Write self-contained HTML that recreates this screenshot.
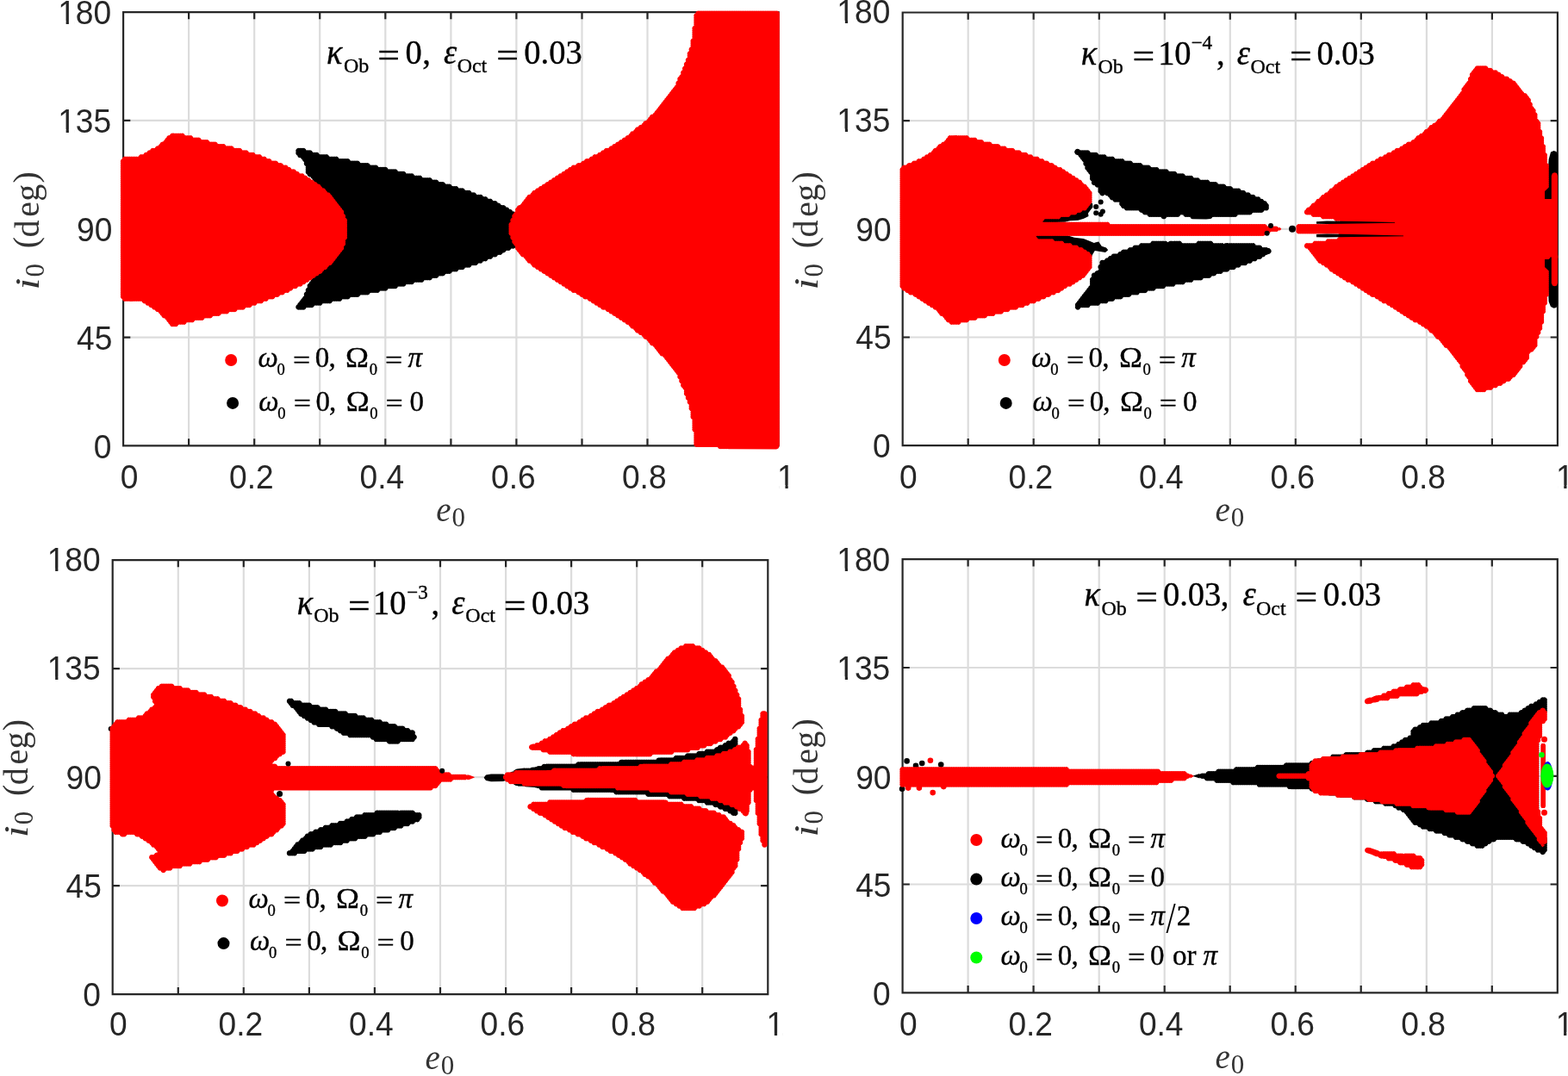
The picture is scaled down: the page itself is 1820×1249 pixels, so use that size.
<!DOCTYPE html>
<html lang="en"><head><meta charset="utf-8"><title>Figure</title>
<style>html,body{margin:0;padding:0;background:#fff}body{width:1820px;height:1249px;overflow:hidden}svg{display:block}.s{font-family:"Liberation Sans",sans-serif;fill:#262626}.r{font-family:"Liberation Serif",serif;fill:#000;stroke:#000;stroke-width:.35px}.l{font-family:"Liberation Serif",serif;fill:#333}.i{font-style:italic}</style></head><body>
<svg width="1820" height="1249" viewBox="0 0 1820 1249">
<rect width="1820" height="1249" fill="#fff"/>
<path d="M219.1 14.1V517.4M295.2 14.1V517.4M371.2 14.1V517.4M447.3 14.1V517.4M523.4 14.1V517.4M599.4 14.1V517.4M675.5 14.1V517.4M751.5 14.1V517.4M827.6 14.1V517.4M143.1 139.9H903.6M143.1 265.8H903.6M143.1 391.6H903.6" stroke="#dcdcdc" stroke-width="2.2" fill="none"/>
<path d="M143.1 14.1H903.6V517.4H143.1ZM219.1 14.1v8.2M219.1 517.4v-8.2M295.2 14.1v8.2M295.2 517.4v-8.2M371.2 14.1v8.2M371.2 517.4v-8.2M447.3 14.1v8.2M447.3 517.4v-8.2M523.4 14.1v8.2M523.4 517.4v-8.2M599.4 14.1v8.2M599.4 517.4v-8.2M675.5 14.1v8.2M675.5 517.4v-8.2M751.5 14.1v8.2M751.5 517.4v-8.2M827.6 14.1v8.2M827.6 517.4v-8.2M143.1 139.9h8.2M903.6 139.9h-8.2M143.1 265.8h8.2M903.6 265.8h-8.2M143.1 391.6h8.2M903.6 391.6h-8.2" stroke="#262626" stroke-width="2.2" fill="none"/>
<path d="M345.3 180.5l0.3 1.2l1.2 1.2l1.6 0.4l0.7-0.2l0.3 1l1.2 1.2l0.4 0.1l0.3 1.1l1.2 1.3l0.4 0.1l0.2 0.7l-0.4 1.2l0.5 1.7l1.2 1.2l0.4 0.1l0.2 0.7l-0.4 1.2l0.4 1.2l-0.4 1.2l0.4 1.3l-0.4 1.2l0.5 1.6l1.2 1.3l0.4 0.1l0.3 1.1l1.2 1.2l1.6 0.5l0.7-0.2l0.3 1l1.2 1.2l0.4 0.1l0.3 1.1l1.2 1.2l0.4 0.1l0.3 1.2l1.2 1.2l0.4 0.1l0.3 1.1l1.2 1.2l0.4 0.1l0.3 1.2l1.2 1.2l0.4 0.1l0.3 1.1l1.2 1.2l0.4 0.1l0.3 1.1l1.2 1.3l0.4 0.1l0.3 1.1l1.2 1.2l0.4 0.1l0.3 1.2l1.2 1.2l0.4 0.1l0.3 1.1l1.2 1.2l0.4 0.1l0.3 1.2l1.2 1.2l0.4 0.1l0.2 0.7l-0.3 1.2l0.3 1.2l-0.3 1.2l0.3 1.3l-0.3 1.2l0.3 1.2l-0.3 1.2l0.3 1.3l-0.3 1.2l0.3 1.2l-0.3 1.3l0.3 1.2l-0.3 1.2l0.3 1.2l-0.3 1.3l0.3 1.2l-0.3 1.2l0.3 1.2l-0.3 1.2l0.3 1.3l-0.3 1.2l0.3 1.2l-0.3 1.3l0.3 1.2l-0.3 1.2l0.3 1.2l-0.3 1.3l0.3 1.2l-0.3 1.2l0.3 1.2l-0.3 1.2l0.3 1.3l-0.3 1.2l0.3 1.2l-0.3 1.3l0.3 1.2l-0.3 1.2l0.3 1.2l-0.3 1.2l0.3 1.3l-0.3 1.2l0.3 1.2l-0.3 1.3l0.3 1.2l-0.3 1.2l0.3 1.2l-0.3 1.2l0.3 1.3l-0.3 1.2l0.3 1.2l-0.3 1.2l0.3 1.3l-0.3 1.2l0.3 1.2l-0.2 0.7l-0.4 0.1l-1.2 1.3l-0.3 1.1l-0.4 0.1l-1.2 1.2l-0.3 1.1l-0.4 0.1l-1.2 1.3l-0.3 1.1l-0.4 0.1l-1.2 1.2l-0.3 1.1l-0.4 0.1l-1.2 1.3l-0.3 1.1l-0.4 0.1l-1.2 1.2l-0.3 1.1l-0.4 0.1l-1.2 1.3l-0.3 1.1l-0.4 0.1l-1.2 1.2l-0.3 1.1l-0.4 0.1l-1.2 1.3l-0.3 1.1l-0.4 0.1l-1.2 1.2l-0.3 1.1l-0.4 0.1l-1.2 1.3l-0.3 1.1l-0.4 0.1l-1.2 1.2l-0.3 1.1l-0.4 0.1l-1.2 1.2l-0.5 1.7l0.4 1.2l-0.2 0.7l-0.4 0.1l-1.2 1.3l-0.5 1.6l0.4 1.2l-0.2 0.7l-0.4 0.1l-1.2 1.3l-0.5 1.6l0.4 1.2l-0.2 0.7l-0.4 0.1l-1.2 1.3l-0.3 1.1l-0.4 0.1l-1.2 1.2l-0.3 1.1l-0.4 0.1l-1.2 1.3l-0.3 1.1l-0.4 0.1l-1.2 1.2l-0.3 1.1l-0.4 0.1l-1.2 1.3l-0.5 1.6l0.3 1.2l0.2 0.4l1.2 1.3l1.6 0.4l1-0.3l0.9 0.3l1-0.3l0.9 0.3l1-0.3l0.9 0.3l1.7-0.4l1.2-1.3l0.3-0.9l0.6 0.1l1-0.2l0.9 0.2l1-0.2l0.9 0.2l1-0.2l0.9 0.2l1.7-0.4l1.2-1.2l0.3-1l0.6 0.2l1-0.3l0.9 0.3l1-0.3l0.9 0.3l1-0.3l0.9 0.3l1.7-0.4l1.2-1.3l0.3-0.9l0.7 0.2l0.9-0.3l1 0.3l0.9-0.3l1 0.3l0.9-0.3l1 0.3l0.9-0.3l1 0.3l1.6-0.5l1.2-1.2l0.3-1l0.7 0.2l0.9-0.3l1 0.3l0.9-0.3l1 0.3l0.9-0.3l1 0.3l0.9-0.3l1 0.3l1.6-0.4l1.2-1.3l0.3-0.9l0.7 0.1l0.9-0.2l1 0.2l0.9-0.2l1 0.2l0.9-0.2l1 0.2l1.6-0.4l1.2-1.2l0.3-0.9l0.7 0.1l0.9-0.3l1 0.3l0.9-0.3l1 0.3l0.9-0.3l1 0.3l0.9-0.3l1 0.3l1.6-0.4l1.2-1.3l0.3-0.9l0.7 0.2l0.9-0.3l1 0.3l0.9-0.3l1 0.3l0.9-0.3l1 0.3l0.9-0.3l1 0.3l1.6-0.5l1.2-1.2l0.3-1l0.7 0.2l0.9-0.3l1 0.3l0.9-0.3l1 0.3l0.9-0.3l1 0.3l0.9-0.3l1 0.3l1.6-0.4l1.3-1.3l0.2-0.9l0.7 0.2l0.9-0.3l1 0.3l0.9-0.3l1 0.3l0.9-0.3l1 0.3l1.7-0.5l1.2-1.2l0.2-0.9l0.7 0.1l1-0.3l0.9 0.3l1-0.3l0.9 0.3l1-0.3l0.9 0.3l1-0.3l0.9 0.3l1.7-0.4l1.2-1.3l0.2-0.9l0.7 0.2l1-0.3l0.9 0.3l1-0.3l0.9 0.3l1-0.3l0.9 0.3l1.7-0.5l1.2-1.2l0.2-1l0.7 0.2l1-0.3l0.9 0.3l1-0.3l0.9 0.3l1-0.3l0.9 0.3l1.7-0.4l1.2-1.3l0.3-0.9l0.6 0.2l1-0.3l0.9 0.3l1-0.3l0.9 0.3l1-0.3l0.9 0.3l1-0.3l0.9 0.3l1.7-0.5l1.2-1.2l0.2-1l0.7 0.2l1-0.3l0.9 0.3l1-0.3l0.9 0.3l1-0.3l0.9 0.3l1.7-0.4l1.2-1.2l0.3-1l0.6 0.1l1-0.2l0.9 0.2l1-0.2l0.9 0.2l1.7-0.4l1.2-1.2l0.3-1l0.6 0.2l1-0.3l0.9 0.3l1-0.3l0.9 0.3l1.7-0.4l1.2-1.3l0.3-0.9l0.6 0.2l1-0.3l0.9 0.3l1-0.3l0.9 0.3l1.7-0.5l1.2-1.2l0.3-1l0.7 0.2l0.9-0.3l1 0.3l0.9-0.3l1 0.3l1.6-0.4l1.2-1.3l0.3-0.9l0.7 0.2l0.9-0.3l1 0.3l0.9-0.3l1 0.3l1.6-0.5l1.2-1.2l0.3-1l0.7 0.2l0.9-0.3l1 0.3l0.9-0.3l1 0.3l1.6-0.4l1.2-1.3l0.3-0.9l0.7 0.1l0.9-0.2l1 0.2l0.9-0.2l1 0.2l1.6-0.4l1.2-1.2l0.3-1l0.7 0.2l0.9-0.3l1 0.3l1.6-0.4l1.2-1.3l0.3-0.9l0.7 0.2l0.9-0.3l1 0.3l1.6-0.5l1.2-1.2l0.3-1l0.7 0.2l0.9-0.3l1 0.3l1.6-0.4l1.2-1.3l0.3-0.9l0.7 0.1l0.9-0.2l1 0.2l1.6-0.4l1.2-1.2l0.3-1l0.7 0.2l0.9-0.3l1 0.3l1.6-0.4l1.2-1.3l0.3-0.9l0.7 0.2l1.6-0.5l1.2-1.2l0.3-1l0.7 0.2l0.9-0.3l1 0.3l1.6-0.4l1.3-1.3l0.2-0.9l0.7 0.2l0.9-0.3l1 0.3l1.6-0.5l1.3-1.2l0.4-1.6l-0.3-1.3l0.3-1.2l-0.3-1.2l0.2-0.7l0.3-0.1l1.3-1.3l0.4-1.6l-0.3-1.2l0.3-1.2l-0.3-1.3l0.2-0.7l0.3-0.1l1.3-1.2l0.4-1.7l-0.3-1.2l0.3-1.2l-0.3-1.2l0.3-1.2l-0.3-1.3l0.3-1.2l-0.3-1.2l0.3-1.2l-0.4-1.7l-1.3-1.2l-0.3-0.1l-0.2-0.7l0.3-1.3l-0.3-1.2l0.3-1.2l-0.4-1.7l-1.3-1.2l-0.3-0.1l-0.2-0.7l0.3-1.2l-0.4-1.7l-1.3-1.2l-1.6-0.4l-0.7 0.2l-0.2-1l-1.3-1.2l-1.6-0.5l-0.7 0.2l-0.2-1l-1.3-1.2l-1.6-0.4l-0.7 0.2l-0.3-1l-1.2-1.2l-1.6-0.5l-1 0.3l-0.9-0.3l-0.7 0.2l-0.3-0.9l-1.2-1.3l-1.6-0.4l-0.7 0.2l-0.3-1l-1.2-1.2l-1.6-0.5l-1 0.3l-0.9-0.3l-0.7 0.2l-0.3-1l-1.2-1.2l-1.6-0.4l-1 0.3l-0.9-0.3l-0.7 0.2l-0.3-1l-1.2-1.2l-1.6-0.5l-1 0.3l-0.9-0.3l-0.7 0.2l-0.3-1l-1.2-1.2l-1.6-0.4l-1 0.3l-0.9-0.3l-1 0.3l-0.9-0.3l-0.7 0.2l-0.3-1l-1.2-1.2l-1.6-0.5l-1 0.3l-0.9-0.3l-0.7 0.2l-0.3-1l-1.2-1.2l-1.6-0.4l-1 0.3l-0.9-0.3l-1 0.3l-0.9-0.3l-0.7 0.2l-0.3-1l-1.2-1.2l-1.6-0.5l-1 0.3l-0.9-0.3l-1 0.3l-0.9-0.3l-0.7 0.2l-0.3-1l-1.2-1.2l-1.6-0.4l-1 0.3l-0.9-0.3l-1 0.3l-0.9-0.3l-0.7 0.2l-0.3-1l-1.2-1.2l-1.7-0.5l-0.9 0.3l-1-0.3l-0.9 0.3l-1-0.3l-0.6 0.2l-0.3-0.9l-1.2-1.3l-1.7-0.4l-0.9 0.3l-1-0.3l-0.9 0.3l-1-0.3l-0.6 0.2l-0.3-1l-1.2-1.2l-1.7-0.5l-0.9 0.3l-1-0.3l-0.9 0.3l-1-0.3l-0.6 0.2l-0.3-0.9l-1.2-1.3l-1.7-0.4l-0.9 0.3l-1-0.3l-0.9 0.3l-1-0.3l-0.9 0.3l-1-0.3l-0.9 0.3l-1-0.3l-0.7 0.2l-0.2-1l-1.2-1.2l-1.7-0.5l-0.9 0.3l-1-0.3l-0.9 0.3l-1-0.3l-0.9 0.3l-1-0.3l-0.7 0.2l-0.2-1l-1.2-1.2l-1.7-0.4l-0.9 0.3l-1-0.3l-0.9 0.3l-1-0.3l-0.9 0.3l-1-0.3l-0.7 0.2l-0.2-1l-1.2-1.2l-1.7-0.4l-0.9 0.2l-1-0.2l-0.9 0.2l-1-0.2l-0.9 0.2l-1-0.2l-0.7 0.1l-0.2-1l-1.2-1.2l-1.7-0.4l-0.9 0.3l-1-0.3l-0.9 0.3l-1-0.3l-0.9 0.3l-1-0.3l-0.9 0.3l-1-0.3l-0.7 0.2l-0.2-1l-1.2-1.2l-1.7-0.5l-1 0.3l-0.9-0.3l-1 0.3l-0.9-0.3l-1 0.3l-0.9-0.3l-1 0.3l-0.9-0.3l-0.6 0.2l-0.3-1l-1.3-1.2l-1.6-0.4l-1 0.3l-0.9-0.3l-1 0.3l-0.9-0.3l-1 0.3l-0.9-0.3l-0.7 0.2l-0.3-1l-1.2-1.2l-1.6-0.5l-1 0.3l-0.9-0.3l-1 0.3l-0.9-0.3l-1 0.3l-0.9-0.3l-1 0.3l-0.9-0.3l-0.7 0.2l-0.3-0.9l-1.2-1.3l-1.6-0.4l-1 0.3l-0.9-0.3l-1 0.3l-0.9-0.3l-1 0.3l-0.9-0.3l-1 0.3l-0.9-0.3l-0.7 0.2l-0.3-1l-1.2-1.2l-1.6-0.5l-1 0.3l-0.9-0.3l-1 0.3l-0.9-0.3l-1 0.3l-0.9-0.3l-1 0.3l-0.9-0.3l-1 0.3l-0.9-0.3l-0.7 0.2l-0.3-1l-1.2-1.2l-1.6-0.4l-1 0.3l-0.9-0.3l-1 0.3l-0.9-0.3l-1 0.3l-0.9-0.3l-1 0.3l-0.9-0.3l-0.7 0.2l-0.3-1l-1.2-1.2l-1.6-0.5l-1 0.3l-0.9-0.3l-1 0.3l-0.9-0.3l-1 0.3l-0.9-0.3l-1 0.3l-1-0.3l-0.6 0.2l-0.3-1l-1.2-1.2l-1.7-0.4l-0.9 0.3l-1-0.3l-0.9 0.3l-1-0.3l-0.6 0.2l-0.3-1l-1.2-1.2l-1.7-0.5l-0.9 0.3l-1-0.3l-0.9 0.3l-1-0.3l-0.6 0.2l-0.3-1l-1.2-1.2l-1.7-0.4l-0.9 0.3l-1-0.3l-0.9 0.3l-1-0.3l-0.9 0.3l-1-0.3l-1.6 0.4l-1.2 1.2l-0.5 1.7l0.4 1.2l-0.4 1.3l0.5 1.6l1.2 1.2z" fill="#000000"/>
<path d="M151.9 349.9l1.9-0.2l0.7 0.2l1-0.3l0.9 0.3l1-0.3l0.9 0.3l1-0.3l0.9 0.3l1-0.3l0.9 0.3l1-0.3l0.9 0.3l0.7-0.2l0.3 1l1.2 1.2l1.6 0.5l0.7-0.2l0.3 0.9l1.2 1.3l1.6 0.4l0.7-0.2l0.3 1l1.2 1.2l1.6 0.4l0.7-0.1l0.3 0.9l1.2 1.3l1.6 0.4l0.7-0.2l0.3 1l1.2 1.2l1.6 0.5l0.7-0.2l0.3 0.9l1.2 1.3l0.4 0.1l0.3 1.1l1.2 1.2l0.4 0.1l0.3 1.1l1.2 1.3l1.6 0.4l0.7-0.2l0.3 1l1.2 1.2l0.4 0.1l0.3 1.2l1.2 1.2l0.4 0.1l0.3 1.1l1.2 1.2l0.4 0.1l0.3 1.1l1.2 1.3l1.6 0.4l1-0.3l0.9 0.3l1-0.3l0.9 0.3l1.7-0.4l1.2-1.3l0.3-0.9l0.6 0.2l1-0.3l0.9 0.3l1-0.3l0.9 0.3l1-0.3l0.9 0.3l1.7-0.5l1.2-1.2l0.3-1l0.6 0.2l1-0.3l1 0.3l0.9-0.3l1 0.3l0.9-0.3l1 0.3l1.6-0.4l1.2-1.2l0.3-1l0.7 0.1l0.9-0.2l1 0.2l0.9-0.2l1 0.2l0.9-0.2l1 0.2l0.9-0.2l1 0.2l1.6-0.4l1.2-1.2l0.3-1l0.7 0.2l0.9-0.3l1 0.3l0.9-0.3l1 0.3l0.9-0.3l1 0.3l1.6-0.4l1.2-1.3l0.3-0.9l0.7 0.2l0.9-0.3l1 0.3l0.9-0.3l1 0.3l0.9-0.3l1 0.3l1.6-0.5l1.2-1.2l0.3-1l0.7 0.2l0.9-0.3l1 0.3l0.9-0.3l1 0.3l0.9-0.3l1 0.3l1.6-0.4l1.2-1.3l0.3-0.9l0.7 0.2l0.9-0.3l1 0.3l0.9-0.3l1 0.3l0.9-0.3l1 0.3l1.6-0.5l1.2-1.2l0.3-1l0.7 0.2l0.9-0.3l1 0.3l0.9-0.3l1 0.3l0.9-0.3l1 0.3l1.6-0.4l1.2-1.3l0.3-0.9l0.7 0.1l0.9-0.2l1 0.2l0.9-0.2l1 0.2l1.6-0.4l1.3-1.2l0.2-1l0.7 0.2l0.9-0.3l1 0.3l1.7-0.4l1.2-1.3l0.2-0.9l0.7 0.2l1-0.3l0.9 0.3l1-0.3l0.9 0.3l1.7-0.5l1.2-1.2l0.2-1l0.7 0.2l1-0.3l0.9 0.3l1.7-0.4l1.2-1.3l0.2-0.9l0.7 0.1l1-0.2l0.9 0.2l1-0.2l0.9 0.2l1.7-0.4l1.2-1.2l0.2-1l0.7 0.2l1-0.3l0.9 0.3l1.7-0.4l1.2-1.3l0.2-0.9l0.7 0.2l1-0.3l0.9 0.3l1.7-0.5l1.2-1.2l0.2-1l0.7 0.2l1-0.3l0.9 0.3l1.7-0.4l1.2-1.3l0.2-0.9l0.7 0.2l1.7-0.5l1.2-1.2l0.2-1l0.7 0.2l1-0.3l0.9 0.3l1.7-0.4l1.2-1.3l0.3-0.9l0.6 0.2l1-0.3l0.9 0.3l1.7-0.5l1.2-1.2l0.3-1l0.6 0.2l1.7-0.4l1.2-1.3l0.3-0.9l0.6 0.2l1.7-0.5l1.2-1.2l0.3-1l0.6 0.2l1.7-0.4l1.2-1.2l0.3-1l0.6 0.1l1.7-0.4l1.2-1.2l0.3-1l0.6 0.2l1.7-0.4l1.2-1.3l0.3-0.9l0.6 0.2l1.7-0.5l1.2-1.2l0.3-1.1l0.4-0.1l1.2-1.3l0.3-0.9l0.7 0.2l1.6-0.5l1.2-1.2l0.3-1.1l0.4-0.1l1.2-1.3l0.3-0.9l0.7 0.1l1.6-0.4l1.2-1.2l0.3-1.1l0.4-0.1l1.2-1.3l0.3-1.1l0.4-0.1l1.2-1.2l0.3-1.1l0.4-0.1l1.2-1.3l0.3-1.1l0.4-0.1l1.2-1.2l0.3-1.1l0.4-0.1l1.2-1.3l0.3-1.1l0.4-0.1l1.2-1.2l0.3-1.1l0.4-0.1l1.2-1.3l0.5-1.6l-0.4-1.2l0.2-0.7l0.4-0.1l1.2-1.3l0.5-1.6l-0.4-1.2l0.4-1.3l-0.4-1.2l0.2-0.7l0.4-0.1l1.2-1.2l0.5-1.6l-0.4-1.3l0.4-1.2l-0.4-1.2l0.4-1.3l-0.4-1.2l0.4-1.2l-0.4-1.2l0.4-1.2l-0.4-1.3l0.4-1.2l-0.4-1.2l0.4-1.2l-0.4-1.3l0.4-1.2l-0.4-1.2l0.4-1.3l-0.5-1.6l-1.2-1.2l-0.4-0.1l-0.2-0.7l0.4-1.2l-0.5-1.7l-1.2-1.2l-0.4-0.1l-0.2-0.7l0.4-1.2l-0.5-1.7l-1.2-1.2l-0.4-0.1l-0.3-1.2l-1.2-1.2l-0.4-0.1l-0.3-1.1l-1.2-1.2l-0.4-0.1l-0.3-1.1l-1.2-1.3l-0.4-0.1l-0.3-1.1l-1.2-1.2l-0.4-0.1l-0.3-1.2l-1.2-1.2l-0.4-0.1l-0.3-1.1l-1.2-1.2l-0.4-0.1l-0.3-1.2l-1.2-1.2l-0.4-0.1l-0.3-1.1l-1.2-1.2l-1.6-0.5l-0.7 0.2l-0.3-1l-1.2-1.2l-0.4-0.1l-0.3-1.1l-1.2-1.2l-1.6-0.5l-0.7 0.2l-0.3-1l-1.2-1.2l-0.4-0.1l-0.3-1.1l-1.2-1.2l-1.7-0.5l-0.6 0.2l-0.3-0.9l-1.2-1.3l-1.7-0.4l-0.6 0.2l-0.3-1l-1.2-1.2l-1.7-0.5l-0.6 0.2l-0.3-0.9l-1.2-1.3l-1.7-0.4l-0.6 0.2l-0.3-1l-1.2-1.2l-1.7-0.5l-0.6 0.2l-0.3-1l-1.2-1.2l-1.7-0.4l-0.9 0.3l-1-0.3l-0.6 0.2l-0.3-1l-1.2-1.2l-1.7-0.4l-0.6 0.1l-0.3-1l-1.2-1.2l-1.7-0.4l-0.9 0.3l-1-0.3l-0.7 0.2l-0.2-1l-1.2-1.2l-1.7-0.5l-0.7 0.2l-0.2-1l-1.2-1.2l-1.7-0.4l-0.9 0.3l-1-0.3l-0.7 0.2l-0.2-1l-1.2-1.2l-1.7-0.5l-0.9 0.3l-1-0.3l-0.7 0.2l-0.2-0.9l-1.2-1.3l-1.7-0.4l-0.9 0.3l-1-0.3l-0.9 0.3l-1-0.3l-0.7 0.2l-0.2-1l-1.2-1.2l-1.7-0.5l-0.9 0.3l-1-0.3l-0.7 0.2l-0.2-1l-1.2-1.2l-1.7-0.4l-0.9 0.3l-1-0.3l-0.7 0.2l-0.2-1l-1.2-1.2l-1.7-0.5l-0.9 0.3l-1-0.3l-0.9 0.3l-1-0.3l-0.7 0.2l-0.2-1l-1.3-1.2l-1.6-0.4l-1 0.3l-0.9-0.3l-1 0.3l-0.9-0.3l-0.7 0.2l-0.2-1l-1.3-1.2l-1.6-0.5l-1 0.3l-0.9-0.3l-1 0.3l-0.9-0.3l-0.7 0.2l-0.3-1l-1.2-1.2l-1.6-0.4l-1 0.3l-0.9-0.3l-1 0.3l-0.9-0.3l-1 0.3l-0.9-0.3l-0.7 0.2l-0.3-1l-1.2-1.2l-1.6-0.5l-1 0.3l-0.9-0.3l-1 0.3l-0.9-0.3l-1 0.3l-0.9-0.3l-0.7 0.2l-0.3-1l-1.2-1.2l-1.6-0.4l-1 0.3l-0.9-0.3l-1 0.3l-0.9-0.3l-1 0.3l-0.9-0.3l-0.7 0.2l-0.3-1l-1.2-1.2l-1.6-0.5l-1 0.3l-0.9-0.3l-1 0.3l-0.9-0.3l-1 0.3l-0.9-0.3l-0.7 0.2l-0.3-0.9l-1.2-1.3l-1.6-0.4l-1 0.3l-0.9-0.3l-1 0.3l-0.9-0.3l-1 0.3l-0.9-0.3l-0.7 0.2l-0.3-1l-1.2-1.2l-1.6-0.5l-1 0.3l-0.9-0.3l-1 0.3l-0.9-0.3l-1 0.3l-0.9-0.3l-0.7 0.2l-0.3-1l-1.2-1.2l-1.6-0.4l-1 0.3l-0.9-0.3l-1 0.3l-1-0.3l-0.9 0.3l-1-0.3l-0.6 0.2l-0.3-1l-1.2-1.2l-1.7-0.5l-0.9 0.3l-1-0.3l-0.9 0.3l-1-0.3l-0.9 0.3l-1-0.3l-0.9 0.3l-1-0.3l-0.9 0.3l-1.3-0.4l-0.9 0.3l-0.7-0.2l-1.6 0.5l-1.2 1.2l-0.3 1l-0.7-0.2l-1.6 0.4l-1.2 1.2l-0.3 1.2l-0.4 0.1l-1.2 1.2l-0.3 1.1l-0.4 0.1l-1.2 1.3l-0.3 0.9l-0.7-0.2l-1.6 0.5l-1.2 1.2l-0.3 1.1l-0.4 0.1l-1.2 1.2l-0.3 1l-0.7-0.2l-1.6 0.5l-1.2 1.2l-0.3 1l-0.7-0.2l-0.9 0.3l-1-0.3l-1.6 0.4l-1.2 1.2l-0.3 1l-0.7-0.2l-1.6 0.5l-1.2 1.2l-0.3 1l-0.7-0.2l-1.6 0.4l-1.2 1.2l-0.3 1l-0.7-0.2l-0.9 0.3l-1-0.3l-1.6 0.5l-1.2 1.2l-0.3 0.9l-0.7-0.1l-0.9 0.3l-1-0.3l-0.9 0.3l-1-0.3l-0.9 0.3l-1-0.3l-0.9 0.3l-1-0.3l-0.9 0.3l-1-0.3l-0.9 0.3l-1-0.3l-0.9 0.3l-1-0.3l-0.9 0.3l-1-0.3l-1.6 0.4l-1.3 1.2l-0.3 1.2l-0.4 0.1l-1.2 1.2l-0.4 1.6l0.3 1.3l-0.3 1.2l0.3 1.2l-0.3 1.2l0.3 1.3l-0.3 1.2l0.3 1.2l-0.3 1.2l0.3 1.3l-0.3 1.2l0.3 1.2l-0.3 1.3l0.3 1.2l-0.3 1.2l0.3 1.2l-0.3 1.2l0.3 1.3l-0.3 1.2l0.3 1.2l-0.3 1.2l0.3 1.3l-0.3 1.2l0.3 1.2l-0.3 1.3l0.3 1.2l-0.3 1.2l0.3 1.2l-0.3 1.3l0.3 1.2l-0.3 1.2l0.3 1.2l-0.3 1.3l0.3 1.2l-0.3 1.2l0.3 1.2l-0.3 1.2l0.3 1.3l-0.3 1.2l0.3 1.2l-0.3 1.2l0.3 1.3l-0.3 1.2l0.3 1.2l-0.3 1.2l0.3 1.3l-0.3 1.2l0.3 1.2l-0.3 1.3l0.3 1.2l-0.3 1.2l0.3 1.2l-0.3 1.3l0.3 1.2l-0.3 1.2l0.3 1.2l-0.3 1.2l0.3 1.3l-0.3 1.2l0.3 1.2l-0.3 1.3l0.3 1.2l-0.3 1.2l0.3 1.2l-0.3 1.3l0.3 1.2l-0.3 1.2l0.3 1.2l-0.3 1.2l0.3 1.3l-0.3 1.2l0.3 1.2l-0.3 1.3l0.3 1.2l-0.3 1.2l0.3 1.2l-0.3 1.2l0.3 1.3l-0.3 1.2l0.3 1.2l-0.3 1.3l0.3 1.2l-0.3 1.2l0.3 1.2l-0.3 1.2l0.3 1.3l-0.3 1.2l0.3 1.2l-0.3 1.2l0.3 1.3l-0.3 1.2l0.3 1.2l-0.3 1.3l0.3 1.2l-0.3 1.2l0.3 1.2l-0.3 1.2l0.3 1.3l-0.3 1.2l0.3 1.2l-0.3 1.3l0.3 1.2l-0.3 1.2l0.3 1.2l-0.3 1.3l0.3 1.2l-0.3 1.2l0.3 1.2l-0.3 1.2l0.3 1.3l-0.3 1.2l0.3 1.2l-0.3 1.3l0.3 1.2l-0.3 1.2l0.3 1.2l-0.3 1.2l0.3 1.3l-0.3 1.2l0.3 1.2l-0.3 1.3l0.3 1.2l-0.3 1.2l0.3 1.2l-0.3 1.2l0.3 1.3l-0.3 1.2l0.3 1.2l-0.3 1.2l0.4 1.7l1.2 1.2l0.4 0.1l0.3 1.1l1.3 1.3l1.6 0.4l1-0.3l0.9 0.3l1-0.3l0.9 0.3l1-0.3l0.9 0.3l0.6-0.2z" fill="#ff0000"/>
<path d="M626.3 216.3l-1.2 1.2l-0.3 1l-0.7-0.2l-1.6 0.5l-1.2 1.2l-0.3 1l-0.7-0.2l-1.6 0.4l-1.2 1.2l-0.3 1.2l-0.4 0.1l-1.2 1.2l-0.3 1l-0.7-0.2l-1.6 0.4l-1.2 1.2l-0.4 1.2l-0.3 0.1l-1.2 1.2l-0.4 1.1l-0.3 0.1l-1.3 1.2l-0.3 1.2l-0.3 0.1l-1.3 1.2l-0.3 1.1l-0.3 0.1l-1.3 1.3l-0.2 0.9l-0.7-0.2l-1.6 0.5l-1.3 1.2l-0.3 1.1l-0.3 0.1l-1.3 1.2l-0.4 1.7l0.3 1.2l-0.2 0.7l-0.3 0.1l-1.3 1.2l-0.3 1.2l-0.4 0.1l-1.2 1.2l-0.4 1.7l0.3 1.2l-0.2 0.7l-0.4 0.1l-1.2 1.2l-0.4 1.6l0.3 1.3l-0.2 0.7l-0.4 0.1l-1.2 1.2l-0.4 1.7l0.3 1.2l-0.3 1.2l0.3 1.2l-0.3 1.3l0.3 1.2l-0.3 1.2l0.3 1.2l-0.3 1.2l0.4 1.7l1.2 1.2l0.4 0.1l0.2 0.7l-0.3 1.3l0.4 1.6l1.2 1.2l0.4 0.1l0.2 0.7l-0.3 1.2l0.4 1.7l1.2 1.2l0.4 0.1l0.3 1.1l1.3 1.3l0.3 0.1l0.2 0.7l-0.3 1.2l0.4 1.6l1.3 1.3l0.3 0.1l0.3 1.1l1.3 1.2l0.3 0.1l0.3 1.1l1.3 1.3l0.3 0.1l0.3 1.1l1.3 1.2l1.6 0.4l0.7-0.1l0.2 0.9l1.3 1.3l0.3 0.1l0.4 1.1l1.2 1.2l0.3 0.1l0.4 1.1l1.2 1.3l1.6 0.4l0.7-0.2l0.3 1l1.2 1.2l0.4 0.1l0.3 1.1l1.2 1.3l1.6 0.4l0.7-0.2l0.3 1l1.2 1.2l1.6 0.5l0.7-0.2l0.3 0.9l1.2 1.3l1.6 0.4l0.7-0.2l0.3 1l1.2 1.2l1.6 0.5l0.7-0.2l0.3 0.9l1.2 1.3l1.6 0.4l0.7-0.2l0.3 1l1.2 1.2l1.6 0.4l0.7-0.1l0.3 1l1.2 1.2l1.6 0.4l0.7-0.2l0.3 1l1.2 1.2l1.6 0.5l0.7-0.2l0.3 0.9l1.2 1.3l1.6 0.4l0.7-0.2l0.3 1l1.2 1.2l1.6 0.5l0.7-0.2l0.3 0.9l1.2 1.3l1.6 0.4l0.7-0.2l0.3 1l1.2 1.2l1.6 0.5l0.7-0.2l0.3 0.9l1.2 1.3l1.6 0.4l1-0.3l0.9 0.3l0.7-0.2l0.3 1l1.2 1.2l1.6 0.5l0.7-0.2l0.3 0.9l1.2 1.3l1.7 0.4l0.6-0.2l0.3 1l1.2 1.2l1.7 0.4l0.9-0.2l1 0.2l0.6-0.1l0.3 0.9l1.2 1.3l1.7 0.4l0.6-0.2l0.3 1l1.2 1.2l1.7 0.5l0.6-0.2l0.3 0.9l1.2 1.3l1.7 0.4l0.6-0.2l0.3 1l1.2 1.2l1.7 0.4l0.6-0.1l0.3 0.9l1.2 1.3l1.7 0.4l0.9-0.3l1 0.3l0.6-0.2l0.3 1l1.2 1.2l1.7 0.5l0.7-0.2l0.2 0.9l1.2 1.3l1.7 0.4l0.7-0.2l0.2 1l1.2 1.2l1.7 0.5l0.7-0.2l0.2 0.9l1.2 1.3l1.7 0.4l0.7-0.2l0.2 1l1.2 1.2l1.7 0.4l0.7-0.1l0.2 1l1.2 1.2l1.7 0.4l0.7-0.2l0.2 1l1.2 1.2l1.7 0.5l0.7-0.2l0.2 0.9l1.2 1.3l0.4 0.1l0.3 1.1l1.2 1.2l1.7 0.5l0.7-0.2l0.2 0.9l1.2 1.3l0.4 0.1l0.3 1.1l1.2 1.2l1.7 0.5l0.7-0.2l0.2 0.9l1.2 1.3l1.7 0.4l0.7-0.2l0.2 1l1.2 1.2l0.4 0.1l0.3 1.1l1.2 1.3l1.7 0.4l0.7-0.2l0.2 1l1.3 1.2l0.3 0.1l0.3 1.1l1.3 1.3l0.3 0.1l0.3 1.1l1.3 1.2l1.6 0.5l0.7-0.2l0.2 0.9l1.3 1.3l0.3 0.1l0.3 1.1l1.3 1.2l0.3 0.1l0.4 1.1l1.2 1.3l0.3 0.1l0.4 1.1l1.2 1.2l0.3 0.1l0.4 1.1l1.2 1.3l1.6 0.4l0.7-0.2l0.3 1l1.2 1.2l0.4 0.1l0.3 1.2l1.2 1.2l0.4 0.1l0.3 1.1l1.2 1.2l0.4 0.1l0.3 1.2l1.2 1.2l0.4 0.1l0.3 1.1l1.2 1.2l0.4 0.1l0.3 1.1l1.2 1.3l0.4 0.1l0.3 1.1l1.2 1.2l0.4 0.1l0.3 1.1l1.2 1.3l0.4 0.1l0.3 1.1l1.2 1.2l0.4 0.1l0.2 0.7l-0.4 1.2l0.5 1.7l1.2 1.2l0.4 0.1l0.2 0.7l-0.4 1.2l0.5 1.7l1.2 1.2l0.4 0.1l0.2 0.7l-0.4 1.3l0.5 1.6l1.2 1.2l0.4 0.1l0.3 1.1l1.2 1.3l0.4 0.1l0.2 0.7l-0.4 1.2l0.4 1.2l-0.4 1.3l0.5 1.6l1.2 1.2l0.4 0.1l0.2 0.7l-0.4 1.3l0.5 1.6l1.2 1.2l0.4 0.1l0.2 0.7l-0.4 1.2l0.5 1.7l1.2 1.2l0.4 0.1l0.2 0.7l-0.4 1.3l0.4 1.2l-0.4 1.2l0.5 1.6l1.2 1.3l0.4 0.1l0.2 0.7l-0.4 1.2l0.4 1.2l-0.4 1.3l0.4 1.2l-0.4 1.2l0.5 1.6l1.2 1.3l0.4 0.1l0.2 0.7l-0.4 1.2l0.4 1.2l-0.4 1.2l0.4 1.3l-0.4 1.2l0.4 1.2l-0.4 1.3l0.4 1.2l-0.4 1.2l0.5 1.6l1.2 1.3l0.4 0.1l0.2 0.7l-0.4 1.2l0.4 1.2l-0.4 1.3l0.4 1.2l-0.4 1.2l0.4 1.2l-0.4 1.3l0.4 1.2l-0.4 1.2l0.4 1.2l-0.4 1.2l0.5 1.7l1.2 1.2l1.6 0.4l0.6-0.1l1.3 0.1l22.6 0.1l0.5 1l0.8 0.7l0.8 0.4l1 0.2l0.9-0.2l1 0.2l0.9-0.2l1 0.2l0.9-0.2l1 0.2l0.9-0.2l1 0.2l0.9-0.2l1 0.2l1-0.1l0.8 0.1l1.1-0.1l0.8 0.1l1.1-0.1l50.7 0.2l1.2-0.3l1.1-0.7l0.8-1.3l0.1-1.6l0.3-0.2l0.4-1.7l-0.3-1.2l0.3-1.2l-0.3-1.2l0.3-1.2l-0.3-1.3l0.3-1.2l-0.3-1.2l0.3-1.2l-0.3-1.3l0.3-1.2l-0.3-1.2l0.3-1.2l-0.3-1.3l0.3-1.2l-0.3-1.2l0.3-1.2l-0.3-1.3l0.3-1.2l-0.3-1.2l0.3-1.3l-0.3-1.2l0.3-1.2l-0.3-1.2l0.3-1.3l-0.3-1.2l0.3-1.2l-0.3-1.2l0.3-1.2l-0.3-1.3l0.3-1.2l-0.3-1.2l0.3-1.2l-0.3-1.3l0.3-1.2l-0.3-1.2l0.3-1.2l-0.3-1.3l0.3-1.2l-0.3-1.2l0.3-1.3l-0.3-1.2l0.3-1.2l-0.3-1.2l0.3-1.2l-0.3-1.3l0.3-1.2l-0.3-1.2l0.3-1.2l-0.3-1.3l0.3-1.2l-0.3-1.2l0.3-1.2l-0.3-1.3l0.3-1.2l-0.3-1.2l0.3-1.2l-0.3-1.3l0.3-1.2l-0.3-1.2l0.3-1.3l-0.3-1.2l0.3-1.2l-0.3-1.2l0.3-1.3l-0.3-1.2l0.3-1.2l-0.3-1.2l0.3-1.2l-0.3-1.3l0.3-1.2l-0.3-1.2l0.3-1.2l-0.3-1.3l0.3-1.2l-0.3-1.2l0.3-1.2l-0.3-1.3l0.3-1.2l-0.3-1.2l0.3-1.3l-0.3-1.2l0.3-1.2l-0.3-1.2l0.3-1.2l-0.3-1.3l0.3-1.2l-0.3-1.2l0.3-1.2l-0.3-1.3l0.3-1.2l-0.3-1.2l0.3-1.2l-0.3-1.3l0.3-1.2l-0.3-1.2l0.3-1.2l-0.3-1.3l0.3-1.2l-0.3-1.2l0.3-1.3l-0.3-1.2l0.3-1.2l-0.3-1.2l0.3-1.3l-0.3-1.2l0.3-1.2l-0.3-1.2l0.3-1.2l-0.3-1.3l0.3-1.2l-0.3-1.2l0.3-1.3l-0.3-1.2l0.3-1.2l-0.3-1.2l0.3-1.2l-0.3-1.3l0.3-1.2l-0.3-1.2l0.3-1.3l-0.3-1.2l0.3-1.2l-0.3-1.2l0.3-1.2l-0.3-1.3l0.3-1.2l-0.3-1.2l0.3-1.2l-0.3-1.3l0.3-1.2l-0.3-1.2l0.3-1.3l-0.3-1.2l0.3-1.2l-0.3-1.2l0.3-1.2l-0.3-1.3l0.3-1.2l-0.3-1.2l0.3-1.3l-0.3-1.2l0.3-1.2l-0.3-1.2l0.3-1.3l-0.3-1.2l0.3-1.2l-0.3-1.2l0.3-1.2l-0.3-1.3l0.3-1.2l-0.3-1.2l0.3-1.3l-0.3-1.2l0.3-1.2l-0.3-1.2l0.3-1.2l-0.3-1.3l0.3-1.2l-0.3-1.2l0.3-1.3l-0.3-1.2l0.3-1.2l-0.3-1.2l0.3-1.2l-0.3-1.3l0.3-1.2l-0.3-1.2l0.3-1.2l-0.3-1.3l0.3-1.2l-0.3-1.2l0.3-1.3l-0.3-1.2l0.3-1.2l-0.3-1.2l0.3-1.2l-0.3-1.3l0.3-1.2l-0.3-1.2l0.3-1.3l-0.3-1.2l0.3-1.2l-0.3-1.2l0.3-1.3l-0.3-1.2l0.3-1.2l-0.3-1.2l0.3-1.2l-0.3-1.3l0.3-1.2l-0.3-1.2l0.3-1.3l-0.3-1.2l0.3-1.2l-0.3-1.2l0.3-1.2l-0.3-1.3l0.3-1.2l-0.3-1.2l0.3-1.3l-0.3-1.2l0.3-1.2l-0.3-1.2l0.3-1.2l-0.3-1.3l0.3-1.2l-0.3-1.2l0.3-1.2l-0.3-1.3l0.3-1.2l-0.3-1.2l0.3-1.3l-0.3-1.2l0.3-1.2l-0.3-1.2l0.3-1.2l-0.3-1.3l0.3-1.2l-0.3-1.2l0.3-1.2l-0.3-1.3l0.3-1.2l-0.3-1.2l0.3-1.3l-0.3-1.2l0.3-1.2l-0.3-1.2l0.3-1.3l-0.3-1.2l0.3-1.2l-0.3-1.2l0.3-1.3l-0.3-1.2l0.3-1.2l-0.3-1.2l0.3-1.2l-0.3-1.3l0.3-1.2l-0.3-1.2l0.3-1.2l-0.3-1.3l0.3-1.2l-0.3-1.2l0.3-1.2l-0.3-1.3l0.3-1.2l-0.3-1.2l0.3-1.3l-0.3-1.2l0.3-1.2l-0.3-1.2l0.3-1.3l-0.3-1.2l0.3-1.2l-0.3-1.2l0.3-1.2l-0.3-1.3l0.3-1.2l-0.3-1.2l0.3-1.3l-0.3-1.2l0.3-1.2l-0.3-1.2l0.3-1.3l-0.3-1.2l0.3-1.2l-0.3-1.2l0.3-1.3l-0.3-1.2l0.3-1.2l-0.3-1.2l0.3-1.3l-0.3-1.2l0.3-1.2l-0.3-1.2l0.3-1.2l-0.3-1.3l0.3-1.2l-0.3-1.2l0.3-1.3l-0.3-1.2l0.3-1.2l-0.3-1.2l0.3-1.2l-0.3-1.3l0.3-1.2l-0.3-1.2l0.3-1.3l-0.3-1.2l0.3-1.2l-0.3-1.2l0.3-1.3l-0.3-1.2l0.3-1.2l-0.3-1.2l0.3-1.2l-0.3-1.3l0.3-1.2l-0.3-1.2l0.3-1.3l-0.3-1.2l0.3-1.2l-0.3-1.2l0.3-1.3l-0.3-1.2l0.3-1.2l-0.3-1.2l0.3-1.3l-0.3-1.2l0.3-1.2l-0.3-1.2l0.3-1.3l-0.3-1.2l0.3-1.2l-0.3-1.2l0.3-1.3l-0.3-1.2l0.3-1.2l-0.3-1.2l0.3-1.3l-0.3-1.2l0.3-1.2l-0.3-1.2l0.3-1.2l-0.3-1.3l0.3-1.2l-0.3-1.2l0.3-1.3l-0.3-1.2l0.3-1.2l-0.3-1.2l0.3-1.3l-0.3-1.2l0.3-1.2l-0.3-1.2l0.3-1.3l-0.3-1.2l0.3-1.2l-0.3-1.2l0.3-1.3l-0.3-1.2l0.3-1.2l-0.3-1.2l0.3-1.3l-0.3-1.2l0.3-1.2l-0.3-1.2l0.3-1.3l-0.3-1.2l0.3-1.2l-0.3-1.2l0.3-1.3l-0.3-1.2l0.3-1.2l-0.3-1.2l0.3-1.3l-0.3-1.2l0.3-1.2l-0.3-1.2l0.3-1.3l-0.3-1.2l0.3-1.2l-0.3-1.2l0.3-1.2l-0.3-1.3l0.3-1.2l-0.3-1.2l0.3-1.3l-0.3-1.2l0.3-1.2l-0.3-1.2l0.3-1.3l-0.3-1.2l0.3-1.2l-0.3-1.2l0.3-1.3l-0.3-1.2l0.3-1.2l-0.3-1.2l0.3-1.3l-0.3-1.2l0.3-1.2l-0.3-1.2l0.3-1.3l-0.3-1.2l0.3-1.2l-0.3-1.2l0.3-1.3l-0.3-1.2l0.3-1.2l-0.3-1.2l0.3-1.3l-0.3-1.2l0.3-1.2l-0.3-1.2l0.3-1.3l-0.3-1.2l0.3-1.2l-0.3-1.2l0.3-1.3l-0.3-1.2l0.3-1.2l-0.3-1.2l0.3-1.3l-0.3-1.2l0.3-1.2l-0.3-1.2l0.3-1.3l-0.4-1.6l-1.3-1.2l-1.6-0.5l-1 0.3l-0.9-0.3l-1 0.3l-0.9-0.3l-1 0.3l-0.9-0.3l-1 0.3l-0.9-0.3l-1 0.3l-0.9-0.3l-1 0.3l-0.9-0.3l-1 0.3l-0.9-0.3l-1 0.3l-0.9-0.3l-1 0.3l-0.9-0.3l-1 0.3l-0.9-0.3l-1 0.3l-0.9-0.3l-1 0.3l-0.9-0.3l-1 0.3l-0.9-0.3l-1 0.3l-0.9-0.3l-1 0.3l-0.9-0.3l-1 0.3l-0.9-0.3l-1 0.3l-0.9-0.3l-1 0.3l-0.9-0.3l-1 0.3l-0.9-0.3l-1 0.3l-0.9-0.3l-1 0.3l-0.9-0.3l-1 0.3l-0.9-0.3l-1 0.3l-0.9-0.3l-1 0.3l-0.9-0.3l-1 0.3l-0.9-0.3l-1 0.3l-0.9-0.3l-1 0.3l-0.9-0.3l-1 0.3l-0.9-0.3l-1 0.3l-0.9-0.3l-1 0.3l-0.9-0.3l-1 0.3l-0.9-0.3l-1 0.3l-0.9-0.3l-1 0.3l-0.9-0.3l-1 0.3l-0.9-0.3l-1 0.3l-0.9-0.3l-1 0.3l-0.9-0.3l-1 0.3l-0.9-0.3l-1 0.3l-0.9-0.3l-1 0.3l-0.9-0.3l-1 0.3l-1-0.3l-0.9 0.3l-1-0.3l-0.9 0.3l-1-0.3l-0.9 0.3l-1-0.3l-0.9 0.3l-1-0.3l-0.9 0.3l-1-0.3l-0.9 0.3l-1-0.3l-0.9 0.3l-1-0.3l-0.9 0.3l-1-0.3l-1.6 0.5l-1.2 1.2l-0.3 1.1l-0.4 0.1l-1.2 1.2l-0.5 1.7l0.4 1.2l-0.4 1.2l0.4 1.3l-0.4 1.2l0.4 1.2l-0.4 1.2l0.4 1.3l-0.4 1.2l0.4 1.2l-0.2 0.7l-0.4 0.1l-1.2 1.2l-0.5 1.7l0.4 1.2l-0.4 1.2l0.4 1.3l-0.4 1.2l0.4 1.2l-0.4 1.2l0.4 1.3l-0.4 1.2l0.4 1.2l-0.2 0.7l-0.4 0.1l-1.2 1.2l-0.5 1.7l0.4 1.2l-0.4 1.2l0.4 1.3l-0.4 1.2l0.4 1.2l-0.2 0.7l-0.4 0.1l-1.2 1.2l-0.5 1.7l0.4 1.2l-0.2 0.7l-0.4 0.1l-1.2 1.2l-0.5 1.7l0.4 1.2l-0.4 1.2l0.4 1.3l-0.2 0.7l-0.4 0.1l-1.2 1.2l-0.5 1.7l0.4 1.2l-0.2 0.7l-0.4 0.1l-1.2 1.2l-0.5 1.6l0.4 1.3l-0.2 0.7l-0.4 0.1l-1.2 1.2l-0.5 1.6l0.4 1.3l-0.2 0.7l-0.4 0.1l-1.2 1.2l-0.5 1.6l0.4 1.3l-0.2 0.7l-0.4 0.1l-1.2 1.2l-0.3 1.1l-0.4 0.1l-1.2 1.2l-0.5 1.7l0.4 1.2l-0.2 0.7l-0.4 0.1l-1.2 1.2l-0.5 1.7l0.4 1.2l-0.2 0.7l-0.4 0.1l-1.2 1.2l-0.3 1.2l-0.4 0.1l-1.2 1.2l-0.3 1.1l-0.4 0.1l-1.2 1.2l-0.3 1.2l-0.4 0.1l-1.2 1.2l-0.3 1.1l-0.4 0.1l-1.2 1.2l-0.3 1.2l-0.4 0.1l-1.2 1.2l-0.3 1.1l-0.4 0.1l-1.2 1.2l-0.3 1.2l-0.4 0.1l-1.2 1.2l-0.3 1.1l-0.4 0.1l-1.2 1.2l-0.4 1.2l-0.3 0.1l-1.2 1.2l-0.4 1.1l-0.3 0.1l-1.2 1.2l-0.4 1.2l-0.3 0.1l-1.2 1.2l-0.4 1.1l-0.3 0.1l-1.3 1.2l-0.3 1.2l-0.3 0.1l-1.3 1.2l-0.2 1l-0.7-0.2l-1.6 0.4l-1.3 1.2l-0.3 1.2l-0.3 0.1l-1.3 1.2l-0.3 1.1l-0.3 0.1l-1.3 1.3l-0.2 0.9l-0.7-0.2l-1.7 0.5l-1.2 1.2l-0.3 1.1l-0.4 0.1l-1.2 1.2l-0.2 1l-0.7-0.2l-1.7 0.5l-1.2 1.2l-0.2 1l-0.7-0.2l-1.7 0.4l-1.2 1.2l-0.3 1.2l-0.4 0.1l-1.2 1.2l-0.2 1l-0.7-0.2l-1.7 0.4l-1.2 1.2l-0.3 1.2l-0.4 0.1l-1.2 1.2l-0.2 1l-0.7-0.2l-1.7 0.4l-1.2 1.2l-0.2 1l-0.7-0.2l-1.7 0.5l-1.2 1.2l-0.2 1l-0.7-0.2l-1.7 0.4l-1.2 1.3l-0.2 0.9l-0.7-0.2l-1.7 0.5l-1.2 1.2l-0.2 1l-0.7-0.2l-1.7 0.4l-1.2 1.2l-0.2 1l-0.7-0.2l-1.7 0.5l-1.2 1.2l-0.2 1l-0.7-0.2l-1 0.3l-0.9-0.3l-1.7 0.4l-1.2 1.2l-0.3 1l-0.6-0.2l-1.7 0.5l-1.2 1.2l-0.3 1l-0.6-0.2l-1.7 0.4l-1.2 1.2l-0.3 1l-0.6-0.2l-1 0.3l-0.9-0.3l-1.7 0.5l-1.2 1.2l-0.3 1l-0.6-0.2l-1.7 0.4l-1.2 1.2l-0.3 1l-0.6-0.2l-1 0.3l-0.9-0.3l-1.7 0.5l-1.2 1.2l-0.3 1l-0.6-0.2l-1.7 0.4l-1.2 1.3l-0.3 0.9l-0.7-0.2l-0.9 0.3l-1-0.3l-1.6 0.5l-1.2 1.2l-0.3 1l-0.7-0.2l-0.9 0.3l-1-0.3l-1.6 0.4l-1.2 1.2l-0.3 1l-0.7-0.2l-1.6 0.5l-1.2 1.2l-0.3 1l-0.7-0.2l-1.6 0.4l-1.2 1.2l-0.3 1l-0.7-0.1l-1.6 0.4l-1.2 1.2l-0.3 1l-0.7-0.2l-1.6 0.4l-1.2 1.2l-0.3 1l-0.7-0.2l-1.6 0.5l-1.2 1.2l-0.3 1l-0.7-0.2l-1.6 0.4l-1.2 1.3l-0.3 0.9l-0.7-0.2l-1.6 0.5l-1.2 1.2l-0.3 1l-0.7-0.2l-1.6 0.4l-1.2 1.3l-0.3 0.9l-0.7-0.2l-1.6 0.5l-1.2 1.2l-0.3 1l-0.7-0.2z" fill="#ff0000"/>
<path d="M1123.7 14.5V517.1M1199.7 14.5V517.1M1275.8 14.5V517.1M1351.8 14.5V517.1M1427.8 14.5V517.1M1503.8 14.5V517.1M1579.8 14.5V517.1M1655.9 14.5V517.1M1731.9 14.5V517.1M1047.7 140.2H1807.9M1047.7 265.8H1807.9M1047.7 391.5H1807.9" stroke="#dcdcdc" stroke-width="2.2" fill="none"/>
<path d="M1047.7 14.5H1807.9V517.1H1047.7ZM1123.7 14.5v8.2M1123.7 517.1v-8.2M1199.7 14.5v8.2M1199.7 517.1v-8.2M1275.8 14.5v8.2M1275.8 517.1v-8.2M1351.8 14.5v8.2M1351.8 517.1v-8.2M1427.8 14.5v8.2M1427.8 517.1v-8.2M1503.8 14.5v8.2M1503.8 517.1v-8.2M1579.8 14.5v8.2M1579.8 517.1v-8.2M1655.9 14.5v8.2M1655.9 517.1v-8.2M1731.9 14.5v8.2M1731.9 517.1v-8.2M1047.7 140.2h8.2M1807.9 140.2h-8.2M1047.7 265.8h8.2M1807.9 265.8h-8.2M1047.7 391.5h8.2M1807.9 391.5h-8.2" stroke="#262626" stroke-width="2.2" fill="none"/>
<path d="M1248.5 179.2l1.2 0.6l1.1 0.1l0.5 0.6l0.4 0.1l0.3 1.1l1.2 1.2l0.4 0.1l0.3 1.2l1.2 1.2l0.4 0.1l0.3 1.1l1.2 1.2l0.4 0.1l0.2 0.7l-0.3 1.3l0.4 1.6l1.2 1.2l0.4 0.1l0.2 0.7l-0.3 1.3l0.4 1.6l1.2 1.2l0.4 0.1l0.3 1.1l1.2 1.3l0.4 0.1l0.3 1.1l1.2 1.2l0.4 0.1l0.2 0.7l-0.3 1.3l0.3 1.2l-0.3 1.2l0.4 1.7l1.2 1.2l0.4 0.1l0.2 0.7l-0.3 1.2l0.4 1.7l1.2 1.2l1.7 0.4l0.6-0.2l0.3 1l1.2 1.2l1.7 0.5l0.6-0.2l0.2 0.5l-0.3 1.2l0.3 1.3l-0.3 1.2l0.4 1.7l1.2 1.2l0.4 0.1l0.3 1.1l1.2 1.2l1.7 0.5l1.6-0.5l1.2-1.2l1.2 1.2l1.7 0.5l0.6-0.2l0.3 1l1.2 1.2l0.4 0.1l0.3 1.1l1.2 1.2l1.7 0.5l0.6-0.2l0.3 1l1.2 1.2l1.7 0.4l0.9-0.3l1 0.3l0.9-0.3l1 0.3l0.6-0.2l0.2 0.6l-0.3 1.2l0.4 1.7l1.2 1.2l0.4 0.1l0.3 1.1l1.2 1.2l1.7 0.5l0.6-0.2l0.3 1l1.2 1.2l1.7 0.4l0.9-0.3l1 0.3l0.9-0.3l1 0.3l0.9-0.3l1 0.3l0.9-0.3l1 0.3l0.9-0.3l1 0.3l0.9-0.3l1 0.3l0.9-0.3l1 0.3l0.7-0.2l0.2 1l1.2 1.2l1.7 0.5l0.7-0.2l0.2 1l1.2 1.2l1.7 0.4l0.9-0.3l1 0.3l0.7-0.2l0.2 1l1.2 1.2l1.7 0.5l0.9-0.3l1 0.3l0.9-0.3l1 0.3l0.9-0.3l1 0.3l0.9-0.3l1 0.3l0.9-0.3l1 0.3l0.9-0.3l1 0.3l1.2-0.2l0.2 0l0.5 1.1l0.6 0.7l0.9 0.5l0.9 0.2l1.4 0l1.1-0.5l0.9-1l0.5-1l1.3 0.2l0.9-0.3l1 0.3l0.9-0.3l1 0.3l0.9-0.3l1 0.3l0.9-0.3l1 0.3l0.9-0.3l1 0.3l0.9-0.3l1 0.3l1.6-0.5l1.2-1.2l0.3-1l0.7 0.2l0.9-0.3l1 0.3l0.7-0.2l0.2 1l1.2 1.2l1.7 0.5l0.9-0.3l1 0.3l0.9-0.3l1 0.3l1.2-0.2l0.3 0.9l0.6 0.7l0.7 0.6l0.9 0.3l16 0.1l5.1-0.3l1.4-0.8l0.8-1.4l2.8-0.1l0.6 0.2l1.1-0.3l0.8 0.3l0.9-0.3l1 0.3l0.9-0.3l1 0.3l0.9-0.3l1 0.3l0.9-0.3l1 0.3l0.9-0.3l1 0.3l0.9-0.3l1 0.3l0.9-0.3l1 0.3l0.9-0.3l1 0.3l1-0.3l0.9 0.3l1-0.3l0.9 0.3l1-0.3l0.9 0.3l1.7-0.5l1.2-1.2l0.2-1l0.7 0.2l1-0.3l0.9 0.3l1-0.3l0.9 0.3l1-0.3l0.9 0.3l1-0.3l0.9 0.3l1-0.3l0.9 0.3l1-0.3l0.9 0.3l1-0.3l0.9 0.3l1.7-0.4l1.2-1.2l0.2-1l0.7 0.2l1-0.3l0.9 0.3l1-0.3l0.9 0.3l1-0.3l0.9 0.3l1-0.3l0.9 0.3l1-0.3l0.9 0.3l1.7-0.5l1.2-1.2l0.2-1l0.7 0.2l1-0.3l0.9 0.3l1.7-0.4l1.2-1.2l0.4-1.7l-0.3-1.2l0.3-1.2l-0.4-1.7l-1.2-1.2l-0.4-0.1l-0.3-1.1l-1.2-1.3l-1.7-0.4l-0.7 0.2l-0.2-1l-1.2-1.2l-1.7-0.4l-0.7 0.1l-0.2-1l-1.2-1.2l-1.7-0.4l-0.9 0.3l-1-0.3l-0.7 0.2l-0.2-1l-1.2-1.2l-1.7-0.4l-0.9 0.2l-1-0.2l-0.7 0.1l-0.2-0.9l-1.2-1.3l-1.7-0.4l-0.9 0.3l-1-0.3l-0.7 0.2l-0.2-1l-1.2-1.2l-1.7-0.5l-0.9 0.3l-1-0.3l-0.7 0.2l-0.2-0.9l-1.2-1.3l-1.7-0.4l-0.9 0.3l-1-0.3l-0.9 0.3l-1-0.3l-0.9 0.3l-1-0.3l-0.7 0.2l-0.2-1l-1.2-1.2l-1.7-0.5l-1 0.3l-0.9-0.3l-1 0.3l-0.9-0.3l-0.7 0.2l-0.2-0.9l-1.3-1.3l-1.6-0.4l-1 0.3l-0.9-0.3l-1 0.3l-0.9-0.3l-1 0.3l-0.9-0.3l-0.7 0.2l-0.2-1l-1.3-1.2l-1.6-0.4l-1 0.2l-0.9-0.2l-1 0.2l-0.9-0.2l-1 0.2l-0.9-0.2l-0.7 0.1l-0.2-1l-1.3-1.2l-1.6-0.4l-1 0.3l-0.9-0.3l-1 0.3l-0.9-0.3l-1 0.3l-0.9-0.3l-1 0.3l-0.9-0.3l-0.7 0.2l-0.3-1l-1.2-1.2l-1.6-0.4l-1 0.2l-0.9-0.2l-1 0.2l-0.9-0.2l-0.7 0.1l-0.3-1l-1.2-1.2l-1.6-0.4l-1 0.3l-0.9-0.3l-1 0.3l-0.9-0.3l-1 0.3l-0.9-0.3l-0.7 0.2l-0.3-1l-1.2-1.2l-1.6-0.5l-1 0.3l-0.9-0.3l-1 0.3l-0.9-0.3l-1 0.3l-0.9-0.3l-0.7 0.2l-0.3-0.9l-1.2-1.3l-1.6-0.4l-1 0.3l-0.9-0.3l-1 0.3l-0.9-0.3l-1 0.3l-0.9-0.3l-0.7 0.2l-0.3-1l-1.2-1.2l-1.6-0.5l-1 0.3l-0.9-0.3l-1 0.3l-0.9-0.3l-1 0.3l-0.9-0.3l-1 0.3l-0.9-0.3l-0.7 0.1l-0.3-0.9l-1.2-1.2l-1.6-0.4l-1 0.3l-0.9-0.3l-1 0.3l-0.9-0.3l-1 0.3l-0.9-0.3l-0.7 0.2l-0.3-1l-1.2-1.2l-1.6-0.5l-1 0.3l-0.9-0.3l-1 0.3l-0.9-0.3l-1 0.3l-0.9-0.3l-0.7 0.2l-0.3-0.9l-1.2-1.3l-1.6-0.4l-1 0.3l-0.9-0.3l-1 0.3l-0.9-0.3l-1 0.3l-0.9-0.3l-1 0.3l-0.9-0.3l-0.7 0.2l-0.3-1l-1.2-1.2l-1.6-0.4l-1 0.2l-0.9-0.2l-1 0.2l-0.9-0.2l-1 0.2l-0.9-0.2l-0.7 0.1l-0.3-0.9l-1.2-1.3l-1.6-0.4l-1 0.3l-0.9-0.3l-1 0.3l-0.9-0.3l-1 0.3l-0.9-0.3l-1 0.3l-0.9-0.3l-0.7 0.1l-0.3-0.9l-1.2-1.2l-1.6-0.5l-1 0.3l-0.9-0.3l-1 0.3l-0.9-0.3l-1 0.3l-0.9-0.3l-0.7 0.2l-0.3-1l-1.2-1.2l-1.6-0.4l-1 0.3l-0.9-0.3l-1 0.3l-0.9-0.3l-1 0.3l-0.9-0.3l-0.7 0.2l-0.3-1l-1.2-1.2l-1.6-0.4l-1 0.2l-0.9-0.2l-1 0.2l-0.9-0.2l-1 0.2l-0.9-0.2l-0.7 0.1l-0.3-0.9l-1.2-1.3l-1.6-0.4l-1 0.3l-0.9-0.3l-1 0.3l-0.9-0.3l-1 0.3l-0.9-0.3l-1 0.3l-0.9-0.3l-1 0.3l-0.9-1l-1.1-0.7l-1.3-0.1l-1.2 0.3l-0.8 0.4l-0.6 0.7l-0.5 0.7l-0.3 0.9l-0.1 0.9l0.3 0.9z" fill="#000000"/>
<path d="M1352.3 279.8l-1 0.2l-1.4-0.4l-1 0.3l-0.9-0.3l-1 0.3l-0.9-0.3l-1 0.3l-0.9-0.3l-1 0.3l-0.9-0.3l-1 0.3l-0.9-0.3l-1 0.3l-0.9-0.3l-1.7 0.5l-1.2 1.2l-0.2 0.9l-0.7-0.1l-1 0.3l-0.9-0.3l-1 0.3l-0.9-0.3l-1 0.3l-0.9-0.3l-1 0.3l-0.9-0.3l-1 0.3l-0.9-0.3l-1.7 0.4l-1.2 1.3l-0.2 0.9l-0.7-0.1l-1 0.2l-0.9-0.2l-1 0.2l-0.9-0.2l-1.7 0.4l-1.2 1.2l-0.3 1l-0.6-0.2l-1 0.3l-0.9-0.3l-1.7 0.4l-1.2 1.3l-0.3 0.9l-0.6-0.2l-1 0.3l-0.9-0.3l-1 0.3l-0.9-0.3l-1.7 0.5l-1.2 1.2l-0.3 1l-0.6-0.2l-1.7 0.4l-1.2 1.3l-0.3 0.9l-0.6-0.1l-1 0.2l-0.9-0.2l-1 0.2l-0.9-0.2l-1.7 0.4l-1.2 1.2l-0.3 1l-0.6-0.2l-1.7 0.4l-1.2 1.3l-0.3 0.9l-0.6-0.2l-1.7 0.5l-1.2 1.2l-0.3 1l-0.6-0.2l-1 0.3l-0.9-0.3l-1.7 0.4l-1.2 1.3l-0.4 1.6l0.3 1.2l-0.2 0.7l-0.4 0.1l-1.2 1.3l-0.4 1.6l0.4 1.7l0.8 0.8l-0.8 0.8l-0.3 0.9l-0.6-0.2l-1.7 0.5l-1.2 1.2l-0.3 1l-0.6-0.2l-1.7 0.4l-1.2 1.3l-0.4 1.6l0.3 1.2l-0.2 0.7l-0.4 0.1l-1.2 1.3l-0.4 1.6l0.3 1.2l-0.3 1.3l0.3 1.2l-0.3 1.2l0.3 1.2l-0.2 0.7l-0.4 0.1l-1.2 1.3l-0.3 1.1l-0.4 0.1l-1.2 1.2l-0.3 1.1l-0.4 0.1l-1.2 1.3l-0.3 1.1l-0.4 0.1l-1.2 1.2l-0.3 1.1l-0.4 0.1l-1.2 1.3l-0.3 1.1l-0.4 0.1l-1.2 1.2l-0.3 1.1l-0.4 0.1l-1.2 1.3l-0.3 1.1l-0.4 0.1l-1.2 1.2l-0.3 1.1l-0.4 0.1l-1.2 1.3l-0.4 1.6l0.3 1.2l-0.3 1.3l0.4 1.6l1.2 1.2l1.7 0.5l1.6-0.5l1.2-1.2l0.3-1l0.7 0.2l0.9-0.3l1 0.3l0.9-0.3l1 0.3l0.9-0.3l1 0.3l0.9-0.3l1 0.3l1.6-0.4l1.2-1.3l0.3-0.9l0.7 0.2l0.9-0.3l1 0.3l0.9-0.3l1 0.3l0.9-0.3l1 0.3l0.9-0.3l1 0.3l1.6-0.5l1.2-1.2l0.3-1l0.7 0.2l0.9-0.3l1 0.3l0.9-0.3l1 0.3l0.9-0.3l1 0.3l1.6-0.4l1.2-1.2l0.3-1l0.7 0.2l0.9-0.3l1 0.3l0.9-0.3l1 0.3l1.6-0.5l1.2-1.2l0.3-1l0.7 0.2l0.9-0.3l1 0.3l0.9-0.3l1 0.3l0.9-0.3l1 0.3l1.6-0.4l1.2-1.2l0.3-1l0.7 0.2l0.9-0.3l1 0.3l0.9-0.3l1 0.3l0.9-0.3l1 0.3l1.6-0.5l1.2-1.2l0.3-1l0.7 0.2l0.9-0.3l1 0.3l0.9-0.3l1 0.3l0.9-0.3l1 0.3l1.6-0.4l1.2-1.3l0.3-0.9l0.7 0.2l0.9-0.3l1 0.3l0.9-0.3l1 0.3l0.9-0.3l1 0.3l1.6-0.5l1.2-1.2l0.3-1l0.7 0.2l0.9-0.3l1 0.3l0.9-0.3l1 0.3l0.9-0.3l1 0.3l1.6-0.4l1.2-1.2l0.4-1l0.6 0.2l0.9-0.3l1 0.3l0.9-0.3l1 0.3l0.9-0.3l1 0.3l0.9-0.3l1 0.3l1.6-0.5l1.2-1.2l0.3-1l0.7 0.2l0.9-0.3l1 0.3l0.9-0.3l1 0.3l0.9-0.3l1 0.3l0.9-0.3l1 0.3l1.6-0.4l1.2-1.3l0.3-0.9l0.7 0.2l0.9-0.3l1 0.3l0.9-0.3l1 0.3l0.9-0.3l1 0.3l0.9-0.3l1 0.3l1.6-0.5l1.2-1.2l0.3-1l0.7 0.2l0.9-0.3l1 0.3l0.9-0.3l1 0.3l0.9-0.3l1 0.3l1.6-0.4l1.2-1.3l0.3-0.9l0.7 0.2l0.9-0.3l1 0.3l0.9-0.3l1 0.3l0.9-0.3l1 0.3l0.9-0.3l1 0.3l1.6-0.5l1.2-1.2l0.3-1l0.7 0.2l0.9-0.3l1 0.3l0.9-0.3l1 0.3l0.9-0.3l1 0.3l1.6-0.4l1.3-1.2l0.2-1l0.7 0.2l0.9-0.3l1 0.3l1.6-0.5l1.3-1.2l0.2-1l0.7 0.2l0.9-0.3l1 0.3l0.9-0.3l1 0.3l1.6-0.4l1.3-1.3l0.2-0.9l0.7 0.2l0.9-0.3l1 0.3l0.9-0.3l1 0.3l1.6-0.5l1.3-1.2l0.2-1l0.7 0.2l1-0.3l0.9 0.3l1-0.3l0.9 0.3l1.7-0.4l1.2-1.2l0.2-1l0.7 0.2l1-0.3l0.9 0.3l1.7-0.5l1.2-1.2l0.2-1l0.7 0.2l1-0.3l0.9 0.3l1-0.3l0.9 0.3l1.7-0.4l1.2-1.3l0.2-0.9l0.7 0.2l1-0.3l0.9 0.3l1.7-0.5l1.2-1.2l0.2-1l0.7 0.2l1-0.3l0.9 0.3l1.7-0.4l1.2-1.2l0.2-1l0.7 0.2l1-0.3l0.9 0.3l1.7-0.5l1.2-1.2l0.2-1l0.7 0.2l1.7-0.4l1.2-1.3l0.2-0.9l0.7 0.2l1.7-0.5l0.5-0.5l1.1-0.1l1.3-0.7l1.1-1.2l0.4-1.3l-0.1-0.9l-0.5-1.2l-0.7-0.7l-1.2-0.9l-1.5-0.2l-0.4-0.5l-1.7-0.4l-0.9 0.3l-1-0.3l-0.9 0.3l-1-0.3l-0.7 0.2l-0.2-1l-1.2-1.2l-1.7-0.4l-0.9 0.2l-1-0.2l-0.9 0.2l-1-0.2l-0.7 0.1l-0.2-0.9l-1.2-1.3l-1.7-0.4l-0.9 0.3l-1-0.3l-0.9 0.3l-1-0.3l-0.9 0.3l-1-0.3l-0.9 0.3l-1-0.3l-0.9 0.3l-1-0.3l-0.9 0.3l-1-0.3l-0.9 0.3l-1-0.3l-0.9 0.3l-1-0.3l-0.9 0.3l-1-0.3l-0.9 0.3l-1-0.3l-0.9 0.3l-1-0.3l-0.9 0.3l-1-0.3l-0.9 0.3l-1-0.3l-0.9 0.3l-1-0.3l-1.3 0.3l-1.5-0.3l-2.8 0.2l-0.9 0.3l-0.7 0.6l-0.7-0.7l-1.6-0.4l-1 0.3l-0.9-0.3l-1 0.3l-0.9-0.3l-1 0.3l-0.9-0.3l-1 0.3l-0.9-0.3l-1 0.3l-0.9-0.3l-0.7 0.1l-0.2-0.9l-1.3-1.2l-1.6-0.5l-1 0.3l-0.9-0.3l-1 0.3l-0.9-0.3l-1 0.3l-0.9-0.3l-1 0.3l-0.9-0.3l-1 0.3l-0.9-0.3l-1 0.3l-0.9-0.3l-1 0.3l-0.9-0.3l-1.7 0.5l-1.2 1.2l-0.2 1l-0.7-0.2l-1 0.3l-0.9-0.3l-1 0.3l-0.9-0.3l-1 0.3l-0.9-0.3l-1 0.3l-0.9-0.3l-1 0.3l-0.9-0.3l-1 0.3l-0.9-0.3l-1 0.3l-0.9-0.3l-1 0.3l-0.9-0.3l-0.7 0.2l-0.3-1l-1.2-1.2l-1.6-0.5l-1 0.3l-0.9-0.3l-1 0.3l-0.9-0.3l-1 0.3l-0.9-0.3l-1.3 0.4l-1.2-0.3l-2.7 0.1l-1.5 0.6l-0.9 0.9l-1.3-1.1l-0.9-0.4z" fill="#000000"/>
<path d="M1193 253l0 5.8l43-1l5.7-1.6l9.6-0.4l6.7-2l5.5-2.7l-0.5-3.6l3-4l2.5-3l-0.5-4.5l-6-4l-22 11z" fill="#000000"/>
<path d="M1193 272.5l0 6.5l42 5l20 8l12 6l1.1-2.5l2.7-4.4l6.2 0.9l6 1l3.2-2.8l-2.2-2.6l-5.3-1.8l-3.5-5.3l-5.3 1.4l-5.3-2.2l-7-2.7l-10.6-1.3l-8-2.5z" fill="#000000"/>
<path d="M1800 176.5l-2.4 8.5l-0.8 15l0 130l0.8 20l2.4 6l3.5 1.8l3-0.8l1.8-4l0-173l-1.8-4l-3-1z" fill="#000000"/>
<path d="M1484.2 266.2l0.2 1l0.5 0.8l2.3-2l0.1-0.2l-2.4-2.2l-0.6 1l-0.1 0.9l-0.3-1.3l-1.2-1.3l-1.7-0.4l-0.9 0.3l-1-0.3l-0.9 0.3l-1-0.3l-0.9 0.3l-1-0.3l-0.9 0.3l-1-0.3l-0.9 0.3l-1-0.3l-0.7 0.2l-0.2-1l-1.2-1.2l-1.7-0.4l-0.9 0.2l-1-0.2l-0.9 0.2l-1-0.2l-0.9 0.2l-1-0.2l-0.9 0.2l-1-0.2l-0.9 0.2l-1-0.2l-0.9 0.2l-1-0.2l-0.9 0.2l-1-0.2l-0.9 0.2l-1-0.2l-0.9 0.2l-1-0.2l-0.9 0.2l-1-0.2l-0.9 0.2l-1-0.2l-0.9 0.2l-1-0.2l-0.9 0.2l-1-0.2l-0.9 0.2l-1-0.2l-0.9 0.2l-1-0.2l-0.9 0.2l-1-0.2l-0.9 0.2l-1-0.2l-0.9 0.2l-1-0.2l-0.9 0.2l-1-0.2l-0.9 0.2l-1-0.2l-0.9 0.2l-1-0.2l-1 0.2l-0.9-0.2l-1 0.2l-0.9-0.2l-1 0.2l-0.9-0.2l-1 0.2l-0.9-0.2l-1 0.2l-0.9-0.2l-1 0.2l-0.9-0.2l-1 0.2l-0.9-0.2l-1 0.2l-0.9-0.2l-1 0.2l-0.9-0.2l-1 0.2l-0.9-0.2l-1 0.2l-0.9-0.2l-1 0.2l-0.9-0.2l-1 0.2l-0.9-0.2l-1 0.2l-0.9-0.2l-1 0.2l-0.9-0.2l-1 0.2l-0.9-0.2l-1 0.2l-0.9-0.2l-1 0.2l-0.9-0.2l-1 0.2l-0.9-0.2l-1 0.2l-0.9-0.2l-1 0.2l-0.9-0.2l-1 0.2l-0.9-0.2l-1 0.2l-0.9-0.2l-1 0.2l-0.9-0.2l-1 0.2l-0.9-0.2l-1 0.2l-0.9-0.2l-1 0.2l-0.9-0.2l-1 0.2l-0.9-0.2l-1 0.2l-0.9-0.2l-1 0.2l-0.9-0.2l-1 0.2l-0.9-0.2l-1 0.2l-0.9-0.2l-1 0.2l-0.9-0.2l-1 0.2l-0.9-0.2l-1 0.2l-0.9-0.2l-1 0.2l-0.9-0.2l-1 0.2l-0.9-0.2l-1 0.2l-0.9-0.2l-1 0.2l-0.9-0.2l-1 0.2l-0.9-0.2l-1 0.2l-0.9-0.2l-1 0.2l-0.9-0.2l-1 0.2l-0.9-0.2l-1 0.2l-0.9-0.2l-1 0.2l-0.9-0.2l-1 0.2l-0.9-0.2l-1 0.2l-0.9-0.2l-1 0.2l-0.9-0.2l-1 0.2l-0.9-0.2l-1 0.2l-0.9-0.2l-1 0.2l-0.9-0.2l-1 0.2l-0.9-0.2l-1 0.2l-0.9-0.2l-1 0.2l-0.9-0.2l-1 0.2l-0.9-0.2l-1 0.2l-0.9-0.2l-1 0.2l-0.9-0.2l-1 0.2l-0.9-0.2l-1 0.2l-0.9-0.2l-1 0.2l-0.9-0.2l-1 0.2l-0.9-0.2l-1 0.2l-0.9-0.2l-1 0.2l-0.9-0.2l-1 0.2l-0.9-0.2l-1 0.2l-0.9-0.2l-1 0.2l-0.9-0.2l-1 0.2l-0.9-0.2l-1 0.2l-0.9-0.2l-1 0.2l-0.9-0.2l-1 0.2l-0.9-0.2l-1 0.2l-0.9-0.2l-1 0.2l-0.9-0.2l-1 0.2l-0.9-0.2l-0.7 0.1l-0.3-0.9l-1.2-1.3l-1.6-0.4l-1 0.3l-0.9-0.3l-1 0.3l-0.9-0.3l-1 0.3l-0.9-0.3l-1 0.3l-0.9-0.3l-1 0.3l-0.9-0.3l-1 0.3l-0.9-0.3l-1 0.3l-0.9-0.3l-1 0.3l-0.9-0.3l-1 0.3l-0.9-0.3l-1 0.3l-0.9-0.3l-1 0.3l-0.9-0.3l-1 0.3l-0.9-0.3l-1 0.3l-0.9-0.3l-1 0.3l-0.9-0.3l-1 0.3l-0.9-0.3l-1 0.3l-0.9-0.3l-1 0.3l-0.9-0.3l-1 0.3l-0.9-0.3l-1 0.3l-0.9-0.3l-1 0.3l-0.9-0.3l-1 0.3l-0.9-0.3l-1 0.3l-0.9-0.3l-1 0.3l-0.9-0.3l-1 0.3l-0.9-0.3l-1 0.3l-0.9-0.3l-1 0.3l-1-0.3l-0.9 0.3l-1-0.3l-0.9 0.3l-1-0.3l-0.9 0.3l-1-0.3l-0.9 0.3l-1-0.3l-0.9 0.3l-1-0.3l-0.9 0.3l-1-0.3l-0.9 0.3l-1-0.3l-0.9 0.3l-1-0.3l-0.9 0.3l-1-0.3l-0.9 0.3l-1-0.3l-0.9 0.3l-1-0.3l-0.9 0.3l-1-0.3l-0.9 0.3l-1-0.3l-0.6 0.2l-0.2-0.6l0.2-0.7l0.4-0.1l1.2-1.2l0.2-0.9l0.7 0.1l1-0.3l0.9 0.3l1-0.3l0.9 0.3l1-0.3l0.9 0.3l1-0.3l0.9 0.3l1-0.3l0.9 0.3l1-0.3l0.9 0.3l1-0.3l0.9 0.3l1-0.3l0.9 0.3l1.7-0.4l1.2-1.2l0.3-1l0.6 0.2l1-0.3l0.9 0.3l1-0.3l0.9 0.3l1-0.3l1 0.3l0.9-0.3l1 0.3l1.6-0.5l1.2-1.2l0.3-1l0.7 0.2l0.9-0.3l1 0.3l0.9-0.3l1 0.3l1.6-0.4l1.2-1.2l0.3-1l0.7 0.2l0.9-0.3l1 0.3l1.6-0.5l1.2-1.2l0.3-1l0.7 0.2l0.9-0.3l1 0.3l1.6-0.4l1.2-1.2l0.3-1.2l0.4-0.1l1.2-1.2l0.3-1.1l0.4-0.1l1.2-1.2l0.3-1.2l0.4-0.1l1.2-1.2l0.5-1.6l-0.4-1.3l0.4-1.2l-0.4-1.2l0.4-1.2l-0.4-1.3l0.4-1.2l-0.4-1.2l0.4-1.2l-0.5-1.7l-1.2-1.2l-0.4-0.1l-0.3-1.1l-1.2-1.3l-0.4-0.1l-0.3-1.1l-1.2-1.2l-0.4-0.1l-0.3-1.1l-1.2-1.3l-1.6-0.4l-0.7 0.2l-0.3-1l-1.2-1.2l-0.4-0.1l-0.3-1.2l-1.2-1.2l-1.6-0.4l-0.7 0.2l-0.3-1l-1.2-1.2l-1.6-0.4l-0.7 0.1l-0.3-1l-1.2-1.2l-1.6-0.4l-0.7 0.2l-0.3-1l-1.2-1.2l-1.6-0.5l-0.7 0.2l-0.3-0.9l-1.2-1.3l-1.6-0.4l-0.7 0.2l-0.3-1l-1.2-1.2l-1.7-0.5l-0.6 0.2l-0.3-1l-1.2-1.2l-1.7-0.4l-0.9 0.3l-1-0.3l-0.6 0.2l-0.3-1l-1.2-1.2l-1.7-0.5l-0.6 0.2l-0.3-0.9l-1.2-1.3l-1.7-0.4l-0.9 0.3l-1-0.3l-0.6 0.2l-0.3-1l-1.2-1.2l-1.7-0.4l-0.9 0.2l-1-0.2l-0.6 0.1l-0.3-0.9l-1.2-1.3l-1.7-0.4l-0.9 0.3l-1-0.3l-0.6 0.2l-0.3-1l-1.2-1.2l-1.7-0.5l-0.9 0.3l-1-0.3l-0.9 0.3l-1-0.3l-0.6 0.2l-0.3-1l-1.2-1.2l-1.7-0.4l-0.9 0.3l-1-0.3l-0.6 0.2l-0.3-1l-1.2-1.2l-1.7-0.4l-0.9 0.2l-1-0.2l-0.9 0.2l-1-0.2l-0.6 0.1l-0.3-0.9l-1.2-1.3l-1.7-0.4l-0.9 0.3l-1-0.3l-0.9 0.3l-1-0.3l-0.6 0.2l-0.3-1l-1.2-1.2l-1.7-0.5l-0.9 0.3l-1-0.3l-0.9 0.3l-1-0.3l-0.9 0.3l-1-0.3l-0.6 0.2l-0.3-1l-1.2-1.2l-1.7-0.4l-0.9 0.3l-1-0.3l-0.9 0.3l-1-0.3l-0.6 0.2l-0.3-1l-1.2-1.2l-1.7-0.5l-0.9 0.3l-1-0.3l-0.9 0.3l-1-0.3l-0.9 0.3l-1-0.3l-0.7 0.2l-0.2-0.9l-1.2-1.3l-1.7-0.4l-0.9 0.3l-1-0.3l-0.9 0.3l-1-0.3l-0.9 0.3l-1-0.3l-0.7 0.2l-0.2-1l-1.2-1.2l-1.7-0.4l-0.9 0.2l-1-0.2l-0.9 0.2l-1-0.2l-0.7 0.1l-0.2-1l-1.2-1.2l-1.7-0.4l-0.9 0.3l-1-0.3l-0.9 0.3l-1-0.3l-0.9 0.3l-1-0.3l-0.7 0.2l-0.2-1l-1.2-1.2l-1.7-0.5l-0.9 0.3l-1-0.3l-0.9 0.3l-1-0.3l-0.9 0.3l-1-0.3l-0.9 0.3l-1-0.3l-0.9 0.3l-1-0.3l-0.8 0.3l-1.1-0.3l-5.2 0.2l-0.5-0.2l-0.9 0.3l-1-0.3l-1.6 0.5l-1.2 1.2l-0.3 1.1l-0.4 0.1l-1.2 1.2l-0.3 1.2l-0.4 0.1l-1.2 1.2l-0.3 1l-0.7-0.2l-1.6 0.4l-1.2 1.3l-0.3 0.9l-0.7-0.2l-1.6 0.5l-1.2 1.2l-0.4 1.1l-0.3 0.1l-1.2 1.2l-0.3 1l-0.7-0.2l-1.6 0.5l-1.2 1.2l-0.4 1.1l-0.3 0.1l-1.2 1.3l-0.3 0.9l-0.7-0.1l-1.6 0.4l-1.2 1.2l-0.3 1l-0.7-0.2l-1.6 0.4l-1.3 1.2l-0.2 1l-0.7-0.2l-1.6 0.5l-1.3 1.2l-0.2 1l-0.7-0.2l-0.9 0.3l-1-0.3l-1.6 0.4l-1.3 1.3l-0.2 0.9l-0.7-0.1l-0.9 0.2l-1-0.2l-1.6 0.4l-1.3 1.2l-0.2 1l-0.7-0.2l-0.9 0.3l-1-0.3l-1.6 0.4l-1.3 1.3l-0.2 0.9l-0.7-0.2l-0.9 0.3l-1-0.3l-1.6 0.5l-1.3 1.2l-0.3 1.1l-0.4 0.1l-1.2 1.2l-0.4 1.7l0.3 1.2l-0.3 1.3l0.3 1.2l-0.3 1.2l0.3 1.2l-0.3 1.3l0.3 1.2l-0.3 1.2l0.3 1.2l-0.3 1.3l0.3 1.2l-0.3 1.2l0.3 1.2l-0.3 1.3l0.3 1.2l-0.3 1.2l0.3 1.2l-0.3 1.2l0.3 1.3l-0.3 1.2l0.3 1.2l-0.3 1.3l0.3 1.2l-0.3 1.2l0.3 1.2l-0.3 1.3l0.3 1.2l-0.3 1.2l0.3 1.2l-0.3 1.3l0.3 1.2l-0.3 1.2l0.3 1.2l-0.3 1.3l0.3 1.2l-0.3 1.2l0.3 1.2l-0.3 1.3l0.3 1.2l-0.3 1.2l0.3 1.2l-0.3 1.3l0.3 1.2l-0.3 1.2l0.3 1.2l-0.3 1.3l0.3 1.2l-0.3 1.2l0.3 1.2l-0.3 1.2l0.3 1.3l-0.3 1.2l0.3 1.2l-0.3 1.3l0.3 1.2l-0.3 1.2l0.3 1.2l-0.3 1.2l0.3 1.3l-0.3 1.2l0.3 1.2l-0.3 1.3l0.3 1.2l-0.3 1.2l0.3 1.2l-0.3 1.3l0.3 1.2l-0.3 1.2l0.3 1.2l-0.3 1.2l0.3 1.3l-0.3 1.2l0.3 1.2l-0.3 1.3l0.3 1.2l-0.3 1.2l0.3 1.2l-0.3 1.3l0.3 1.2l-0.3 1.2l0.3 1.2l-0.3 1.3l0.3 1.2l-0.3 1.2l0.3 1.2l-0.3 1.3l0.3 1.2l-0.3 1.2l0.3 1.2l-0.3 1.3l0.3 1.2l-0.3 1.2l0.3 1.2l-0.3 1.3l0.3 1.2l-0.3 1.2l0.3 1.2l-0.3 1.2l0.3 1.3l-0.3 1.2l0.3 1.2l-0.3 1.3l0.3 1.2l-0.3 1.2l0.3 1.2l-0.3 1.3l0.3 1.2l-0.3 1.2l0.3 1.2l-0.3 1.3l0.4 1.6l1.2 1.2l0.4 0.1l0.3 1.2l1.3 1.2l1.6 0.4l0.7-0.2l0.2 1l1.3 1.2l1.6 0.5l0.7-0.2l0.2 0.9l1.3 1.3l1.6 0.4l1-0.3l0.9 0.3l0.7-0.2l0.2 1l1.3 1.2l1.6 0.5l0.7-0.2l0.2 1l1.3 1.2l1.6 0.4l0.7-0.2l0.2 1l1.3 1.2l1.6 0.5l0.7-0.2l0.2 1l1.3 1.2l1.6 0.4l0.7-0.2l0.3 1l1.2 1.2l1.6 0.5l0.7-0.2l0.3 0.9l1.2 1.3l1.6 0.4l0.7-0.2l0.3 1l1.2 1.2l1.6 0.5l0.7-0.2l0.3 1l1.2 1.2l0.3 0.1l0.4 1.1l1.2 1.2l0.3 0.1l0.4 1.1l1.2 1.3l1.6 0.4l0.7-0.2l0.3 1l1.2 1.2l0.4 0.1l0.3 1.2l1.2 1.2l0.4 0.1l0.3 1.1l1.2 1.2l1.6 0.5l0.7-0.2l0.3 0.9l1.2 1.3l1.6 0.4l1-0.3l0.9 0.3l1-0.3l0.9 0.3l1-0.3l0.9 0.3l1-0.3l0.9 0.3l1.7-0.4l1.2-1.3l0.2-0.9l0.7 0.2l1-0.3l0.9 0.3l1-0.3l0.9 0.3l1-0.3l0.9 0.3l1.7-0.5l1.2-1.2l0.2-1l0.7 0.2l1-0.3l0.9 0.3l1-0.3l0.9 0.3l1-0.3l0.9 0.3l1.7-0.4l1.2-1.2l0.2-1l0.7 0.2l1-0.3l0.9 0.3l1-0.3l0.9 0.3l1-0.3l0.9 0.3l1-0.3l0.9 0.3l1.7-0.5l1.2-1.2l0.2-1l0.7 0.2l1-0.3l0.9 0.3l1-0.3l0.9 0.3l1-0.3l0.9 0.3l1.7-0.4l1.2-1.3l0.2-0.9l0.7 0.2l1-0.3l0.9 0.3l1-0.3l0.9 0.3l1-0.3l0.9 0.3l1.7-0.5l1.2-1.2l0.3-1l0.6 0.2l1-0.3l0.9 0.3l1-0.3l0.9 0.3l1.7-0.4l1.2-1.2l0.3-1l0.6 0.2l1-0.3l0.9 0.3l1-0.3l0.9 0.3l1-0.3l0.9 0.3l1.7-0.5l1.2-1.2l0.3-1l0.6 0.2l1-0.3l0.9 0.3l1-0.3l0.9 0.3l1.7-0.4l1.2-1.3l0.3-0.9l0.6 0.2l1-0.3l0.9 0.3l1.7-0.5l1.2-1.2l0.3-1l0.6 0.2l1-0.3l0.9 0.3l1-0.3l0.9 0.3l1.7-0.4l1.2-1.2l0.3-1l0.6 0.2l1-0.3l0.9 0.3l1.7-0.5l1.2-1.2l0.3-1l0.6 0.2l1-0.3l0.9 0.3l1.7-0.4l1.2-1.2l0.3-1l0.6 0.2l1-0.3l0.9 0.3l1.7-0.5l1.2-1.2l0.3-1l0.6 0.2l1-0.3l0.9 0.3l1.7-0.4l1.2-1.3l0.3-0.9l0.6 0.2l1-0.3l0.9 0.3l1.7-0.5l1.2-1.2l0.3-1l0.6 0.2l1.7-0.4l1.2-1.2l0.3-1l0.6 0.2l1.7-0.5l1.2-1.2l0.3-1l0.7 0.2l0.9-0.3l1 0.3l1.6-0.4l1.2-1.3l0.3-0.9l0.7 0.2l1.6-0.5l1.2-1.2l0.3-1l0.7 0.2l1.6-0.4l1.2-1.3l0.3-0.9l0.7 0.2l1.6-0.5l1.2-1.2l0.3-1l0.7 0.2l1.6-0.4l1.2-1.2l0.3-1.2l0.4-0.1l1.2-1.2l0.3-1.1l0.4-0.1l1.2-1.3l0.3-1.1l0.4-0.1l1.2-1.2l0.3-1.1l0.4-0.1l1.2-1.2l0.5-1.7l-0.4-1.2l0.4-1.2l-0.4-1.3l0.4-1.2l-0.4-1.2l0.4-1.2l-0.4-1.3l0.4-1.2l-0.4-1.2l0.4-1.2l-0.5-1.7l-1.2-1.2l-0.4-0.1l-0.3-1.1l-1.2-1.3l-1.6-0.4l-0.7 0.2l-0.3-1l-1.2-1.2l-1.6-0.5l-0.7 0.2l-0.3-0.9l-1.2-1.3l-1.6-0.4l-1 0.3l-0.9-0.3l-0.7 0.2l-0.3-1l-1.2-1.2l-1.6-0.4l-1 0.2l-0.9-0.2l-1 0.2l-0.9-0.2l-0.7 0.1l-0.3-0.9l-1.2-1.3l-1.6-0.4l-1 0.3l-0.9-0.3l-1 0.3l-0.9-0.3l-1 0.3l-1-0.3l-0.6 0.2l-0.3-1l-1.2-1.2l-1.7-0.5l-0.9 0.3l-1-0.3l-0.9 0.3l-1-0.3l-0.9 0.3l-1-0.3l-0.9 0.3l-1-0.3l-0.6 0.2l-0.3-0.9l-1.2-1.3l-1.7-0.4l-0.9 0.3l-1-0.3l-0.9 0.3l-1-0.3l-0.9 0.3l-1-0.3l-0.9 0.3l-1-0.3l-0.9 0.3l-1-0.3l-0.9 0.3l-1-0.3l-0.9 0.3l-1-0.3l-0.9 0.3l-1-0.3l-0.6 0.2l-0.3-1l-1.2-1.2l-0.4-0.1l-0.2-0.7l0.2-0.6l0.6 0.2l1-0.3l0.9 0.3l1-0.3l0.9 0.3l1-0.3l0.9 0.3l1-0.3l0.9 0.3l1-0.3l0.9 0.3l1-0.3l0.9 0.3l1-0.3l0.9 0.3l1-0.3l0.9 0.3l1-0.3l0.9 0.3l1-0.3l0.9 0.3l1-0.3l0.9 0.3l1-0.3l0.9 0.3l1-0.3l0.9 0.3l1-0.3l0.9 0.3l1-0.3l0.9 0.3l1-0.3l0.9 0.3l1-0.3l0.9 0.3l1-0.3l1 0.3l0.9-0.3l1 0.3l0.9-0.3l1 0.3l0.9-0.3l1 0.3l0.9-0.3l1 0.3l0.9-0.3l1 0.3l0.9-0.3l1 0.3l0.9-0.3l1 0.3l0.9-0.3l1 0.3l0.9-0.3l1 0.3l0.9-0.3l1 0.3l0.9-0.3l1 0.3l0.9-0.3l1 0.3l0.9-0.3l1 0.3l0.9-0.3l1 0.3l0.9-0.3l1 0.3l0.9-0.3l1 0.3l0.9-0.3l1 0.3l0.9-0.3l1 0.3l0.9-0.3l1 0.3l0.9-0.3l1 0.3l0.9-0.3l1 0.3l0.9-0.3l1 0.3l0.9-0.3l1 0.3l0.9-0.3l1 0.3l0.9-0.3l1 0.3l0.9-0.3l1 0.3l0.9-0.3l1 0.3l0.9-0.3l1 0.3l0.9-0.3l1 0.3l0.9-0.3l1 0.3l0.9-0.3l1 0.3l0.9-0.3l1 0.3l0.9-0.3l1 0.3l0.9-0.3l1 0.3l0.9-0.3l1 0.3l0.9-0.3l1 0.3l0.9-0.3l1 0.3l0.9-0.3l1 0.3l0.9-0.3l1 0.3l0.9-0.3l1 0.3l0.9-0.3l1 0.3l0.9-0.3l1 0.3l0.9-0.3l1 0.3l0.9-0.3l1 0.3l0.9-0.3l1 0.3l0.9-0.3l1 0.3l0.9-0.3l1 0.3l0.9-0.3l1 0.3l0.9-0.3l1 0.3l0.9-0.3l1 0.3l0.9-0.3l1 0.3l0.9-0.3l1 0.3l0.9-0.3l1 0.3l0.9-0.3l1 0.3l0.9-0.3l1 0.3l0.9-0.3l1 0.3l0.9-0.3l1 0.3l0.9-0.3l1 0.3l0.9-0.3l1 0.3l0.9-0.3l1 0.3l0.9-0.3l1 0.3l0.9-0.3l1 0.3l0.9-0.3l1 0.3l0.9-0.3l1 0.3l0.9-0.3l1 0.3l0.9-0.3l1 0.3l0.9-0.3l1 0.3l0.9-0.3l1 0.3l0.9-0.3l1 0.3l0.9-0.3l1 0.3l0.9-0.3l1 0.3l0.9-0.3l1 0.3l0.9-0.3l1 0.3l0.9-0.3l1 0.3l0.9-0.3l1 0.3l0.9-0.3l1 0.3l0.9-0.3l1 0.3l0.9-0.3l1 0.3l0.9-0.3l1 0.3l0.9-0.3l1 0.3l0.9-0.3l1 0.3l0.9-0.3l1 0.3l0.9-0.3l1 0.3l0.9-0.3l1 0.3l0.9-0.3l1 0.3l0.9-0.3l1 0.3l0.9-0.3l1 0.3l0.9-0.3l1 0.3l0.9-0.3l1 0.3l0.9-0.3l1 0.3l0.9-0.3l1 0.3l0.9-0.3l1 0.3l0.9-0.3l1 0.3l0.9-0.3l1 0.3l0.9-0.3l1 0.3l0.9-0.3l1 0.3l0.9-0.3l1 0.3l0.9-0.3l1 0.3l0.9-0.3l1 0.3l0.9-0.3l1 0.3l1-0.3l0.9 0.3l1-0.3l0.9 0.3l1-0.3l0.9 0.3l1-0.3l0.9 0.3l1-0.3l0.9 0.3l1-0.3l0.9 0.3l1-0.3l0.9 0.3l1-0.3l0.9 0.3l1-0.3l0.9 0.3l1-0.3l0.9 0.3l1-0.3l0.9 0.3l1-0.3l0.9 0.3l1-0.3l0.9 0.3l1-0.3l0.9 0.3l1-0.3l0.9 0.3l1-0.3l0.9 0.3l1-0.3l0.9 0.3l1-0.3l0.9 0.3l1-0.3l0.9 0.3l1-0.3l0.9 0.3l1.7-0.4l1.2-1.3l0.2-0.9l0.7 0.2l1-0.3l0.9 0.3l1.7-0.5l1.2-1.2l0.2-1l0.7 0.2l1-0.3l0.9 0.3l1-0.3l0.9 0.3l1-0.3l0.9 0.3l1.7-0.4l1.2-1.3z" fill="#ff0000"/>
<path d="M1543.9 257.8l-1.4 0.8l-1.2 1.6l-1.4-0.1l-1 0.2l-0.9-0.2l-0.9 0.2l-1-0.2l-0.9 0.2l-1-0.2l-0.9 0.2l-1-0.2l-0.9 0.2l-1-0.2l-0.9 0.2l-1-0.2l-0.9 0.2l-1-0.2l-0.9 0.2l-1-0.2l-0.9 0.2l-1-0.2l-0.9 0.2l-1-0.2l-0.9 0.2l-1-0.2l-0.9 0.2l-1-0.2l-0.9 0.2l-1-0.2l-0.9 0.2l-1-0.2l-0.9 0.2l-1-0.2l-0.9 0.2l-1-0.2l-0.9 0.2l-1-0.2l-1.6 0.4l-1.2 1.2l-0.5 1.7l0.3 1.2l-0.3 1.2l0.3 1.2l-0.3 1.2l0.5 1.7l1.2 1.2l1.6 0.5l1-0.3l0.9 0.3l1-0.3l0.9 0.3l1-0.3l0.9 0.3l1-0.3l0.9 0.3l1-0.3l0.9 0.3l1-0.3l0.9 0.3l1-0.3l0.9 0.3l1-0.3l0.9 0.3l1-0.3l0.9 0.3l1-0.3l0.9 0.3l1-0.3l0.9 0.3l1-0.3l0.9 0.3l1-0.3l0.9 0.3l1-0.3l0.9 0.3l1-0.3l0.9 0.3l1-0.3l0.9 0.3l1-0.3l0.9 0.3l1-0.3l0.9 0.3l1-0.3l0.9 0.3l1-0.3l0.9 0.3l1-0.3l0.9 0.3l1-0.3l0.9 0.3l1-0.3l0.9 0.3l0.9-0.3l1 0.3l0.7-0.1l0.3 0.8l1.2 1.3l1.6 0.4l1-0.3l0.9 0.3l1-0.3l0.9 0.3l0.7-0.2l0.2 0.6l-0.2 0.5l-0.7-0.1l-0.9 0.2l-1-0.2l-0.9 0.2l-1-0.2l-0.9 0.2l-1-0.2l-1.6 0.4l-1.2 1.2l-0.2 0.8l-0.8 0l-0.9 0.3l-1-0.3l-0.9 0.3l-1-0.3l-0.9 0.3l-1-0.3l-0.9 0.3l-1-0.3l-0.9 0.3l-1-0.3l-1.6 0.4l-1.2 1.3l-0.3 0.8l-0.7-0.1l-0.9 0.3l-1-0.3l-0.9 0.3l-1-0.3l-0.9 0.3l-1-0.3l-0.9 0.3l-1-0.3l-0.9 0.3l-1-0.3l-0.9 0.3l-1-0.3l-1.6 0.5l-1.2 1.2l-0.3 0.9l-0.7-0.1l-0.9 0.3l-1-0.3l-0.9 0.3l-1-0.3l-0.9 0.3l-1-0.3l-1.6 0.4l-1.2 1.3l-0.5 1.6l0.5 1.7l1.2 1.2l1.6 0.4l0.7-0.2l0.3 1l1.2 1.2l0.4 0.1l0.3 1.1l1.2 1.3l0.4 0.1l0.3 1.1l1.2 1.2l0.4 0.1l0.3 1.1l1.2 1.3l0.4 0.1l0.3 1.1l1.2 1.2l0.4 0.1l0.3 1.2l1.2 1.2l0.4 0.1l0.3 1.1l1.2 1.2l1.6 0.5l0.7-0.2l0.3 0.9l1.2 1.3l1.6 0.4l0.7-0.2l0.3 1l1.2 1.2l1.6 0.5l0.7-0.2l0.3 1l1.2 1.2l0.4 0.1l0.3 1.1l1.2 1.2l1.6 0.5l0.7-0.2l0.3 0.9l1.2 1.3l1.6 0.4l0.7-0.2l0.3 1l1.2 1.2l1.6 0.5l0.7-0.2l0.3 1l1.2 1.2l1.6 0.4l0.7-0.2l0.3 1l1.2 1.2l1.6 0.5l0.7-0.2l0.3 0.9l1.2 1.3l1.6 0.4l1-0.3l0.9 0.3l0.7-0.2l0.3 1l1.2 1.2l1.6 0.5l0.7-0.2l0.3 0.9l1.2 1.3l1.6 0.4l0.7-0.2l0.3 1l1.2 1.2l1.6 0.5l0.7-0.2l0.3 1l1.2 1.2l1.6 0.4l0.7-0.2l0.3 1l1.2 1.2l1.6 0.5l0.7-0.2l0.3 0.9l1.2 1.3l1.6 0.4l0.7-0.2l0.3 1l1.2 1.2l1.6 0.5l1-0.3l0.9 0.3l0.7-0.2l0.3 1l1.2 1.2l1.6 0.4l0.7-0.2l0.3 1l1.2 1.2l1.6 0.5l0.7-0.2l0.3 1l1.2 1.2l1.6 0.4l1-0.3l0.9 0.3l0.7-0.2l0.3 1l1.2 1.2l1.6 0.5l0.7-0.2l0.3 0.9l1.2 1.3l1.6 0.4l0.7-0.2l0.3 1l1.2 1.2l1.7 0.5l0.6-0.2l0.3 1l1.2 1.2l1.7 0.4l0.6-0.2l0.3 1l1.2 1.2l1.7 0.5l0.6-0.2l0.3 0.9l1.2 1.3l1.7 0.4l0.6-0.2l0.3 1l1.2 1.2l1.7 0.5l0.6-0.2l0.3 1l1.2 1.2l1.7 0.4l0.6-0.2l0.3 1l1.2 1.2l1.7 0.5l0.9-0.3l1 0.3l0.6-0.2l0.3 0.9l1.2 1.3l1.7 0.4l0.6-0.2l0.3 1l1.2 1.2l1.7 0.5l0.6-0.2l0.3 0.9l1.2 1.3l1.7 0.4l0.6-0.2l0.3 1l1.2 1.2l0.4 0.1l0.3 1.2l1.2 1.2l1.7 0.4l0.6-0.2l0.3 1l1.2 1.2l0.4 0.1l0.3 1.1l1.2 1.3l0.4 0.1l0.3 1.1l1.2 1.2l1.7 0.5l0.6-0.2l0.3 1l1.2 1.2l0.4 0.1l0.3 1.1l1.2 1.2l0.4 0.1l0.3 1.2l1.2 1.2l0.4 0.1l0.3 1.1l1.2 1.2l1.7 0.5l0.6-0.2l0.3 0.9l1.2 1.3l0.4 0.1l0.3 1.1l1.2 1.2l0.4 0.1l0.3 1.2l1.2 1.2l0.4 0.1l0.3 1.1l1.2 1.2l0.4 0.1l0.3 1.1l1.2 1.3l0.4 0.1l0.3 1.1l1.2 1.2l0.4 0.1l0.3 1.2l1.2 1.2l0.4 0.1l0.3 1.1l1.2 1.2l0.4 0.1l0.2 0.7l-0.3 1.3l0.4 1.6l1.2 1.2l0.4 0.1l0.3 1.1l1.2 1.3l0.4 0.1l0.3 1.1l1.2 1.2l0.4 0.1l0.2 0.7l-0.3 1.3l0.4 1.6l1.2 1.2l0.4 0.1l0.3 1.1l1.2 1.3l0.4 0.1l0.2 0.7l-0.3 1.2l0.4 1.7l1.2 1.2l0.4 0.1l0.3 1.1l1.2 1.2l0.4 0.1l0.3 1.2l1.2 1.2l0.4 0.1l0.3 1.1l1.2 1.2l0.4 0.1l0.3 1.1l1.2 1.3l1.7 0.4l0.9-0.3l1 0.3l0.9-0.3l1 0.3l0.9-0.3l1 0.3l0.9-0.3l1 0.3l1.6-0.4l1.2-1.3l0.3-0.9l0.7 0.2l0.9-0.3l1 0.3l0.9-0.3l1 0.3l1.6-0.5l1.2-1.2l0.3-1l0.7 0.2l0.9-0.3l1 0.3l1.6-0.4l1.2-1.2l0.3-1l0.7 0.2l0.9-0.3l1 0.3l1.6-0.5l1.2-1.2l0.3-1l0.7 0.2l1.6-0.4l1.2-1.2l0.3-1l0.7 0.2l0.9-0.3l1 0.3l1.6-0.5l1.2-1.2l0.3-1.1l0.4-0.1l1.2-1.3l0.3-0.9l0.7 0.2l1.6-0.5l1.2-1.2l0.3-1.1l0.4-0.1l1.2-1.2l0.3-1.2l0.4-0.1l1.2-1.2l0.4-1.1l0.3-0.1l1.2-1.3l0.4-1.1l0.3-0.1l1.2-1.2l0.5-1.6l-0.3-1.3l0.1-0.5l0.7 0.2l1.6-0.5l1.2-1.2l0.4-1.1l0.3-0.1l1.2-1.2l0.4-1.2l0.3-0.1l1.2-1.2l0.5-1.7l-0.3-1.2l0.3-1.2l-0.3-1.2l0.2-0.7l0.3-0.1l1.2-1.2l0.3-1l0.7 0.2l1.6-0.5l1.2-1.2l0.4-1.1l0.3-0.1l1.3-1.3l0.3-1.1l0.3-0.1l1.3-1.2l0.4-1.6l-0.3-1.3l0.3-1.2l-0.3-1.2l0.3-1.2l-0.3-1.3l0.2-0.7l0.3-0.1l1.3-1.2l0.4-1.6l-0.3-1.3l0.2-0.7l0.3-0.1l1.3-1.2l0.4-1.6l-0.3-1.3l0.2-0.7l0.3-0.1l1.3-1.2l0.4-1.6l-0.3-1.3l0.3-1.2l-0.3-1.2l0.2-0.7l0.3-0.1l1.3-1.3l0.4-1.6l-0.3-1.2l0.3-1.2l-0.3-1.3l0.3-1.2l-0.3-1.2l0.3-1.3l-0.3-1.2l0.2-0.7l0.3-0.1l1.3-1.2l0.4-1.6l-0.3-1.3l0.3-1.2l-0.3-1.2l0.3-1.2l-0.3-1.3l0.2-0.7l0.3-0.1l1.3-1.2l0.4-1.6l-0.3-1.3l0.3-1.2l-0.3-1.2l0.3-1.2l-0.3-1.3l0.2-0.7l0.3-0.1l1.3-1.2l0.4-1.6l-0.3-1.3l0.3-1.2l-0.3-1.2l0.3-1.2l-0.3-1.3l0.3-1.2l-0.3-1.2l0.3-1.2l-0.3-1.3l0.3-1.2l-0.3-1.2l0.3-1.2l-0.3-1.3l0.3-1.2l-0.3-1.2l0.3-1.2l-0.3-1.3l0.3-1.2l-0.3-1.2l0.3-1.3l-0.3-1.2l0.3-1.2l-0.3-1.2l0.3-1.2l-0.3-1.3l0.3-1.2l-0.3-1.2l0.3-1.2l-0.3-1.3l0.3-1.2l-0.3-1.2l0.3-1.2l-0.3-1.3l0.2-0.7l0.3-0.1l1.3-1.2l0.2-1l0.7 0.2l0.9-0.3l1 0.3l0.9-0.3l1 0.3l1.6-0.4l-0.5 0.9l-0.1 0.8l2.9 0l0.3-0.3l0-2.9l-0.8 0.1l-0.7 0.4l0.2-0.3l0.4-1.6l-0.3-1.2l0.3-1.2l-0.3-1.3l0.3-1.2l-0.3-1.2l0.3-1.2l-0.3-1.3l0.3-1.2l-0.3-1.2l0.3-1.3l-0.3-1.2l0.3-1.2l-0.3-1.2l0.3-1.2l-0.3-1.3l0.3-1.2l-0.3-1.2l0.3-1.2l-0.3-1.3l0.3-1.2l-0.3-1.2l0.3-1.3l-0.3-1.2l0.3-1.2l-0.3-1.2l0.3-1.2l-0.3-1.3l0.3-1.2l-0.3-1.2l0.3-1.3l-0.3-1.2l0.3-1.2l-0.3-1.2l0.3-1.2l-0.3-1.3l0.3-1.2l-0.3-1.2l0.3-1.2l-0.3-1.3l0.3-1.2l-0.3-1.2l0.3-1.2l-0.3-1.3l0.3-1.2l-0.3-1.2l0.3-1.2l-0.3-1.3l0.3-1.2l-0.3-1.2l0.3-1.2l-0.4-1.7l-1.3-1.2l-1.6-0.4l-1 0.2l-0.9-0.2l-1 0.2l-0.9-0.2l-1 0.2l-0.9-0.2l-0.7 0.1l-0.1-0.5l0.3-1.2l-0.3-1.3l0.3-1.2l-0.3-1.2l0.3-1.2l-0.3-1.3l0.3-1.2l-0.3-1.2l0.3-1.3l-0.3-1.2l0.3-1.2l-0.3-1.2l0.3-1.2l-0.3-1.3l0.3-1.2l-0.3-1.2l0.3-1.2l-0.3-1.3l0.3-1.2l-0.3-1.2l0.3-1.2l-0.3-1.3l0.3-1.2l-0.3-1.2l0.3-1.2l-0.3-1.3l0.3-1.2l-0.3-1.2l0.3-1.2l-0.3-1.3l0.3-1.2l-0.4-1.6l-1.3-1.3l-0.3-0.1l-0.2-0.7l0.3-1.2l-0.3-1.2l0.3-1.3l-0.3-1.2l0.3-1.2l-0.3-1.2l0.3-1.2l-0.4-1.7l-1.3-1.2l-0.3-0.1l-0.2-0.7l0.3-1.2l-0.3-1.3l0.3-1.2l-0.3-1.2l0.3-1.3l-0.4-1.6l-1.3-1.2l-0.3-0.1l-0.2-0.7l0.3-1.2l-0.3-1.3l0.3-1.2l-0.3-1.2l0.3-1.3l-0.4-1.6l-1.3-1.2l-0.3-0.1l-0.2-0.7l0.3-1.2l-0.3-1.3l0.3-1.2l-0.4-1.6l-1.3-1.3l-0.3-0.1l-0.2-0.7l0.3-1.2l-0.3-1.2l0.3-1.2l-0.3-1.3l0.3-1.2l-0.4-1.6l-1.3-1.3l-0.3-0.1l-0.3-1.1l-1.3-1.2l-0.3-0.1l-0.2-0.7l0.3-1.3l-0.3-1.2l0.3-1.2l-0.4-1.7l-1.3-1.2l-0.3-0.1l-0.2-0.7l0.3-1.2l-0.4-1.7l-1.3-1.2l-0.3-0.1l-0.4-1.1l-1.2-1.2l-0.3-0.1l-0.2-0.7l0.3-1.3l-0.5-1.6l-1.2-1.2l-0.3-0.1l-0.2-0.7l0.3-1.3l-0.5-1.6l-1.2-1.2l-0.3-0.1l-0.4-1.2l-1.2-1.2l-0.3-0.1l-0.4-1.1l-1.2-1.2l-1.6-0.5l-0.7 0.2l-0.3-1l-1.2-1.2l-0.3-0.1l-0.4-1.1l-1.2-1.2l-0.3-0.1l-0.4-1.2l-1.2-1.2l-0.3-0.1l-0.4-1.1l-1.2-1.2l-0.4-0.1l-0.3-1.2l-1.2-1.2l-0.4-0.1l-0.3-1.1l-1.2-1.2l-1.6-0.4l-0.7 0.1l-0.3-0.9l-1.2-1.3l-1.6-0.4l-0.7 0.2l-0.3-1l-1.2-1.2l-1.6-0.5l-1 0.3l-0.9-0.3l-0.7 0.2l-0.3-0.9l-1.2-1.3l-1.6-0.4l-0.7 0.2l-0.3-1l-1.2-1.2l-1.6-0.5l-0.7 0.2l-0.3-1l-1.2-1.2l-1.6-0.4l-1 0.3l-0.9-0.3l-0.7 0.2l-0.3-1l-1.2-1.2l-1.6-0.4l-1 0.2l-0.9-0.2l-0.7 0.1l-0.3-1l-1.2-1.2l-1.6-0.4l-1 0.3l-0.9-0.3l-1 0.3l-0.9-0.3l-1 0.3l-0.9-0.3l-1 0.3l-0.9-0.3l-1 0.3l-0.9-0.3l-1.7 0.4l-1.2 1.2l-0.3 1.2l-0.4 0.1l-1.2 1.2l-0.3 1.1l-0.4 0.1l-1.2 1.2l-0.3 1.2l-0.4 0.1l-1.2 1.2l-0.4 1.6l0.3 1.3l-0.2 0.7l-0.4 0.1l-1.2 1.2l-0.4 1.6l0.3 1.3l-0.2 0.7l-0.4 0.1l-1.2 1.2l-0.3 1.1l-0.4 0.1l-1.2 1.2l-0.3 1.2l-0.4 0.1l-1.2 1.2l-0.3 1.1l-0.4 0.1l-1.2 1.2l-0.4 1.7l0.3 1.2l-0.2 0.7l-0.4 0.1l-1.2 1.2l-0.3 1.2l-0.4 0.1l-1.2 1.2l-0.3 1.1l-0.4 0.1l-1.2 1.2l-0.3 1.2l-0.4 0.1l-1.2 1.2l-0.3 1.1l-0.4 0.1l-1.2 1.3l-0.3 1.1l-0.4 0.1l-1.2 1.2l-0.3 1.1l-0.4 0.1l-1.2 1.2l-0.3 1.2l-0.4 0.1l-1.2 1.2l-0.3 1.1l-0.4 0.1l-1.2 1.2l-0.3 1.2l-0.4 0.1l-1.2 1.2l-0.3 1.1l-0.4 0.1l-1.2 1.2l-0.3 1.2l-0.4 0.1l-1.2 1.2l-0.3 1.1l-0.4 0.1l-1.2 1.3l-0.3 0.9l-0.6-0.1l-1.7 0.4l-1.2 1.2l-0.3 1.1l-0.4 0.1l-1.2 1.3l-0.3 0.9l-0.6-0.2l-1.7 0.5l-1.2 1.2l-0.3 1l-0.6-0.2l-1.7 0.4l-1.2 1.2l-0.3 1.2l-0.4 0.1l-1.2 1.2l-0.3 1l-0.6-0.2l-1.7 0.4l-1.2 1.3l-0.3 1.1l-0.4 0.1l-1.2 1.2l-0.3 1l-0.6-0.2l-1.7 0.4l-1.2 1.2l-0.3 1l-0.6-0.2l-1.7 0.5l-1.2 1.2l-0.3 1.1l-0.4 0.1l-1.2 1.2l-0.3 1l-0.6-0.1l-1.7 0.4l-1.2 1.2l-0.3 1l-0.6-0.2l-1 0.3l-0.9-0.3l-1.7 0.4l-1.2 1.3l-0.3 0.9l-0.6-0.2l-1.7 0.5l-1.2 1.2l-0.3 1l-0.6-0.2l-1.7 0.4l-1.2 1.2l-0.3 1l-0.6-0.2l-1 0.3l-0.9-0.3l-1.7 0.5l-1.2 1.2l-0.3 1l-0.7-0.2l-1.6 0.4l-1.2 1.3l-0.3 0.9l-0.7-0.1l-0.9 0.2l-1-0.2l-1.6 0.4l-1.2 1.2l-0.3 1l-0.7-0.2l-1.6 0.4l-1.2 1.2l-0.3 1l-0.7-0.2l-0.9 0.3l-1-0.3l-1.6 0.5l-1.2 1.2l-0.3 1l-0.7-0.2l-1.6 0.4l-1.2 1.3l-0.3 0.9l-0.7-0.1l-0.9 0.2l-1-0.2l-1.6 0.4l-1.2 1.2l-0.3 1l-0.7-0.2l-1.6 0.4l-1.2 1.3l-0.3 0.9l-0.7-0.2l-1.6 0.5l-1.2 1.2l-0.3 1l-0.7-0.2l-1.6 0.4l-1.2 1.2l-0.3 1l-0.7-0.2l-1.6 0.5l-1.2 1.2l-0.3 1l-0.7-0.2l-1.6 0.4l-1.2 1.3l-0.3 0.9l-0.7-0.2l-1.6 0.5l-1.2 1.2l-0.3 1l-0.7-0.2l-1.6 0.4l-1.2 1.2l-0.3 1l-0.7-0.1l-1.6 0.4l-1.2 1.2l-0.3 1l-0.7-0.2l-1.6 0.4l-1.2 1.2l-0.3 1l-0.7-0.1l-1.6 0.4l-1.2 1.2l-0.3 1l-0.7-0.2l-1.6 0.4l-1.2 1.3l-0.3 1.1l-0.4 0.1l-1.2 1.2l-0.3 1l-0.7-0.2l-1.6 0.4l-1.2 1.3l-0.3 1.1l-0.4 0.1l-1.2 1.2l-0.3 1l-0.7-0.2l-1.6 0.4l-1.2 1.3l-0.3 0.9l-0.7-0.1l-1.6 0.4l-1.2 1.2l-0.3 1.1l-0.4 0.1l-1.2 1.2l-0.3 1l-0.7-0.1l-1.6 0.4l-1.2 1.2l-0.3 1.1l-0.4 0.1l-1.2 1.3l-0.3 0.9l-0.7-0.1l-1.6 0.4l-1.2 1.2l-0.3 1.1l-0.4 0.1l-1.2 1.3l-0.3 0.9l-0.7-0.2l-1.6 0.5l-1.2 1.2l-0.3 1.1l-0.4 0.1l-1.2 1.3l-0.5 1.6l0.5 1.7l1.2 1.2l1.6 0.4l1-0.3l0.9 0.3l1-0.3l0.9 0.3l0.7-0.2l0.3 1l1.2 1.2l1.6 0.5l1-0.3l0.9 0.3l1-0.3l0.9 0.3l1-0.3l0.9 0.3l1-0.3l0.9 0.3l0.7-0.1l0.3 0.9l1.2 1.2l1.6 0.4l1-0.3l0.9 0.3l1-0.3l0.9 0.3l1-0.3l0.9 0.3l1-0.3l0.9 0.3l1-0.3l0.9 0.3l1-0.3l0.9 0.3l0.7-0.2l0.3 1l1.2 1.2l1.6 0.5l1-0.3l0.9 0.3l1-0.3l0.9 0.3l0.7-0.2l0.2 0.5l-0.2 0.6l-0.7-0.2l-0.9 0.3l-1-0.3l-0.9 0.3l-1-0.3l-0.9 0.3l-1-0.3l-1.3 0.3l-1.2-0.3z" fill="#ff0000"/>
<path d="M1793 222l0 9l7.5 0l0-16z" fill="#000000"/>
<path d="M1793 301l0 9l7.5 7l0-16z" fill="#000000"/>
<path d="M1800.8 204l0 124.5l1.2 3l2.5 0.8l2.5-0.8l1-3l0-124.5l-1-3l-2.5-0.7l-2.5 0.7z" fill="#ff0000"/>
<path d="M1528 257.2l0 2.6l12 0.2l35-0.5l44-0.7l0-0.8l-44-1l-35-0.4z" fill="#000000"/>
<path d="M1528 272l0 3.2l12 0.4l30-0.6l59-0.7l0-0.7l-59-1.6l-30-0.4z" fill="#000000"/>
<circle cx="1272.2" cy="240" r="3" fill="#000000"/>
<circle cx="1277.7" cy="234.5" r="3" fill="#000000"/>
<circle cx="1272.2" cy="247.2" r="3" fill="#000000"/>
<circle cx="1279.9" cy="245.5" r="3" fill="#000000"/>
<circle cx="1277.7" cy="248.8" r="3" fill="#000000"/>
<circle cx="1500" cy="265.8" r="4" fill="#000000"/>
<circle cx="1475" cy="262" r="3" fill="#000000"/>
<circle cx="1470.6" cy="270.8" r="3" fill="#000000"/>
<path d="M206.8 650.1V1154.1M282.8 650.1V1154.1M358.9 650.1V1154.1M434.9 650.1V1154.1M511 650.1V1154.1M587.1 650.1V1154.1M663.1 650.1V1154.1M739.2 650.1V1154.1M815.2 650.1V1154.1M130.7 776.1H891.3M130.7 902.1H891.3M130.7 1028.1H891.3" stroke="#dcdcdc" stroke-width="2.2" fill="none"/>
<path d="M130.7 650.1H891.3V1154.1H130.7ZM206.8 650.1v8.2M206.8 1154.1v-8.2M282.8 650.1v8.2M282.8 1154.1v-8.2M358.9 650.1v8.2M358.9 1154.1v-8.2M434.9 650.1v8.2M434.9 1154.1v-8.2M511 650.1v8.2M511 1154.1v-8.2M587.1 650.1v8.2M587.1 1154.1v-8.2M663.1 650.1v8.2M663.1 1154.1v-8.2M739.2 650.1v8.2M739.2 1154.1v-8.2M815.2 650.1v8.2M815.2 1154.1v-8.2M130.7 776.1h8.2M891.3 776.1h-8.2M130.7 902.1h8.2M891.3 902.1h-8.2M130.7 1028.1h8.2M891.3 1028.1h-8.2" stroke="#262626" stroke-width="2.2" fill="none"/>
<circle cx="128.7" cy="845.9" r="3" fill="#000000"/>
<path d="M449 861.2l0.2 0.9l1.2 1.2l1.7 0.4l0.9-0.2l1 0.2l0.9-0.2l1 0.2l0.9-0.2l1 0.2l0.9-0.2l1 0.2l0.9-0.2l1 0.2l1.6-0.4l1.2-1.2l0.2-0.9l1.8-0.1l0.9 0.2l0.9-0.3l1 0.3l0.9-0.3l1 0.3l0.9-0.3l1 0.3l0.9-0.3l1 0.3l0.9-0.3l1 0.3l0.9-0.3l1 0.3l1.6-0.4l1.2-1.3l0.3-1.1l0.4-0.1l1.2-1.2l0.5-1.7l-0.5-1.6l-1.2-1.2l-0.4-0.1l-0.2-0.7l0.4-1.3l-0.5-1.6l-1.2-1.2l-1.6-0.5l-1 0.3l-0.9-0.3l-0.7 0.2l-0.3-1l-1.2-1.2l-1.6-0.4l-1 0.3l-0.9-0.3l-0.7 0.2l-0.3-1l-1.2-1.2l-1.6-0.5l-1 0.3l-0.9-0.3l-1 0.3l-0.9-0.3l-1 0.3l-0.9-0.3l-0.7 0.2l-0.3-1l-1.2-1.2l-1.6-0.4l-1 0.3l-0.9-0.3l-1 0.3l-0.9-0.3l-1 0.3l-0.9-0.3l-0.7 0.2l-0.3-1l-1.2-1.2l-1.6-0.5l-1 0.3l-1-0.3l-0.9 0.3l-1-0.3l-0.6 0.2l-0.3-1l-1.2-1.2l-1.7-0.4l-0.9 0.3l-1-0.3l-0.9 0.3l-1-0.3l-0.9 0.3l-1-0.3l-0.6 0.2l-0.3-1l-1.2-1.2l-1.7-0.5l-0.9 0.3l-1-0.3l-0.9 0.3l-1-0.3l-0.9 0.3l-1-0.3l-0.6 0.2l-0.3-1l-1.2-1.2l-1.7-0.4l-0.9 0.3l-1-0.3l-0.9 0.3l-1-0.3l-0.9 0.3l-1-0.3l-0.7 0.2l-0.2-1l-1.2-1.2l-1.7-0.4l-0.9 0.2l-1-0.2l-0.9 0.2l-1-0.2l-0.9 0.2l-1-0.2l-0.9 0.2l-1-0.2l-0.6 0.1l-0.3-1l-1.2-1.2l-1.7-0.4l-0.9 0.3l-1-0.3l-0.9 0.3l-1-0.3l-0.9 0.3l-1-0.3l-0.9 0.3l-1-0.3l-0.7 0.2l-0.2-1l-1.2-1.2l-1.7-0.5l-0.9 0.3l-1-0.3l-0.9 0.3l-1-0.3l-0.9 0.3l-1-0.3l-1 0.3l-0.9-0.3l-0.7 0.2l-0.2-1l-1.3-1.2l-1.6-0.4l-1 0.3l-0.9-0.3l-1 0.3l-0.9-0.3l-1 0.3l-0.9-0.3l-0.7 0.2l-0.3-1l-1.2-1.2l-1.6-0.5l-1 0.3l-0.9-0.3l-1 0.3l-0.9-0.3l-1 0.3l-0.9-0.3l-0.7 0.2l-0.3-1l-1.2-1.2l-1.6-0.4l-1 0.3l-0.9-0.3l-1 0.3l-0.9-0.3l-1 0.3l-0.9-0.3l-1 0.3l-0.9-0.3l-0.7 0.2l-0.3-1l-1.2-1.2l-1.6-0.5l-1 0.3l-0.9-0.3l-1 0.3l-0.9-0.3l-1 0.3l-0.9-0.3l-0.7 0.2l-0.3-1l-1.2-1.2l-1.6-0.4l-1 0.3l-0.9-0.3l-1.7 0.4l-1.2 1.2l-0.4 1.7l0.4 1.6l1.2 1.3l0.4 0.1l0.3 1.1l1.2 1.2l0.4 0.1l0.3 1.1l1.2 1.3l1.7 0.4l0.6-0.2l0.3 1l1.2 1.2l0.4 0.1l0.3 1.1l1.2 1.3l0.4 0.1l0.3 1.1l1.2 1.2l0.4 0.1l0.3 1.1l1.2 1.3l1.7 0.4l0.7-0.2l0.2 1l1.2 1.2l1.7 0.4l0.7-0.1l0.2 0.9l1.2 1.3l1.7 0.4l0.7-0.2l0.2 1l1.2 1.2l1.7 0.4l0.7-0.1l0.2 0.9l1.2 1.3l1.7 0.4l0.9-0.3l1 0.3l0.7-0.2l0.2 1l1.2 1.2l1.7 0.4l0.9-0.2l1 0.2l0.9-0.2l1 0.2l0.9-0.2l1 0.2l0.9-0.2l1 0.2l0.9-0.2l1 0.2l0.9-0.2l1 0.2l0.7-0.1l0.2 0.9l1.3 1.3l1.6 0.4l1-0.3l0.9 0.3l0.7-0.2l0.2 1l1.3 1.2l1.6 0.4l0.7-0.1l0.3 0.9l1.2 1.3l1.6 0.4l0.7-0.2l0.3 1l1.2 1.2l1.6 0.4l1-0.2l0.9 0.2l1-0.2l0.9 0.2l0.7-0.1l0.3 0.9l1.2 1.3l1.6 0.4l1-0.3l0.9 0.3l1-0.3l0.9 0.3l1-0.3l0.9 0.3l1-0.3l0.9 0.3l1-0.3l0.9 0.3l1-0.3l0.9 0.3l1-0.3l0.9 0.3l1-0.3l0.9 0.3l1-0.3l0.9 0.3l1-0.3l0.9 0.3l1-0.3l0.9 0.3l1-0.3l0.9 0.3l0.7-0.2l0.3 1l1.2 1.2l1.6 0.4l0.7-0.1l0.3 0.9l1.2 1.3l1.6 0.4l1-0.3l0.9 0.3l1-0.3l0.9 0.3l1-0.3l0.9 0.3l1-0.3l0.9 0.3l1-0.3l0.9 0.3l1-0.3l1 0.3z" fill="#000000"/>
<path d="M437.1 940.6l-1.5 0.7l-0.6 0.7l-0.5 1l-0.5 0.2l-1-0.3l-0.9 0.3l-1-0.3l-0.9 0.3l-1-0.3l-0.9 0.3l-1-0.3l-0.9 0.3l-1-0.3l-0.9 0.3l-1-0.3l-1.6 0.4l-1.2 1.2l-0.3 1l-0.7-0.2l-0.9 0.3l-1-0.3l-0.9 0.3l-1-0.3l-0.9 0.3l-1-0.3l-1.6 0.5l-1.2 1.2l-0.3 1l-0.7-0.2l-0.9 0.3l-1-0.3l-1.6 0.4l-1.2 1.2l-0.3 1l-0.7-0.2l-0.9 0.3l-1-0.3l-1.6 0.5l-1.2 1.2l-0.3 1l-0.7-0.2l-0.9 0.3l-1-0.3l-0.9 0.3l-1-0.3l-1.6 0.4l-1.2 1.2l-0.3 1l-0.7-0.2l-0.9 0.3l-1-0.3l-0.9 0.3l-1-0.3l-0.9 0.3l-1-0.3l-1.6 0.5l-1.3 1.2l-0.2 0.9l-0.7-0.1l-1 0.3l-0.9-0.3l-1 0.3l-0.9-0.3l-1.7 0.4l-1.2 1.2l-0.2 1l-0.7-0.2l-1 0.3l-0.9-0.3l-1.7 0.5l-1.2 1.2l-0.2 1l-0.7-0.2l-1 0.3l-0.9-0.3l-1.7 0.4l-1.2 1.2l-0.2 1l-0.7-0.2l-1 0.3l-0.9-0.3l-1.7 0.5l-1.2 1.2l-0.2 1l-0.7-0.2l-1.7 0.4l-1.2 1.2l-0.3 1.2l-0.4 0.1l-1.2 1.2l-0.2 1l-0.7-0.2l-1.7 0.4l-1.2 1.2l-0.3 1.2l-0.4 0.1l-1.2 1.2l-0.2 1l-0.7-0.2l-1.7 0.4l-1.2 1.2l-0.3 1.2l-0.4 0.1l-1.2 1.2l-0.3 1.1l-0.4 0.1l-1.2 1.2l-0.3 1.2l-0.4 0.1l-1.2 1.2l-0.3 1l-0.6-0.2l-1.7 0.4l-1.2 1.2l-0.4 1.7l0.3 1.8l1.3 1.1l1.7 0.4l0.9-0.3l1 0.3l0.9-0.3l1 0.3l0.9-0.3l1 0.3l1.6-0.4l1.2-1.3l0.3-0.9l0.7 0.1l0.9-0.2l1 0.2l0.9-0.2l1 0.2l0.9-0.2l1 0.2l0.9-0.2l1 0.2l1.6-0.4l1.2-1.2l0.3-1l0.7 0.2l0.9-0.3l1 0.3l0.9-0.3l1 0.3l0.9-0.3l1 0.3l1.6-0.4l1.2-1.3l0.3-0.9l0.7 0.1l0.9-0.2l1 0.2l0.9-0.2l1 0.2l0.9-0.2l1 0.2l1.6-0.4l1.2-1.2l0.3-1l0.7 0.2l0.9-0.3l1 0.3l0.9-0.3l1 0.3l0.9-0.3l1 0.3l0.9-0.3l1 0.3l1.6-0.4l1.3-1.3l0.2-0.9l0.7 0.1l1-0.2l0.9 0.2l1-0.2l0.9 0.2l1-0.2l0.9 0.2l1-0.2l0.9 0.2l1.7-0.4l1.2-1.2l0.2-1l0.7 0.2l1-0.3l0.9 0.3l1-0.3l0.9 0.3l1.7-0.4l1.2-1.3l0.2-0.9l0.7 0.1l1-0.2l0.9 0.2l1-0.2l0.9 0.2l1-0.2l0.9 0.2l1.7-0.4l1.2-1.2l0.2-1l0.7 0.2l1-0.3l0.9 0.3l1-0.3l0.9 0.3l1-0.3l0.9 0.3l1-0.3l0.9 0.3l1.7-0.4l1.2-1.3l0.2-0.9l0.7 0.1l1-0.2l0.9 0.2l1-0.2l0.9 0.2l1-0.2l0.9 0.2l1.7-0.4l1.2-1.2l0.3-1l0.6 0.2l1-0.3l0.9 0.3l1-0.3l0.9 0.3l1.7-0.4l1.2-1.3l0.3-0.9l0.6 0.1l1-0.2l0.9 0.2l1-0.2l1 0.2l0.9-0.2l1 0.2l1.6-0.4l1.2-1.2l0.3-1l0.7 0.2l0.9-0.3l1 0.3l0.9-0.3l1 0.3l1.6-0.4l1.2-1.3l0.3-0.9l0.7 0.1l0.9-0.2l1 0.2l0.9-0.2l1 0.2l1.6-0.4l1.2-1.2l0.3-1l0.7 0.2l0.9-0.3l1 0.3l0.9-0.3l1 0.3l1.6-0.4l1.2-1.3l0.3-0.9l0.7 0.1l0.9-0.2l1 0.2l1.6-0.4l1.2-1.2l0.3-1l0.7 0.2l0.9-0.3l1 0.3l1.6-0.4l1.2-1.3l0.3-1.1l0.4-0.1l1.2-1.2l0.5-1.7l-0.3-1.1l0.3-1.3l-0.5-1.7l-1.2-1.2l-1.6-0.4l-1 0.3l-0.9-0.3l-1 0.3l-0.9-0.3l-0.7 0.2l-0.3-1l-1.2-1.2l-1.6-0.5l-1 0.3l-0.9-0.3l-1 0.3l-0.9-0.3l-1 0.3l-0.9-0.3l-1 0.3l-0.9-0.3l-1 0.3l-0.9-0.3l-1 0.3l-0.9-0.3l-1 0.3l-0.9-0.3l-1.7 0.5l-0.2 0.2l-0.3-0.2l-1.6-0.5l-1 0.3l-0.9-0.3l-1 0.3l-0.9-0.3l-1 0.3l-0.9-0.3l-1 0.3l-0.9-0.3l-1 0.3l-0.9-0.3l-1 0.3l-0.9-0.3l-1 0.3l-0.9-0.3l-1 0.3l-1-0.3l-0.9 0.3l-1-0.3l-0.9 0.3l-1-0.3l-0.9 0.3l-1-0.3l-1.4 0.4l-1-0.2z" fill="#000000"/>
<path d="M670.1 884.5l-1.2 1l-0.6 1.1l-1.4-0.1l-1.1 0.3l-0.8-0.3l-0.9 0.3l-1-0.3l-0.9 0.3l-1-0.3l-0.9 0.3l-1-0.3l-0.9 0.3l-1-0.3l-0.9 0.3l-1-0.3l-0.9 0.3l-1-0.3l-0.9 0.3l-1-0.3l-0.9 0.3l-1-0.3l-0.9 0.3l-1-0.3l-0.9 0.3l-1-0.3l-0.9 0.3l-1-0.3l-0.9 0.3l-1-0.3l-0.9 0.3l-1-0.3l-0.9 0.3l-1-0.3l-1 0.3l-0.9-0.3l-1 0.3l-0.9-0.3l-1.5 0.5l-1.6-0.3l-1 0.2l-0.8 0.5l-0.7 0.7l-0.5 1l-0.6 0.2l-0.9-0.3l-1 0.3l-0.9-0.3l-1.7 0.4l-0.4 0.5l-0.9 0.1l-1.2 0.4l-3.9 0.4l-1.2 0.7l-1.2 0.2l-0.9-0.3l-1 0.3l-0.9-0.3l-1.4 0.4l-1.6-0.2l-8.6 0.8l-1 0.3l-2.6 1.5l-0.8 1l-0.4 1.1l-0.3-1l-10.2 5.4l-0.2 0.4l0.3 0.2l11.6-1.3l-0.3-1l1.1 0.8l1.3 0.3l11.4-1.3l1.5-0.8l1.1-0.2l1 0.2l0.9-0.2l1 0.2l1.4-0.3l1.3 0.2l5.4-0.5l1.5-0.6l1-1.4l0.8 0.2l0.9-0.3l1 0.3l0.9-0.3l1 0.3l0.9-0.3l1 0.3l0.9-0.3l1 0.3l0.9-0.3l1 0.3l0.9-0.3l1 0.3l1-0.3l0.9 0.3l1-0.3l0.9 0.3l1-0.3l0.9 0.3l1-0.3l0.9 0.3l1-0.3l0.9 0.3l1-0.3l0.9 0.3l1-0.3l0.9 0.3l1-0.3l0.9 0.3l1-0.3l0.9 0.3l1-0.3l0.9 0.3l1.3-0.4l0.9 0.3l1 0l1-0.2l0.8-0.4l0.7-0.8l0.5-1l1.4 0l1.1-0.2l0.8 0.2l1-0.2l0.9 0.2l1-0.2l0.9 0.2l1-0.2l0.9 0.2l1-0.2l0.9 0.2l1-0.2l0.9 0.2l1-0.2l0.9 0.2l1-0.2l0.9 0.2l1-0.2l0.9 0.2l1-0.2l0.9 0.2l1-0.2l0.9 0.2l1-0.2l0.9 0.2l1-0.2l0.9 0.2l1-0.2l0.9 0.2l1-0.2l0.9 0.2l1-0.2l0.9 0.2l1-0.2l0.9 0.2l1-0.2l0.9 0.2l1-0.2l0.9 0.2l1-0.2l1 0.2l0.9-0.2l1 0.2l1.4-0.3l1.5 0.2l1.1-0.2l0.9-0.4l0.7-0.7l0.5-1.1l1.5 0.1l0.9-0.3l1 0.3l0.9-0.3l1 0.3l0.9-0.3l1 0.3l0.9-0.3l1 0.3l0.9-0.3l1 0.3l0.9-0.3l1 0.3l0.9-0.3l1 0.3l0.9-0.3l1 0.3l0.9-0.3l1 0.3l0.9-0.3l1 0.3l0.9-0.3l1 0.3l0.9-0.3l1 0.3l0.9-0.3l1 0.3l0.9-0.3l1 0.3l0.9-0.3l1 0.3l0.9-0.3l1 0.3l0.9-0.3l1 0.3l0.9-0.3l1 0.3l0.9-0.3l1 0.3l0.9-0.3l1 0.3l0.9-0.3l1 0.3l1.5-0.4l1.5 0.3l1-0.2l0.8-0.5l0.7-0.7l0.5-1l0.8-0.2l0.8 0.2l0.9-0.2l1 0.2l0.9-0.2l1 0.2l1-0.2l0.9 0.2l1-0.2l0.9 0.2l1-0.2l0.9 0.2l1-0.2l0.9 0.2l1-0.2l0.9 0.2l1-0.2l0.9 0.2l1-0.2l0.9 0.2l1-0.2l0.9 0.2l1-0.2l0.9 0.2l1-0.2l0.9 0.2l1-0.2l0.9 0.2l1-0.2l0.9 0.2l1-0.2l0.9 0.2l1-0.2l0.9 0.2l1-0.2l0.9 0.2l1-0.2l0.9 0.2l1-0.2l0.9 0.2l1-0.2l0.9 0.2l1.4-0.3l1.5 0.3l1.2-0.2l0.9-0.5l0.7-0.7l0.5-1.1l1.4 0.1l1.1-0.2l0.8 0.2l1-0.3l0.9 0.3l1-0.3l0.9 0.3l1-0.3l0.9 0.3l1-0.3l0.9 0.3l1-0.3l0.9 0.3l1-0.3l0.9 0.3l1-0.3l0.9 0.3l1-0.3l0.9 0.3l1-0.3l0.9 0.3l1-0.3l0.9 0.3l1-0.3l1 0.3l0.9-0.3l1 0.3l0.9-0.3l1 0.3l0.9-0.3l1 0.3l0.9-0.3l1 0.3l0.9-0.3l1 0.3l0.9-0.3l1 0.3l0.9-0.3l1 0.3l0.9-0.3l1 0.3l0.9-0.3l1 0.3l1.6-0.4l1.2-1.3l0.3-1l1.6-1.4l0.3-1.1l0.4-0.1l1.2-1.3l0.5-1.6l-0.4-1.2l0.2-0.7l0.4-0.1l1.2-1.3l0.5-1.6l-0.4-1.2l0.2-0.7l0.4-0.1l1.2-1.3l0.5-1.6l-0.4-1.2l0.4-1.3l-0.4-1.2l0.4-1.2l-0.4-1.2l0.4-1.3l-0.4-1.2l0.4-1.2l-0.5-1.7l-1.2-1.2l-1.6-0.4l-1.7 0.4l-1.2 1.2l-0.3 1.2l-0.4 0.1l-1.2 1.2l-0.3 1l-0.6-0.2l-1 0.3l-0.9-0.3l-1.7 0.4l-1.2 1.2l-0.3 1l-0.6-0.2l-1.7 0.5l-1.2 1.2l-0.3 1l-0.6-0.2l-1 0.3l-0.9-0.3l-1.7 0.4l-1.2 1.2l-0.3 1l-0.6-0.2l-1.7 0.5l-1.2 1.2l-0.3 1l-0.6-0.2l-1 0.3l-1-0.3l-0.9 0.3l-1-0.3l-0.9 0.3l-1-0.3l-0.9 0.3l-1-0.3l-1.6 0.4l-1.2 1.2l-0.3 1l-0.7-0.2l-0.9 0.3l-1-0.3l-0.9 0.3l-1-0.3l-0.9 0.3l-1-0.3l-1.6 0.5l-1.2 1.2l-0.3 1l-0.7-0.2l-0.9 0.3l-1-0.3l-0.9 0.3l-1-0.3l-0.9 0.3l-1-0.3l-0.9 0.3l-1-0.3l-0.9 0.3l-1-0.3l-1.6 0.4l-1.2 1.2l-0.3 1l-0.7-0.1l-0.9 0.2l-1-0.2l-0.9 0.2l-1-0.2l-0.9 0.2l-1-0.2l-0.9 0.2l-1-0.2l-0.9 0.2l-1-0.2l-1.6 0.4l-1.2 1.2l-0.3 0.8l-0.3 0.1l-0.4-0.1l-0.9 0.3l-1-0.3l-0.9 0.3l-1-0.3l-0.9 0.3l-1-0.3l-0.9 0.3l-1-0.3l-0.9 0.3l-1-0.3l-0.9 0.3l-1-0.3l-0.9 0.3l-1-0.3l-1.5 0.4l-0.9-0.2l-1 0l-0.9 0.3l-0.9 0.5l-0.6 0.8l-0.3 0.7l-0.7 0.2l-0.8-0.3l-1 0.3l-0.9-0.3l-1 0.3l-0.9-0.3l-1 0.3l-0.9-0.3l-1 0.3l-0.9-0.3l-1 0.3l-0.9-0.3l-1 0.3l-0.9-0.3l-1 0.3l-0.9-0.3l-1 0.3l-0.9-0.3l-1 0.3l-0.9-0.3l-1 0.3l-0.9-0.3l-1 0.3l-0.9-0.3l-1 0.3l-0.9-0.3l-1 0.3l-0.9-0.3l-1 0.3l-0.9-0.3l-1 0.3l-0.9-0.3l-1 0.3l-0.9-0.3l-1 0.3l-0.9-0.3l-1 0.3l-0.9-0.3l-1.3 0.4l-1.2-0.3l-2.5 0.1l-1.5 0.4l-0.9 0.9l-0.6 1.1l-0.8 0.1l-0.7-0.2l-1 0.3l-0.9-0.3l-1 0.3l-0.9-0.3l-1 0.3l-0.9-0.3l-1 0.3l-0.9-0.3l-1 0.3l-0.9-0.3l-1 0.3l-0.9-0.3l-1 0.3l-0.9-0.3l-1 0.3l-1-0.3l-0.9 0.3l-1-0.3l-0.9 0.3l-1-0.3l-0.9 0.3l-1-0.3l-0.9 0.3l-1-0.3l-0.9 0.3l-1-0.3l-0.9 0.3l-1-0.3l-0.9 0.3l-1-0.3l-0.9 0.3l-1-0.3l-0.9 0.3l-1-0.3l-0.9 0.3l-1-0.3l-0.9 0.3l-1-0.3l-0.9 0.3l-1-0.3l-0.9 0.3l-1-0.3l-0.9 0.3l-1-0.3l-1.3 0.4l-1.5-0.3z" fill="#000000"/>
<path d="M595.1 909.7l0.3-1l0.4 1.1l0.5 0.8l2 1.2l0.9 0.3l1.2 0l0.2 0.2l1.7 0.4l0.9-0.2l1 0.2l0.9-0.2l1 0.2l0.9-0.2l1 0.2l0.4-0.1l1.5 0.7l10.8 0.8l1.3 0.4l1.2 0.1l0.2 0.2l1.7 0.4l0.7-0.2l0.2 1l1.2 1.2l1.7 0.4l0.9-0.2l1 0.2l0.9-0.2l1 0.2l0.9-0.2l1 0.2l0.9-0.2l1 0.2l0.9-0.2l1 0.2l1-0.2l0.9 0.2l1-0.2l0.9 0.2l1-0.2l0.9 0.2l1-0.2l0.9 0.2l1-0.2l0.9 0.2l1-0.2l0.9 0.2l1-0.2l0.9 0.2l1-0.2l0.9 0.2l1-0.2l0.9 0.2l1-0.2l0.9 0.2l0.8-0.2l1.1 0.2l0.6-0.1l2.7 0.1l0.4 0.9l0.8 0.9l0.9 0.4l1.3 0.2l1.5-0.3l1.3 0.4l1-0.3l0.9 0.3l1-0.3l0.9 0.3l1-0.3l0.9 0.3l1-0.3l0.9 0.3l1-0.3l0.9 0.3l1-0.3l0.9 0.3l1-0.3l0.9 0.3l1-0.3l0.9 0.3l1-0.3l0.9 0.3l1-0.3l0.9 0.3l1-0.3l0.9 0.3l1-0.3l0.9 0.3l1-0.3l0.9 0.3l1-0.3l0.9 0.3l1-0.3l0.9 0.3l1-0.3l0.9 0.3l1-0.3l0.9 0.3l1-0.3l1 0.3l0.9-0.3l1 0.3l0.9-0.3l1 0.3l0.9-0.3l1 0.3l0.9-0.2l1 0.2l1.4-0.1l0.6 1.1l0.7 0.7l0.9 0.4l0.9 0.2l1.6-0.2l1.5 0.3l0.9-0.2l1 0.2l0.9-0.2l1 0.2l0.9-0.2l1 0.2l0.9-0.2l1 0.2l0.9-0.2l1 0.2l0.9-0.2l1 0.2l0.9-0.2l1 0.2l0.9-0.2l1 0.2l0.9-0.2l1 0.2l0.9-0.2l1 0.2l0.9-0.2l1 0.2l0.9-0.2l1 0.2l0.9-0.2l1 0.2l0.9-0.2l1 0.2l0.9-0.2l1 0.2l0.8-0.2l1.8 0.2l0.2 0.8l1.2 1.3l1.7 0.4l0.9-0.3l1 0.3l0.9-0.3l1 0.3l0.9-0.3l1 0.3l0.9-0.3l1 0.3l0.9-0.3l1 0.3l0.9-0.3l1 0.3l1-0.3l0.9 0.3l1-0.3l0.9 0.3l1-0.3l0.9 0.3l1-0.3l0.9 0.3l1-0.3l0.9 0.3l0.4-0.1l0.3 0.1l0.3 0.8l1.2 1.2l1.6 0.4l1-0.2l0.9 0.2l1-0.2l0.9 0.2l1-0.2l0.9 0.2l1-0.2l0.9 0.2l1-0.2l0.9 0.2l1-0.2l0.9 0.2l1-0.2l0.9 0.2l0.7-0.1l0.3 0.9l1.2 1.3l1.6 0.4l1-0.3l0.9 0.3l1-0.3l0.9 0.3l1-0.3l0.9 0.3l1-0.3l0.9 0.3l1-0.3l0.9 0.3l1-0.3l0.9 0.3l1-0.3l0.9 0.3l0.7-0.2l0.3 1l1.2 1.2l1.6 0.4l1-0.2l0.9 0.2l1-0.2l0.9 0.2l1-0.2l0.9 0.2l0.7-0.1l0.3 0.9l1.2 1.3l1.6 0.4l1-0.3l0.9 0.3l1-0.3l0.9 0.3l1-0.3l0.9 0.3l0.7-0.2l0.3 1l1.2 1.2l1.7 0.4l0.9-0.2l1 0.2l0.6-0.1l0.3 0.9l1.2 1.3l1.7 0.4l0.9-0.3l1 0.3l0.6-0.2l0.3 1l1.2 1.2l1.7 0.4l0.9-0.2l1 0.2l0.6-0.1l0.3 0.9l1.2 1.3l1.7 0.4l0.6-0.2l0.3 1l1.2 1.2l1.7 0.4l0.9-0.2l1.4 0.4l1.2-0.6l1.2-1.2l0.5-1.7l-0.4-1.2l0.4-1.2l-0.4-1.2l0.4-1.3l-0.4-1.2l0.4-1.2l-0.5-1.7l-1.2-1.2l-0.4-0.1l-0.2-0.7l0.4-1.2l-0.5-1.7l-1.2-1.2l-0.4-0.1l-0.2-0.7l0.4-1.2l-0.5-1.7l-1.2-1.2l-0.4-0.1l-0.3-1.1l-1.2-1.2l-1.6-0.5l-1 0.3l-0.9-0.3l-1 0.3l-0.9-0.3l-1 0.3l-0.9-0.3l-1 0.3l-0.9-0.3l-1 0.3l-0.9-0.3l-1.4 0.2l-0.2-0.1l-0.5-1l-0.7-0.7l-1.5-0.6l-1 0l-0.8 0.2l-1.5-0.4l-1 0.3l-0.9-0.3l-1 0.3l-1-0.3l-0.9 0.3l-1-0.3l-0.9 0.3l-1-0.3l-0.9 0.3l-1-0.3l-0.9 0.3l-1-0.3l-0.9 0.3l-1-0.3l-0.9 0.3l-1-0.3l-0.9 0.3l-1-0.3l-0.9 0.3l-1-0.3l-0.9 0.3l-1-0.3l-0.9 0.3l-1-0.3l-0.9 0.3l-1-0.3l-0.9 0.3l-1-0.3l-0.9 0.3l-1-0.3l-0.9 0.3l-1-0.3l-0.9 0.3l-1-0.3l-0.9 0.3l-1-0.3l-0.9 0.3l-1-0.3l-0.9 0.3l-1-0.3l-0.9 0.2l-1-0.2l-1.4 0.1l-0.5-1.1l-0.7-0.7l-0.9-0.5l-0.9-0.2l-1 0.1l-0.8 0.2l-1.4-0.4l-0.9 0.3l-1-0.3l-0.9 0.3l-1-0.3l-0.9 0.3l-1-0.3l-0.9 0.3l-1-0.3l-0.9 0.3l-1-0.3l-0.9 0.3l-1-0.3l-0.9 0.3l-1-0.3l-0.9 0.3l-1-0.3l-0.9 0.3l-1-0.3l-0.9 0.3l-1-0.3l-1 0.3l-0.9-0.3l-1 0.3l-0.9-0.3l-1 0.3l-0.9-0.3l-1 0.3l-0.9-0.3l-1 0.3l-0.9-0.3l-1 0.3l-0.9-0.3l-1 0.3l-0.9-0.3l-1 0.3l-0.9-0.3l-1 0.3l-0.9-0.3l-1 0.3l-0.9-0.3l-0.8 0.3l-1.1-0.3l-2.6 0.1l-0.3-0.9l-1.2-1.2l-1.6-0.4l-1 0.3l-0.9-0.3l-1 0.3l-0.9-0.3l-1 0.3l-0.9-0.3l-1 0.3l-0.9-0.3l-1 0.3l-0.9-0.3l-1 0.3l-0.9-0.3l-1 0.3l-0.9-0.3l-1 0.3l-0.9-0.3l-1 0.3l-0.9-0.3l-1 0.3l-0.9-0.3l-1 0.3l-0.9-0.3l-1 0.3l-0.9-0.3l-1 0.3l-0.9-0.3l-1 0.3l-0.9-0.3l-1 0.3l-0.9-0.3l-1 0.3l-0.9-0.3l-1 0.3l-0.9-0.3l-1 0.3l-0.9-0.3l-1 0.3l-1-0.3l-0.9 0.3l-1-0.3l-0.9 0.3l-1-0.3l-1.4 0.1l-0.5-1.1l-0.7-0.7l-0.9-0.4l-1-0.2l-1.6 0.2l-1.5-0.4l-0.9 0.3l-1-0.3l-0.9 0.3l-1-0.3l-0.9 0.3l-1-0.3l-0.9 0.3l-1-0.3l-0.9 0.3l-1-0.3l-0.9 0.3l-1-0.3l-0.9 0.3l-1-0.3l-0.9 0.3l-1-0.3l-0.9 0.3l-1-0.3l-0.9 0.3l-1-0.3l-0.9 0.3l-1-0.3l-0.9 0.3l-1-0.3l-0.9 0.3l-1-0.3l-0.9 0.3l-1-0.3l-0.9 0.3l-1-0.3l-0.9 0.3l-1-0.3l-0.9 0.3l-1-0.3l-0.9 0.3l-1-0.3l-0.9 0.3l-1-0.3l-0.9 0.3l-1-0.3l-0.8 0.3l-1.1-0.3l-1.4 0.1l-0.3-0.8l-0.6-0.7l-0.8-0.6l-1-0.3l-1.3 0l-0.9 0.3l-1.3-0.4l-0.9 0.3l-1-0.3l-0.9 0.3l-1-0.3l-1 0.3l-0.9-0.3l-1 0.3l-0.9-0.3l-1 0.3l-0.9-0.3l-1 0.3l-0.9-0.3l-1 0.3l-0.9-0.3l-1 0.3l-0.9-0.3l-1 0.3l-0.6-0.2l-1.1-0.9l-1-0.3l-12.6-1.2l-1.3 0.2l-1.4-0.4l-1 0.3l-0.9-0.3l-1 0.3l-0.9-0.3l-1 0.3l-0.7-0.2l-0.6-0.5l-0.9-0.5l-2.3-0.3l-1.3 0.3l-1.1 0.8l0.3-1l-11.6-1.3l-0.3 0.2l0.2 0.4z" fill="#000000"/>
<path d="M561.6 902.8l2.4 3.2l6 1.2l14-0.2l4-1.5l1-2.7l-1-2.8l-4-1.4l-14-0.2l-6 1.1z" fill="#000000"/>
<path d="M542.3 903.8l-0.2 1.4l3-0.4l5.6-2.3l0.2-0.4l-0.2-0.2l-5.6-2.2l-2.9-0.4l0.1 1.1l-1.1-1.2l-1.7-0.4l-0.9 0.3l-1-0.3l-0.9 0.3l-1-0.3l-0.9 0.3l-1-0.3l-0.9 0.3l-1-0.3l-0.9 0.3l-1-0.3l-0.9 0.3l-1-0.3l-0.9 0.3l-1-0.3l-0.9 0.3l-1-0.3l-0.6 0.2l-0.3-1l-1.2-1.2l-1.7-0.5l-0.9 0.3l-1-0.3l-0.9 0.3l-1-0.3l-0.9 0.3l-1-0.3l-0.9 0.3l-1-0.3l-0.7 0.2l-0.2-1l-1.3-1.2l-0.3-0.1l-0.3-1.1l-1.3-1.2l-0.3-0.1l-0.3-1.2l-1.3-1.2l-1.6-0.4l-1 0.3l-0.9-0.3l-1 0.3l-0.9-0.3l-1 0.3l-0.9-0.3l-0.8 0.2l-1.1-0.2l-0.8 0.2l-1.1-0.2l-0.8 0.2l-1.1-0.2l-0.8 0.2l-1.1-0.2l-0.8 0.2l-1.1-0.2l-0.8 0.2l-1.1-0.2l-0.8 0.2l-1.1-0.2l-0.8 0.2l-1.1-0.2l-0.8 0.2l-1.1-0.2l-0.8 0.2l-1.1-0.2l-0.8 0.2l-1.1-0.2l-0.8 0.2l-1.1-0.2l-0.8 0.2l-1.1-0.2l-0.8 0.2l-1.1-0.2l-0.8 0.2l-1.1-0.2l-0.8 0.2l-1.1-0.2l-0.8 0.2l-1.1-0.2l-0.8 0.2l-1.1-0.2l-0.8 0.2l-1.1-0.2l-0.8 0.2l-1.1-0.2l-0.8 0.2l-1.1-0.2l-0.8 0.2l-1.1-0.2l-0.8 0.2l-1.1-0.2l-0.8 0.2l-1.1-0.2l-0.8 0.2l-1.1-0.2l-0.8 0.2l-1.1-0.2l-0.8 0.2l-1.1-0.2l-0.8 0.2l-1.2-0.2l-0.7 0.2l-1.2-0.2l-0.7 0.2l-1.2-0.2l-0.7 0.2l-1.2-0.2l-0.7 0.2l-1.2-0.2l-0.7 0.2l-1.2-0.2l-0.7 0.2l-1.2-0.2l-0.7 0.2l-1.2-0.2l-0.7 0.2l-1.2-0.2l-0.7 0.2l-1.2-0.2l-0.7 0.2l-1.2-0.2l-0.7 0.2l-1.2-0.2l-0.7 0.2l-1.2-0.2l-0.7 0.2l-1.2-0.2l-0.7 0.2l-1.2-0.2l-0.7 0.2l-1.2-0.2l-0.7 0.2l-1.2-0.2l-0.7 0.2l-1.2-0.2l-0.7 0.2l-1.2-0.2l-0.7 0.2l-1.2-0.2l-0.7 0.2l-1.2-0.2l-0.7 0.2l-1.2-0.2l-0.7 0.2l-1.2-0.2l-0.7 0.2l-1.2-0.2l-0.7 0.2l-1.2-0.2l-0.7 0.2l-1.2-0.2l-0.7 0.2l-1.2-0.2l-0.7 0.2l-1.2-0.2l-0.7 0.2l-1.2-0.2l-0.7 0.2l-1.2-0.2l-0.7 0.2l-1.2-0.2l-0.7 0.2l-1.2-0.2l-0.7 0.2l-1.2-0.2l-0.7 0.2l-1.2-0.2l-0.7 0.2l-1.2-0.2l-0.7 0.2l-1.2-0.2l-0.7 0.2l-1.2-0.2l-0.8 0.2l-1.1-0.2l-0.8 0.2l-1.1-0.2l-0.8 0.2l-1.1-0.2l-0.8 0.2l-1.1-0.2l-0.8 0.2l-1.1-0.2l-0.8 0.2l-1.1-0.2l-0.8 0.2l-1.1-0.2l-0.8 0.2l-1.1-0.2l-0.8 0.2l-1.1-0.2l-0.8 0.2l-1.1-0.2l-0.8 0.2l-1.1-0.2l-0.8 0.2l-1.1-0.2l-0.8 0.2l-1.1-0.2l-0.8 0.2l-1.1-0.2l-0.8 0.2l-1.1-0.2l-0.8 0.2l-1.1-0.2l-0.8 0.2l-1.1-0.2l-0.8 0.2l-1.1-0.2l-0.8 0.2l-1.1-0.2l-0.8 0.2l-1.1-0.2l-0.8 0.2l-1.1-0.2l-0.8 0.2l-1.1-0.2l-0.8 0.2l-1.1-0.2l-0.8 0.2l-1.1-0.2l-0.8 0.2l-1.1-0.2l-0.8 0.2l-1.1-0.2l-0.8 0.2l-1.1-0.2l-0.8 0.2l-1.1-0.2l-0.8 0.2l-1.1-0.2l-0.7 0.2l-0.3-1l-1.2-1.2l-1.7-0.5l-0.9 0.3l-1-0.3l-0.6 0.2l-0.2-0.5l0.2-0.7l0.4-0.1l1.2-1.3l0.3-0.9l0.6 0.1l1.7-0.4l1.2-1.2l0.3-1.1l0.4-0.1l1.2-1.3l0.3-0.9l0.7 0.1l1.6-0.4l1.2-1.2l0.3-1l0.7 0.2l1.6-0.4l1.2-1.3l0.5-1.6l-0.4-1.2l0.4-1.3l-0.4-1.2l0.4-1.2l-0.4-1.2l0.4-1.3l-0.4-1.2l0.4-1.2l-0.4-1.2l0.4-1.3l-0.4-1.2l0.4-1.2l-0.4-1.2l0.4-1.3l-0.4-1.2l0.4-1.2l-0.5-1.7l-1.2-1.2l-0.4-0.1l-0.3-1.1l-1.2-1.2l-0.4-0.1l-0.3-1.2l-1.2-1.2l-0.4-0.1l-0.3-1.1l-1.2-1.2l-0.4-0.1l-0.3-1.2l-1.2-1.2l-0.4-0.1l-0.3-1.1l-1.2-1.2l-1.7-0.5l-0.6 0.2l-0.3-1l-1.2-1.2l-1.7-0.4l-0.9 0.3l-1-0.3l-0.6 0.2l-0.3-1l-1.2-1.2l-1.7-0.5l-0.6 0.2l-0.3-1l-1.2-1.2l-1.7-0.4l-0.9 0.3l-1-0.3l-0.6 0.2l-0.3-1l-1.2-1.2l-1.7-0.4l-0.6 0.1l-0.3-1l-1.2-1.2l-1.7-0.4l-0.9 0.3l-1-0.3l-0.7 0.2l-0.2-1l-1.2-1.2l-1.7-0.5l-0.9 0.3l-1-0.3l-0.7 0.2l-0.2-1l-1.2-1.2l-1.7-0.4l-0.9 0.3l-1-0.3l-0.7 0.2l-0.2-1l-1.2-1.2l-1.7-0.5l-0.9 0.3l-1-0.3l-0.7 0.2l-0.2-1l-1.2-1.2l-1.7-0.4l-0.9 0.3l-1-0.3l-0.7 0.2l-0.2-1l-1.2-1.2l-1.7-0.5l-0.9 0.3l-1-0.3l-0.9 0.3l-1-0.3l-0.7 0.2l-0.2-1l-1.2-1.2l-1.7-0.4l-0.9 0.3l-1-0.3l-1 0.3l-0.9-0.3l-0.7 0.2l-0.2-1l-1.3-1.2l-1.6-0.5l-1 0.3l-0.9-0.3l-1 0.3l-0.9-0.3l-0.7 0.2l-0.3-1l-1.2-1.2l-1.6-0.4l-1 0.3l-0.9-0.3l-1 0.3l-0.9-0.3l-0.7 0.2l-0.3-1l-1.2-1.2l-1.6-0.5l-1 0.3l-0.9-0.3l-1 0.3l-0.9-0.3l-1 0.3l-0.9-0.3l-0.7 0.2l-0.3-1l-1.2-1.2l-1.6-0.4l-1 0.3l-0.9-0.3l-1 0.3l-0.9-0.3l-1 0.3l-0.9-0.3l-0.7 0.2l-0.3-1l-1.2-1.2l-1.6-0.5l-1 0.3l-0.9-0.3l-1 0.3l-0.9-0.3l-1 0.3l-0.9-0.3l-0.7 0.2l-0.3-1l-1.2-1.2l-1.6-0.4l-1 0.3l-0.9-0.3l-1 0.3l-0.9-0.3l-1 0.3l-0.9-0.3l-0.7 0.2l-0.3-1l-1.2-1.2l-1.6-0.5l-1 0.3l-0.9-0.3l-1 0.3l-0.9-0.3l-1 0.3l-1-0.3l-0.9 0.3l-1-0.3l-0.9 0.3l-1-0.3l-0.9 0.3l-1-0.3l-1.6 0.5l-1.2 1.2l-0.3 1l-0.7-0.2l-1.6 0.4l-1.2 1.2l-0.3 1.2l-0.4 0.1l-1.2 1.2l-0.3 1.1l-0.4 0.1l-1.2 1.2l-0.3 1.2l-0.4 0.1l-1.2 1.2l-0.5 1.6l0.4 1.3l-0.4 1.2l0.5 1.6l1.2 1.3l0.4 0.1l0.2 0.7l-0.4 1.2l0.5 1.6l1.2 1.3l0.4 0.1l0.2 0.7l-0.2 0.7l-0.4 0.1l-1.2 1.2l-0.3 1l-0.7-0.2l-1.6 0.4l-1.2 1.2l-0.3 1.2l-0.4 0.1l-1.2 1.2l-0.3 1l-0.7-0.2l-1.6 0.4l-1.2 1.2l-0.3 1.2l-0.4 0.1l-1.2 1.2l-0.3 1l-0.7-0.2l-0.9 0.3l-1-0.3l-0.9 0.3l-1-0.3l-1.6 0.4l-1.2 1.2l-0.3 1l-0.7-0.2l-0.9 0.3l-1-0.3l-0.9 0.3l-1-0.3l-0.9 0.3l-1-0.3l-0.9 0.3l-1-0.3l-1.6 0.5l-1.2 1.2l-0.3 0.9l-0.7-0.1l-0.9 0.3l-1-0.3l-0.9 0.3l-1-0.3l-0.9 0.3l-1-0.3l-0.9 0.3l-1-0.3l-0.9 0.3l-1-0.3l-1.6 0.4l-1.3 1.2l-0.3 1.2l-0.3 0.1l-1.3 1.2l-0.3 1.1l-0.3 0.1l-1.3 1.2l-0.3 1.2l-0.4 0.1l-1.2 1.2l-0.4 1.6l0.3 1.3l-0.3 1.2l0.3 1.2l-0.3 1.2l0.3 1.3l-0.3 1.2l0.3 1.2l-0.3 1.2l0.3 1.3l-0.3 1.2l0.3 1.2l-0.3 1.2l0.3 1.3l-0.3 1.2l0.3 1.2l-0.3 1.2l0.3 1.3l-0.3 1.2l0.3 1.2l-0.3 1.2l0.3 1.3l-0.3 1.2l0.3 1.2l-0.3 1.2l0.3 1.3l-0.3 1.2l0.3 1.2l-0.3 1.2l0.3 1.3l-0.3 1.2l0.3 1.2l-0.3 1.2l0.3 1.3l-0.3 1.2l0.3 1.2l-0.3 1.2l0.3 1.3l-0.3 1.2l0.3 1.2l-0.3 1.2l0.3 1.3l-0.3 1.2l0.3 1.2l-0.3 1.2l0.3 1.3l-0.3 1.2l0.3 1.2l-0.3 1.2l0.3 1.3l-0.3 1.2l0.3 1.2l-0.3 1.2l0.3 1.3l-0.3 1.2l0.3 1.2l-0.3 1.2l0.3 1.3l-0.3 1.2l0.3 1.2l-0.3 1.2l0.3 1.3l-0.3 1.2l0.3 1.2l-0.3 1.2l0.3 1.3l-0.3 1.2l0.3 1.2l-0.3 1.2l0.3 1.3l-0.3 1.2l0.3 1.2l-0.3 1.2l0.3 1.3l-0.3 1.2l0.3 1.2l-0.3 1.2l0.3 1.3l-0.3 1.2l0.3 1.2l-0.3 1.2l0.3 1.3l-0.3 1.2l0.3 1.2l-0.3 1.2l0.3 1.3l-0.3 1.2l0.3 1.2l-0.3 1.2l0.3 1.3l-0.3 1.2l0.3 1.2l-0.3 1.2l0.4 1.7l1.2 1.2l0.4 0.1l0.2 0.7l-0.3 1.2l0.4 1.7l1.3 1.2l0.3 0.1l0.3 1.1l1.3 1.3l1.6 0.4l1-0.3l0.9 0.3l1-0.3l0.9 0.3l0.7-0.2l0.3 1l1.2 1.2l1.6 0.4l1-0.2l0.9 0.2l1.7-0.4l1.2-1.2l0.2-1l0.7 0.2l1-0.3l0.9 0.3l1-0.3l0.9 0.3l1-0.3l0.9 0.3l1-0.3l0.9 0.3l0.7-0.2l0.3 1l1.2 1.2l1.6 0.4l1-0.2l0.9 0.2l0.7-0.1l0.3 0.9l1.2 1.3l1.6 0.4l0.7-0.2l0.3 1l1.2 1.2l1.6 0.4l0.7-0.1l0.3 0.9l1.2 1.3l1.6 0.4l0.7-0.2l0.3 1l1.2 1.2l0.4 0.1l0.3 1.1l1.2 1.3l1.6 0.4l0.7-0.2l0.3 1l1.2 1.2l0.4 0.1l0.3 1.1l1.2 1.3l0.4 0.1l0.2 0.7l-0.2 0.5l-0.7-0.2l-1.6 0.5l-1.2 1.2l-0.3 1l-0.7-0.2l-0.9 0.3l-1-0.3l-1.6 0.4l-1.2 1.2l-0.5 1.7l0.5 1.6l1.2 1.3l0.4 0.1l0.3 1.1l1.2 1.2l0.4 0.1l0.3 1.1l1.2 1.3l0.4 0.1l0.3 1.1l1.2 1.2l0.4 0.1l0.3 1.1l1.2 1.3l0.4 0.1l0.3 1.1l1.2 1.2l1.6 0.4l0.7-0.1l0.3 0.9l1.2 1.3l1.6 0.4l1.7-0.4l1.2-1.3l0.3-0.9l0.6 0.1l1-0.2l1 0.2l0.9-0.2l1 0.2l1.6-0.4l1.2-1.2l0.3-1l0.7 0.2l0.9-0.3l1 0.3l0.9-0.3l1 0.3l0.9-0.3l1 0.3l0.9-0.3l1 0.3l1.6-0.4l1.2-1.3l0.3-0.9l0.7 0.1l0.9-0.2l1 0.2l0.9-0.2l1 0.2l0.9-0.2l1 0.2l0.9-0.2l1 0.2l1.6-0.4l1.2-1.2l0.3-1l0.7 0.2l0.9-0.3l1 0.3l0.9-0.3l1 0.3l0.9-0.3l1 0.3l0.9-0.3l1 0.3l1.6-0.4l1.2-1.3l0.3-0.9l0.7 0.1l0.9-0.2l1 0.2l0.9-0.2l1 0.2l0.9-0.2l1 0.2l1.6-0.4l1.2-1.2l0.3-1l0.7 0.2l0.9-0.3l1 0.3l0.9-0.3l1 0.3l0.9-0.3l1 0.3l1.6-0.4l1.3-1.3l0.2-0.9l0.7 0.1l0.9-0.2l1 0.2l0.9-0.2l1 0.2l1-0.2l0.9 0.2l1.7-0.4l1.2-1.2l0.2-1l0.7 0.2l1-0.3l0.9 0.3l1-0.3l0.9 0.3l1.7-0.4l1.2-1.3l0.2-0.9l0.7 0.1l1-0.2l0.9 0.2l1-0.2l0.9 0.2l1.7-0.4l1.2-1.2l0.2-1l0.7 0.2l1-0.3l0.9 0.3l1.7-0.4l1.2-1.3l0.2-0.9l0.7 0.1l1-0.2l0.9 0.2l1.7-0.4l1.2-1.2l0.2-1l0.7 0.2l1-0.3l0.9 0.3l1-0.3l0.9 0.3l1.7-0.4l1.2-1.3l0.3-0.9l0.6 0.1l1.7-0.4l1.2-1.2l0.3-1l0.6 0.2l1.7-0.4l1.2-1.3l0.3-0.9l0.6 0.1l1.7-0.4l1.2-1.2l0.3-1l0.6 0.2l1.7-0.4l1.2-1.3l0.3-0.9l0.6 0.1l1-0.2l0.9 0.2l1.7-0.4l1.2-1.2l0.3-1.1l0.4-0.1l1.2-1.3l0.3-0.9l0.6 0.1l1.7-0.4l1.2-1.2l0.3-1.1l0.4-0.1l1.2-1.3l0.3-0.9l0.7 0.1l1.6-0.4l1.2-1.2l0.3-1.1l0.4-0.1l1.2-1.3l0.5-1.6l-0.4-1.2l0.4-1.3l-0.4-1.2l0.4-1.2l-0.4-1.2l0.4-1.3l-0.4-1.2l0.4-1.2l-0.4-1.2l0.4-1.3l-0.4-1.2l0.4-1.2l-0.4-1.2l0.4-1.3l-0.4-1.2l0.4-1.2l-0.4-1.2l0.4-1.3l-0.5-1.6l-1.2-1.2l-0.4-0.1l-0.3-1.2l-1.2-1.2l-0.4-0.1l-0.3-1.1l-1.2-1.2l-1.6-0.4l-0.7 0.1l-0.3-1l-1.2-1.2l-1.7-0.4l-0.6 0.2l-0.3-1l-1.2-1.2l-0.4-0.1l-0.3-1.2l-0.8-0.8l0.8-0.8l0.3-0.9l0.6 0.1l1-0.2l0.9 0.2l1-0.2l1 0.2l0.9-0.2l1 0.2l0.9-0.2l1 0.2l0.9-0.2l1 0.2l0.9-0.2l1 0.2l0.9-0.2l1 0.2l0.9-0.2l1 0.2l0.9-0.2l1 0.2l0.9-0.2l1 0.2l0.9-0.2l1 0.2l0.9-0.2l1 0.2l0.9-0.2l1 0.2l0.9-0.2l1 0.2l0.9-0.2l1 0.2l0.9-0.2l1 0.2l0.9-0.2l1 0.2l0.9-0.2l1 0.2l0.9-0.2l1 0.2l0.9-0.2l1 0.2l0.9-0.2l1 0.2l0.9-0.2l1 0.2l0.9-0.2l1 0.2l0.9-0.2l1 0.2l0.9-0.2l1 0.2l0.9-0.2l1 0.2l0.9-0.2l1 0.2l0.9-0.2l1 0.2l0.9-0.2l1 0.2l0.9-0.2l1 0.2l0.9-0.2l1 0.2l0.9-0.2l1 0.2l0.9-0.2l1 0.2l0.9-0.2l1 0.2l1-0.2l0.9 0.2l1-0.2l0.9 0.2l1-0.2l0.9 0.2l1-0.2l0.9 0.2l1-0.2l0.9 0.2l1-0.2l0.9 0.2l1-0.2l0.9 0.2l1-0.2l0.9 0.2l1-0.2l0.9 0.2l1-0.2l0.9 0.2l1-0.2l0.9 0.2l1-0.2l0.9 0.2l1-0.2l0.9 0.2l1-0.2l0.9 0.2l1-0.2l0.9 0.2l1-0.2l0.9 0.2l1-0.2l0.9 0.2l1-0.2l0.9 0.2l1-0.2l0.9 0.2l1-0.2l0.9 0.2l1-0.2l0.9 0.2l1-0.2l0.9 0.2l1-0.2l0.9 0.2l1-0.2l0.9 0.2l1-0.2l0.9 0.2l1-0.2l0.9 0.2l1-0.2l0.9 0.2l1-0.2l0.9 0.2l1-0.2l0.9 0.2l1-0.2l0.9 0.2l1-0.2l0.9 0.2l1-0.2l0.9 0.2l1-0.2l0.9 0.2l1-0.2l1 0.2l0.9-0.2l1 0.2l0.9-0.2l1 0.2l0.9-0.2l1 0.2l0.9-0.2l1 0.2l0.9-0.2l1 0.2l0.9-0.2l1 0.2l0.9-0.2l1 0.2l0.9-0.2l1 0.2l0.9-0.2l1 0.2l0.9-0.2l1 0.2l0.9-0.2l1 0.2l0.9-0.2l1 0.2l0.9-0.2l1 0.2l0.9-0.2l1 0.2l0.9-0.2l1 0.2l0.9-0.2l1 0.2l0.9-0.2l1 0.2l0.9-0.2l1 0.2l0.9-0.2l1 0.2l0.9-0.2l1 0.2l0.9-0.2l1 0.2l0.9-0.2l1 0.2l0.9-0.2l1 0.2l0.9-0.2l1 0.2l0.9-0.2l1 0.2l0.9-0.2l1 0.2l0.9-0.2l1 0.2l1.6-0.4l1.2-1.2l0.3-1l0.7 0.2l0.9-0.3l1 0.3l1.6-0.4l1.3-1.3l0.3-1.1l0.3-0.1l1.3-1.2l0.3-1.1l0.3-0.1l1.3-1.3l0.2-0.9l0.7 0.1l1-0.2l0.9 0.2l1-0.2l0.9 0.2l1-0.2l0.9 0.2l1-0.2l0.9 0.2l1-0.2l0.9 0.2l1.7-0.4l1.2-1.2l0.2-0.8l0.7 0l1-0.3l0.9 0.3l1-0.3l0.9 0.3l1-0.3l0.9 0.3l1-0.3l0.9 0.3l1-0.3l0.9 0.3l1-0.3l0.9 0.3l1-0.3l0.9 0.3l1.7-0.4z" fill="#ff0000"/>
<path d="M742.7 886.9l-1.3 0.9l-0.6 1.3l-0.8 0.1l-0.8-0.2l-1 0.3l-0.9-0.3l-1 0.3l-0.9-0.3l-1 0.3l-0.9-0.3l-1 0.3l-0.9-0.3l-1 0.3l-0.9-0.3l-1 0.3l-0.9-0.3l-1 0.3l-0.9-0.3l-1 0.3l-0.9-0.3l-1 0.3l-0.9-0.3l-1 0.3l-0.9-0.3l-1 0.3l-0.9-0.3l-1 0.3l-0.9-0.3l-1 0.3l-0.9-0.3l-1 0.3l-0.9-0.3l-1 0.3l-0.9-0.3l-1 0.3l-0.9-0.3l-1 0.3l-0.9-0.3l-1 0.3l-0.9-0.3l-1 0.3l-0.9-0.3l-1 0.3l-1-0.3l-0.9 0.3l-1-0.3l-1.3 0.4l-1.8-0.3l-1 0.2l-0.8 0.5l-0.7 0.7l-0.5 1.1l-1.5-0.2l-1 0.3l-0.9-0.3l-0.9 0.3l-1-0.3l-0.9 0.3l-1-0.3l-0.9 0.3l-1-0.3l-0.9 0.3l-1-0.3l-0.9 0.3l-1-0.3l-0.9 0.3l-1-0.3l-0.9 0.3l-1-0.3l-0.9 0.3l-1-0.3l-0.9 0.3l-1-0.3l-0.9 0.3l-1-0.3l-0.9 0.3l-1-0.3l-0.9 0.3l-1-0.3l-0.9 0.3l-1-0.3l-0.9 0.3l-1-0.3l-0.9 0.3l-1-0.3l-0.9 0.3l-1-0.3l-0.9 0.3l-1-0.3l-0.9 0.3l-1-0.3l-0.9 0.3l-1-0.3l-0.9 0.3l-1-0.3l-0.9 0.3l-1-0.3l-0.9 0.3l-1-0.3l-1.3 0.4l-1.5-0.3l-2.4 0.1l-1 0.3l-1.2 0.9l-0.6 1.2l-1.5-0.1l-1.3 0.2l-0.6-0.2l-1.1 0.2l-0.8-0.2l-1 0.3l-0.9-0.3l-1 0.3l-0.9-0.3l-1 0.3l-0.9-0.3l-1 0.3l-0.9-0.3l-1 0.3l-0.9-0.3l-1 0.3l-0.9-0.3l-1 0.3l-0.9-0.3l-1 0.3l-0.9-0.3l-1 0.3l-0.9-0.3l-1 0.3l-0.9-0.3l-1 0.3l-0.9-0.3l-1 0.3l-0.9-0.3l-1 0.3l-0.9-0.3l-1 0.3l-0.9-0.3l-1 0.3l-0.9-0.3l-1 0.3l-0.9-0.3l-1 0.3l-0.9-0.3l-1.4 0.4l-0.9-0.3l-1 0l-0.9 0.2l-0.9 0.5l-0.6 0.7l-0.5 1.1l-0.3 0l-1.1-0.2l-1 0.3l-0.9-0.3l-1 0.3l-0.9-0.3l-1 0.3l-0.9-0.3l-1.7 0.5l-1.2 1.2l-0.3 1.1l-0.4 0.1l-1.2 1.2l-0.4 1.7l0.4 1.6l1.2 1.3l0.4 0.1l0.3 1.1l1.2 1.2l1.7 0.4l0.6-0.1l0.3 0.9l1.2 1.3l1.7 0.4l0.9-0.3l1 0.3l0.9-0.3l1 0.3l0.9-0.3l1 0.3l0.9-0.3l1 0.3l0.9-0.3l1 0.3l0.9-0.3l1 0.3l0.9-0.3l0.6 0.2l0.4 1l0.7 0.7l0.8 0.5l1 0.2l0.8 0l1-0.2l1.4 0.3l0.9-0.2l1 0.2l0.9-0.2l1 0.2l0.9-0.2l1 0.2l0.9-0.2l1 0.2l0.9-0.2l1 0.2l0.9-0.2l1 0.2l0.9-0.2l1 0.2l0.9-0.2l1 0.2l0.9-0.2l1 0.2l0.9-0.2l1 0.2l0.9-0.2l1 0.2l0.9-0.2l1 0.2l0.9-0.2l1 0.2l0.9-0.2l1 0.2l1-0.2l0.9 0.2l1-0.2l0.9 0.2l1-0.2l0.9 0.2l1-0.2l0.9 0.2l0.9-0.2l1 0.2l0.6-0.1l1.3 0.1l1.5 0l0.5 1.1l1.3 1l1.5 0.3l1.4-0.3l1.4 0.4l1-0.3l0.9 0.3l1-0.3l0.9 0.3l1-0.3l0.9 0.3l1-0.3l0.9 0.3l1-0.3l0.9 0.3l1-0.3l0.9 0.3l1-0.3l0.9 0.3l1-0.3l0.9 0.3l1-0.3l0.9 0.3l1-0.3l0.9 0.3l1-0.3l0.9 0.3l1-0.3l0.9 0.3l1-0.3l0.9 0.3l1-0.3l0.9 0.3l1-0.3l0.9 0.3l1-0.3l0.9 0.3l1-0.3l0.9 0.3l1-0.3l0.9 0.3l1-0.3l0.9 0.3l1-0.3l0.9 0.3l1-0.3l0.9 0.3l1-0.3l0.9 0.3l1-0.3l0.9 0.3l1-0.3l1 0.3l0.9-0.3l1 0.3l0.9-0.3l1 0.3l0.9-0.3l1 0.3l0.9-0.3l1 0.3l0.8-0.2l1.1 0.2l1.4-0.1l0.5 1.1l0.7 0.7l0.9 0.5l0.9 0.1l1.8-0.2l1.4 0.3l0.9-0.2l1 0.2l0.9-0.2l1 0.2l0.9-0.2l1 0.2l0.9-0.2l1 0.2l0.9-0.2l1 0.2l0.9-0.2l1 0.2l0.9-0.2l1 0.2l0.9-0.2l1 0.2l0.9-0.2l1 0.2l0.9-0.2l1 0.2l0.9-0.2l1 0.2l0.9-0.2l1 0.2l0.9-0.2l1 0.2l0.9-0.2l1 0.2l0.9-0.2l1 0.2l0.9-0.2l1 0.2l0.9-0.2l1 0.2l0.7 0l0.2 0.8l1.2 1.3l1.7 0.4l0.9-0.3l1 0.3l0.9-0.3l1 0.3l0.9-0.3l1 0.3l0.9-0.3l1 0.3l1-0.3l0.9 0.3l1-0.3l0.9 0.3l1-0.3l0.9 0.3l1-0.3l0.9 0.3l1-0.3l0.9 0.3l1-0.3l0.9 0.3l0.7-0.2l0.3 1l1.2 1.2l1.6 0.4l1-0.2l0.9 0.2l1-0.2l0.9 0.2l1-0.2l0.9 0.2l1-0.2l0.9 0.2l1-0.2l0.9 0.2l1-0.2l0.9 0.2l1-0.2l0.9 0.2l1-0.2l0.9 0.2l0.7-0.1l0.3 0.9l1.2 1.3l1.6 0.4l1-0.3l0.9 0.3l1-0.3l0.9 0.3l1-0.3l0.9 0.3l1-0.3l0.9 0.3l1-0.3l0.9 0.3l1-0.3l0.9 0.3l0.7-0.2l0.3 1l1.2 1.2l1.6 0.4l1-0.2l0.9 0.2l1-0.2l0.9 0.2l1-0.2l0.9 0.2l1-0.2l0.9 0.2l1-0.2l0.9 0.2l0.7-0.1l0.3 0.9l1.2 1.3l1.6 0.4l1-0.3l1 0.3l0.9-0.3l1 0.3l0.9-0.3l1 0.3l0.6-0.2l0.3 1l1.2 1.2l1.7 0.4l0.9-0.2l1 0.2l0.6-0.1l0.3 0.9l1.2 1.3l1.7 0.4l0.9-0.3l1 0.3l0.9-0.3l1 0.3l0.6-0.2l0.3 1l1.2 1.2l1.7 0.4l0.9-0.2l1 0.2l0.7-0.1l0.2 0.9l1.2 1.3l1.7 0.4l0.7-0.2l0.2 1l1.2 1.2l1.7 0.4l0.7-0.1l0.2 0.9l1.2 1.3l0.6 0.1l0.2 0.9l0.5 0.8l1.5 1.1l1.6 0.3l1.2-0.2l1.1-0.7l1.1-1.5l0.2-1.7l0.3-0.4l0.5-1.6l-0.3-1.2l0.3-1.3l-0.3-1.2l0.3-1.2l-0.3-1.2l0.1-0.7l0.4-0.1l1.2-1.3l0.5-1.6l-0.3-1.2l0.3-1.3l-0.3-1.2l0.3-1.2l-0.3-1.2l0.3-1.3l-0.3-1.2l0.3-1.2l-0.3-1.2l0.1-0.7l0.4-0.1l1.2-1.3l0.5-1.6l-0.3-1.2l0.3-1.3l-0.3-1.2l0.3-1.2l-0.3-1.2l0.3-1.3l-0.3-1.2l0.3-1.2l-0.3-1.2l0.3-1.3l-0.3-1.2l0.3-1.2l-0.3-1.2l0.3-1.3l-0.3-1.2l0.3-1.2l-0.3-1.2l0.3-1.3l-0.3-1.2l0.3-1.2l-0.3-1.2l0.3-1.3l-0.5-1.6l-1.2-1.2l-0.4-0.1l-0.1-0.7l0.3-1.3l-0.3-1.2l0.3-1.2l-0.3-1.2l0.3-1.3l-0.3-1.2l0.3-1.2l-0.3-1.2l0.3-1.3l-0.3-1.2l0.3-1.2l-0.5-1.7l-1.2-1.2l-0.4-0.1l-0.1-0.7l0.3-1.2l-0.3-1.2l0.3-1.3l-0.5-1.6l-1.2-1.2l-0.4-0.1l-0.3-1.2l-1.2-1.2l-1.6-0.4l-1.7 0.4l-1.2 1.2l-0.3 1.2l-0.4 0.1l-1.2 1.2l-0.2 1l-0.7-0.2l-1 0.3l-0.9-0.3l-1.7 0.4l-1.2 1.2l-0.2 1l-0.7-0.2l-1.7 0.5l-1.2 1.2l-0.3 1l-0.6-0.2l-1 0.3l-0.9-0.3l-1.7 0.4l-1.2 1.2l-0.3 1l-0.6-0.2l-1 0.3l-0.9-0.3l-1 0.3l-0.9-0.3l-1.7 0.5l-1.2 1.2l-0.3 1l-0.6-0.2l-1 0.3l-0.9-0.3l-1 0.3l-0.9-0.3l-1.7 0.4l-1.2 1.2l-0.3 1l-0.6-0.1l-1 0.2l-1-0.2l-0.9 0.2l-1-0.2l-0.9 0.2l-1-0.2l-0.9 0.2l-1-0.2l-1.6 0.4l-1.2 1.2l-0.3 1l-0.7-0.2l-0.9 0.3l-1-0.3l-0.9 0.3l-1-0.3l-0.9 0.3l-1-0.3l-0.9 0.3l-1-0.3l-1.6 0.4l-1.2 1.2l-0.3 0.9l-0.2 0.1l-0.5-0.2l-0.9 0.3l-1-0.3l-0.9 0.3l-1-0.3l-0.9 0.3l-1-0.3l-0.9 0.3l-1-0.3l-0.9 0.3l-1-0.3l-0.9 0.3l-1-0.3l-1.6 0.5l-1.2 1.2l-0.4 1l-0.6-0.2l-0.9 0.3l-1-0.3l-0.9 0.3l-1-0.3l-0.9 0.3l-1-0.3l-0.9 0.3l-1-0.3l-0.9 0.3l-1-0.3l-0.9 0.3l-1-0.3l-1.6 0.4l-1.2 1.2l-0.3 1l-0.7-0.2l-0.9 0.3l-1-0.3l-0.9 0.3l-1-0.3l-0.9 0.3l-1-0.3l-0.9 0.3l-1-0.3l-0.9 0.3l-1-0.3l-0.9 0.3l-1-0.3l-1 0.3l-0.9-0.3l-1 0.3l-0.9-0.3l-1 0.3l-0.9-0.3l-1 0.3l-0.9-0.3l-1 0.3l-0.9-0.3l-1 0.3l-0.9-0.3l-1 0.3l-0.9-0.3l-1 0.3l-0.9-0.3l-1 0.3l-0.9-0.3l-1.5 0.5l-1.3-0.3z" fill="#ff0000"/>
<path d="M887.5 825.3l-1.9 0l-1.7 0.4l-1.2 1.2l-0.4 1.7l0.3 1.2l-0.3 1.2l0.3 1.3l-0.2 0.7l-0.4 0.1l-1.2 1.2l-0.4 1.6l0.3 1.3l-0.3 1.2l0.3 1.2l-0.3 1.2l0.3 1.3l-0.2 0.7l-0.4 0.1l-1.2 1.2l-0.4 1.6l0.3 1.3l-0.3 1.2l0.3 1.2l-0.3 1.2l0.3 1.3l-0.3 1.2l0.3 1.2l-0.2 0.7l-0.4 0.1l-1.2 1.2l-0.4 1.7l0.3 1.2l-0.3 1.2l0.3 1.3l-0.3 1.2l0.3 1.2l-0.3 1.2l0.3 1.3l-0.2 0.7l-0.4 0.1l-1.2 1.2l-0.4 1.6l0.3 1.3l-0.3 1.2l0.3 1.2l-0.3 1.2l0.3 1.3l-0.3 1.2l0.3 1.2l-0.3 1.2l0.3 1.3l-0.3 1.2l0.3 1.2l-0.3 1.2l0.3 1.3l-0.3 1.2l0.3 1.2l-0.3 1.2l0.3 1.3l-0.3 1.2l0.3 1.2l-0.3 1.2l0.3 1.3l-0.3 1.2l0.3 1.2l-0.3 1.2l0.3 1.3l-0.3 1.2l0.3 1.2l-0.3 1.2l0.3 1.3l-0.3 1.2l0.3 1.2l-0.3 1.2l0.3 1.3l-0.3 1.2l0.3 1.2l-0.3 1.2l0.3 1.3l-0.3 1.2l0.3 1.2l-0.3 1.2l0.3 1.3l-0.3 1.2l0.3 1.2l-0.3 1.2l0.3 1.3l-0.3 1.2l0.3 1.2l-0.3 1.2l0.4 1.7l1.2 1.2l0.4 0.1l0.2 0.7l-0.3 1.2l0.3 1.3l-0.3 1.2l0.3 1.2l-0.3 1.2l0.3 1.3l-0.3 1.2l0.3 1.2l-0.3 1.2l0.4 1.7l1.2 1.2l0.4 0.1l0.2 0.7l-0.3 1.2l0.3 1.3l-0.3 1.2l0.3 1.2l-0.3 1.2l0.3 1.3l-0.3 1.2l0.4 1.6l1.2 1.3l0.4 0.1l0.2 0.7l-0.3 1.2l0.3 1.2l-0.3 1.2l0.3 1.3l-0.3 1.2l0.3 1.2l-0.3 1.2l0.4 1.7l1.2 1.2l0.4 0.1l0.2 0.7l-0.3 1.2l0.3 1.3l-0.3 1.2l0.4 1.6l1.2 1.3l0.4 0.1l0.2 0.7l-0.3 1.2l0.4 1.6l1.2 1.3l1.7 0.4l1.6-0.4l1.3-1.3l0.4-1.6l-0.3-1.2l0.3-1.3l-0.3-1.2l0.3-1.2l-0.3-1.2l0.3-1.3l-0.3-1.2l0.3-1.2l-0.3-1.2l0.3-1.3l-0.3-1.2l0.3-1.2l-0.3-1.2l0.3-1.3l-0.3-1.2l0.3-1.2l-0.3-1.2l0.3-1.3l-0.3-1.2l0.3-1.2l-0.3-1.2l0.3-1.3l-0.3-1.2l0.3-1.2l-0.3-1.2l0.3-1.3l-0.3-1.2l0.3-1.2l-0.3-1.2l0.3-1.3l-0.3-1.2l0.3-1.2l-0.3-1.2l0.3-1.3l-0.3-1.2l0.3-1.2l-0.3-1.2l0.3-1.3l-0.3-1.2l0.3-1.2l-0.3-1.2l0.3-1.3l-0.3-1.2l0.3-1.2l-0.3-1.2l0.3-1.3l-0.3-1.2l0.3-1.2l-0.3-1.2l0.3-1.3l-0.3-1.2l0.3-1.2l-0.3-1.2l0.3-1.3l-0.3-1.2l0.3-1.2l-0.3-1.2l0.3-1.3l-0.3-1.2l0.3-1.2l-0.3-1.2l0.3-1.3l-0.3-1.2l0.3-1.2l-0.3-1.2l0.3-1.3l-0.3-1.2l0.3-1.2l-0.3-1.2l0.3-1.3l-0.3-1.2l0.3-1.2l-0.3-1.2l0.3-1.3l-0.3-1.2l0.3-1.2l-0.3-1.2l0.3-1.3l-0.3-1.2l0.3-1.2l-0.3-1.2l0.3-1.3l-0.3-1.2l0.3-1.2l-0.3-1.2l0.3-1.3l-0.3-1.2l0.3-1.2l-0.3-1.2l0.3-1.3l-0.3-1.2l0.3-1.2l-0.3-1.2l0.3-1.3l-0.3-1.2l0.3-1.2l-0.3-1.2l0.3-1.3l-0.3-1.2l0.3-1.2l-0.3-1.2l0.3-1.3l-0.3-1.2l0.3-1.2l-0.3-1.2l0.3-1.3l-0.3-1.2l0.3-1.2l-0.3-1.2l0.3-1.3l-0.3-1.2l0.3-1.2l-0.3-1.2l0.3-1.3l-0.3-1.2l0.3-1.2l-0.3-1.2l0.3-1.3l-0.3-1.2l0.3-1.2l-0.3-1.2l0.3-1.3l-0.3-1.2l0.3-1.2l-0.4-1.7l-1.3-1.2z" fill="#ff0000"/>
<path d="M657.7 842.9l-1.2 1.2l-0.3 1l-0.7-0.2l-0.9 0.3l-1-0.3l-1.6 0.4l-1.2 1.2l-0.3 1l-0.7-0.2l-1.6 0.5l-1.2 1.2l-0.3 1l-0.7-0.2l-1.6 0.4l-1.3 1.2l-0.2 1l-0.7-0.2l-1.6 0.5l-1.3 1.2l-0.2 1l-0.7-0.2l-1.6 0.4l-1.3 1.2l-0.2 1l-0.7-0.2l-1 0.3l-0.9-0.3l-1.7 0.5l-1.2 1.2l-0.2 1l-0.7-0.2l-1.7 0.4l-1.2 1.2l-0.2 1l-0.7-0.2l-1 0.3l-0.9-0.3l-1.7 0.5l-1.1 1.2l-0.8-0.3l-1 0l-3 1l-0.9 0.9l-0.6 1.2l-0.1 1.3l0.5 1.2l0.6 0.7l0.8 0.6l2.3 0.6l1.6-0.2l1.5 0.4l0.9-0.3l1 0.3l0.9-0.3l1 0.3l0.9-0.3l1 0.3l0.7-0.2l0.2 1l1.2 1.2l1.7 0.4l0.9-0.2l1 0.2l0.9-0.2l1 0.2l0.7-0.1l0.2 0.9l1.3 1.3l1.6 0.4l1-0.3l0.9 0.3l1-0.3l0.9 0.3l1-0.3l0.9 0.3l1-0.3l0.9 0.3l1-0.3l0.9 0.3l1-0.3l0.9 0.3l1-0.3l0.9 0.3l1-0.3l0.9 0.3l1-0.3l0.9 0.3l1-0.3l0.9 0.3l1-0.3l0.9 0.3l1-0.3l0.9 0.3l1.3-0.2l0.6 1.1l0.7 0.8l0.8 0.4l1.3 0.3l1.6-0.3l1.3 0.3l1-0.2l0.9 0.2l1-0.2l0.9 0.2l1-0.2l0.9 0.2l1-0.2l0.9 0.2l1-0.2l0.9 0.2l1-0.2l0.9 0.2l1-0.2l0.9 0.2l1-0.2l0.9 0.2l1-0.2l0.9 0.2l1-0.2l0.9 0.2l1-0.2l0.9 0.2l1-0.2l0.9 0.2l1-0.2l0.9 0.2l1-0.2l0.9 0.2l1-0.2l0.9 0.2l1-0.2l0.9 0.2l1-0.2l0.9 0.2l1-0.2l1 0.2l0.9-0.2l1 0.2l0.9-0.2l1 0.2l0.9-0.2l1 0.2l0.9-0.2l1 0.2l0.9-0.2l1 0.2l0.9-0.2l1 0.2l0.9-0.2l1 0.2l0.9-0.2l1 0.2l0.9-0.2l1 0.2l0.9-0.2l1 0.2l0.9-0.2l1 0.2l0.9-0.2l1 0.2l0.9-0.2l1 0.2l0.9-0.2l1 0.2l0.9-0.2l1 0.2l0.9-0.2l1 0.2l0.9-0.2l1 0.2l0.9-0.2l1 0.2l0.9-0.2l1 0.2l0.9-0.2l1 0.2l0.9-0.2l1 0.2l0.9-0.2l1 0.2l0.9-0.2l1 0.2l0.9-0.2l1 0.2l0.9-0.2l1 0.2l0.9-0.2l1 0.2l0.9-0.2l1 0.2l1.6-0.4l1.2-1.2l0.3-0.9l0.7 0.1l1-0.2l0.9 0.2l0.9-0.3l1 0.3l0.9-0.3l1 0.3l1-0.3l0.9 0.3l1-0.3l0.9 0.3l1-0.3l0.9 0.3l1-0.3l0.9 0.3l1-0.3l0.9 0.3l1-0.3l0.9 0.3l1-0.3l0.9 0.3l1-0.3l0.9 0.3l1.7-0.4l1.2-1.3l0.2-0.8l0.7 0l1-0.2l0.9 0.2l1-0.2l0.9 0.2l1-0.2l0.9 0.2l1-0.2l0.9 0.2l1-0.2l0.9 0.2l1-0.2l0.9 0.2l1-0.2l0.9 0.2l1-0.2l0.9 0.2l1.7-0.4l1.2-1.2l0.2-1l0.7 0.2l1-0.3l0.9 0.3l1-0.3l0.9 0.3l1-0.3l0.9 0.3l1-0.3l0.9 0.3l1.7-0.4l1.2-1.3l0.3-0.9l0.6 0.1l1-0.2l0.9 0.2l1-0.2l0.9 0.2l1.7-0.4l1.2-1.2l0.3-1l0.6 0.2l1-0.3l0.9 0.3l1-0.3l0.9 0.3l1.7-0.4l1.2-1.3l0.3-0.9l0.7 0.1l0.9-0.2l1 0.2l1.6-0.4l1.2-1.2l0.3-1l0.7 0.2l0.9-0.3l1 0.3l1.6-0.4l1.2-1.3l0.3-0.9l0.7 0.1l0.9-0.2l1 0.2l1.6-0.4l1.2-1.2l0.3-1.1l0.4-0.1l1.2-1.3l0.3-0.9l0.7 0.1l1.6-0.4l1.2-1.2l0.3-1l0.7 0.2l1.6-0.4l1.2-1.3l0.3-1.1l0.4-0.1l1.2-1.2l0.3-1l0.7 0.2l1.6-0.4l1.2-1.3l0.3-1.1l0.4-0.1l1.2-1.2l0.3-1.1l0.4-0.1l1.2-1.3l0.5-1.6l-0.4-1.2l0.4-1.3l-0.4-1.2l0.4-1.2l-0.4-1.2l0.4-1.3l-0.5-1.6l-1.2-1.2l-0.4-0.1l-0.2-0.7l0.4-1.3l-0.4-1.2l0.4-1.2l-0.5-1.7l-1.2-1.2l-0.4-0.1l-0.2-0.7l0.4-1.2l-0.4-1.2l0.4-1.3l-0.4-1.2l0.4-1.2l-0.4-1.2l0.4-1.3l-0.5-1.6l-1.2-1.2l-0.4-0.1l-0.2-0.7l0.4-1.3l-0.5-1.6l-1.2-1.2l-0.4-0.1l-0.2-0.7l0.4-1.3l-0.5-1.6l-1.2-1.2l-0.4-0.1l-0.2-0.7l0.4-1.3l-0.5-1.6l-1.2-1.2l-0.4-0.1l-0.2-0.7l0.4-1.3l-0.5-1.6l-1.2-1.2l-0.4-0.1l-0.3-1.2l-1.2-1.2l-0.4-0.1l-0.2-0.7l0.4-1.2l-0.5-1.7l-1.2-1.2l-0.4-0.1l-0.3-1.1l-1.2-1.2l-0.4-0.1l-0.3-1.2l-1.2-1.2l-0.4-0.1l-0.3-1.1l-1.2-1.2l-0.4-0.1l-0.3-1.2l-1.2-1.2l-1.6-0.4l-0.7 0.2l-0.3-1l-1.2-1.2l-0.4-0.1l-0.3-1.2l-1.2-1.2l-0.4-0.1l-0.3-1.1l-1.2-1.2l-1.6-0.5l-0.7 0.2l-0.3-1l-1.2-1.2l-0.4-0.1l-0.3-1.1l-1.2-1.2l-0.4-0.1l-0.3-1.2l-1.2-1.2l-1.7-0.4l-0.6 0.2l-0.3-1l-1.2-1.2l-1.7-0.5l-0.6 0.2l-0.3-1l-1.2-1.2l-1.7-0.4l-0.6 0.2l-0.3-1l-1.2-1.2l-1.7-0.5l-0.9 0.3l-1-0.3l-0.9 0.3l-1-0.3l-0.6 0.2l-0.3-1l-1.2-1.2l-1.7-0.4l-0.9 0.3l-1-0.3l-0.9 0.3l-1-0.3l-0.9 0.3l-1-0.3l-0.9 0.3l-1-0.3l-1.6 0.4l-1.2 1.2l-0.3 1l-0.7-0.2l-0.9 0.3l-1-0.3l-1.6 0.5l-1.2 1.2l-0.3 1l-0.7-0.2l-1.6 0.4l-1.2 1.2l-0.3 1l-0.7-0.2l-1.6 0.5l-1.2 1.2l-0.3 1.1l-0.4 0.1l-1.2 1.2l-0.3 1.2l-0.4 0.1l-1.2 1.2l-0.3 1l-0.7-0.2l-1.6 0.4l-1.2 1.2l-0.4 1.2l-0.3 0.1l-1.3 1.2l-0.3 1.1l-0.3 0.1l-1.3 1.2l-0.3 1.2l-0.3 0.1l-1.3 1.2l-0.3 1.1l-0.3 0.1l-1.3 1.2l-0.3 1.2l-0.3 0.1l-1.3 1.2l-0.2 1l-0.7-0.2l-1.7 0.4l-1.2 1.2l-0.3 1.2l-0.4 0.1l-1.2 1.2l-0.3 1.1l-0.4 0.1l-1.2 1.2l-0.3 1.2l-0.4 0.1l-1.2 1.2l-0.2 1l-0.7-0.2l-1.7 0.4l-1.2 1.2l-0.2 1l-0.7-0.2l-1.7 0.5l-1.2 1.2l-0.2 1l-0.7-0.2l-1.7 0.4l-1.2 1.2l-0.3 1.2l-0.4 0.1l-1.2 1.2l-0.2 1l-0.7-0.2l-1.7 0.4l-1.2 1.2l-0.2 1l-0.7-0.2l-1.7 0.5l-1.2 1.2l-0.2 1l-0.7-0.2l-1.7 0.4l-1.2 1.2l-0.2 1l-0.7-0.2l-1.7 0.5l-1.2 1.2l-0.3 1l-0.6-0.2l-1.7 0.4l-1.2 1.2l-0.3 1l-0.6-0.2l-1.7 0.5l-1.2 1.2l-0.3 1l-0.6-0.2l-1.7 0.4l-1.2 1.2l-0.3 1l-0.6-0.2l-1.7 0.5l-1.2 1.2l-0.3 1l-0.6-0.2l-1 0.3l-0.9-0.3l-1.7 0.4l-1.2 1.2l-0.3 1l-0.6-0.2l-1.7 0.5l-1.2 1.2l-0.3 1l-0.7-0.2l-1.6 0.4l-1.2 1.2l-0.3 1l-0.7-0.2l-0.9 0.3l-1-0.3l-1.6 0.5l-1.2 1.2l-0.3 1l-0.7-0.2l-1.6 0.4l-1.2 1.2l-0.3 1l-0.7-0.1l-1.6 0.4l-1.2 1.2l-0.3 1l-0.7-0.2l-0.9 0.3l-1-0.3l-1.6 0.4l-1.2 1.2l-0.3 1l-0.7-0.2l-1.6 0.5l-1.2 1.2l-0.3 1l-0.7-0.2l-1.6 0.4l-1.2 1.2l-0.3 1l-0.7-0.2l-0.9 0.3l-1-0.3l-1.6 0.5l-1.2 1.2l-0.3 1l-0.7-0.2l-1.6 0.4l-1.2 1.2l-0.3 1l-0.7-0.2z" fill="#ff0000"/>
<path d="M680.4 926l-0.9 0.3l-0.8 0.6l-0.8 1.4l-1.5-0.1l-1.3 0.2l-0.6-0.2l-1 0.2l-0.9-0.2l-0.9 0.3l-1-0.3l-0.9 0.3l-1-0.3l-0.9 0.3l-1-0.3l-0.9 0.3l-1-0.3l-0.9 0.3l-1-0.3l-0.9 0.3l-1-0.3l-0.9 0.3l-1-0.3l-0.9 0.3l-1-0.3l-0.9 0.3l-1-0.3l-0.9 0.3l-1-0.3l-0.9 0.3l-1-0.3l-0.9 0.3l-1-0.3l-0.9 0.3l-1-0.3l-0.9 0.3l-1-0.3l-0.9 0.3l-1-0.3l-0.9 0.3l-1-0.3l-0.9 0.3l-1-0.3l-0.9 0.3l-1-0.3l-1.6 0.4l-1.3 1.2l-0.2 0.9l-2 0.1l-0.6-0.2l-1 0.3l-0.9-0.3l-1 0.3l-0.9-0.3l-1 0.3l-0.9-0.3l-1 0.3l-0.9-0.3l-1 0.3l-0.9-0.3l-1 0.3l-0.9-0.3l-1 0.3l-0.9-0.3l-1.7 0.5l-1.2 1.2l-0.2 1l-0.7-0.2l-1.7 0.4l-1.2 1.2l-0.4 1.7l0.4 1.6l1.2 1.3l1.7 0.4l0.7-0.2l0.2 1l1.2 1.2l1.7 0.4l0.7-0.1l0.2 0.9l1.2 1.3l1.7 0.4l0.7-0.2l0.2 1l1.2 1.2l1.7 0.4l0.9-0.2l1 0.2l0.7-0.1l0.2 0.9l1.2 1.3l1.7 0.4l0.7-0.2l0.2 1l1.2 1.2l1.7 0.4l0.7-0.1l0.2 0.9l1.3 1.3l1.6 0.4l0.7-0.2l0.2 1l1.3 1.2l1.6 0.4l0.7-0.1l0.3 0.9l1.2 1.3l1.6 0.4l0.7-0.2l0.3 1l1.2 1.2l1.6 0.4l0.7-0.1l0.3 0.9l1.2 1.3l1.6 0.4l1-0.3l0.9 0.3l0.7-0.2l0.3 1l1.2 1.2l1.6 0.4l0.7-0.1l0.3 0.9l1.2 1.3l1.6 0.4l1-0.3l0.9 0.3l0.7-0.2l0.3 1l1.2 1.2l1.6 0.4l1-0.2l0.9 0.2l0.7-0.1l0.3 0.9l1.2 1.3l1.6 0.4l0.7-0.2l0.3 1l1.2 1.2l1.6 0.4l1-0.2l0.9 0.2l0.7-0.1l0.3 0.9l1.2 1.3l1.6 0.4l0.7-0.2l0.3 1l1.2 1.2l1.6 0.4l1-0.2l0.9 0.2l0.7-0.1l0.3 0.9l1.2 1.3l1.6 0.4l0.7-0.2l0.3 1l1.2 1.2l1.6 0.4l1-0.2l0.9 0.2l0.7-0.1l0.3 0.9l1.2 1.3l1.7 0.4l0.6-0.2l0.3 1l1.2 1.2l1.7 0.4l0.9-0.2l1 0.2l0.6-0.1l0.3 0.9l1.2 1.3l1.7 0.4l0.6-0.2l0.3 1l1.2 1.2l1.7 0.4l0.6-0.1l0.3 0.9l1.2 1.3l1.7 0.4l0.6-0.2l0.3 1l1.2 1.2l1.7 0.4l0.7-0.1l0.2 0.9l1.2 1.3l0.4 0.1l0.3 1.1l1.2 1.2l1.7 0.4l0.7-0.1l0.2 0.9l1.2 1.3l1.7 0.4l0.7-0.2l0.2 1l1.2 1.2l1.7 0.4l0.7-0.1l0.2 0.9l1.2 1.3l1.7 0.4l0.7-0.2l0.2 1l1.2 1.2l0.4 0.1l0.3 1.1l1.2 1.3l1.7 0.4l0.7-0.2l0.2 1l1.2 1.2l1.7 0.4l0.7-0.1l0.2 0.9l1.2 1.3l0.4 0.1l0.3 1.1l1.2 1.2l0.4 0.1l0.3 1.1l1.2 1.3l1.7 0.4l0.7-0.2l0.2 1l1.2 1.2l0.4 0.1l0.3 1.2l1.3 1.2l0.3 0.1l0.3 1.1l1.3 1.2l0.3 0.1l0.3 1.1l1.3 1.3l1.6 0.4l0.7-0.2l0.2 1l1.3 1.2l0.3 0.1l0.4 1.2l1.2 1.2l0.3 0.1l0.4 1.1l1.2 1.2l0.3 0.1l0.4 1.1l1.2 1.3l0.4 0.1l0.3 1.1l1.2 1.2l1.6 0.4l0.7-0.1l0.3 1l1.2 1.2l1.6 0.4l0.7-0.2l0.3 1l1.2 1.2l1.6 0.4l0.7-0.1l0.3 1l1.2 1.2l1.6 0.4l1-0.3l0.9 0.3l1-0.3l0.9 0.3l1-0.3l0.9 0.3l1-0.3l0.9 0.3l1-0.3l0.9 0.3l1-0.3l0.9 0.3l1-0.3l0.9 0.3l1.7-0.4l1.2-1.2l0.3-1l0.6 0.1l1-0.2l0.9 0.2l1.7-0.4l1.2-1.2l0.3-1l0.6 0.2l1-0.3l0.9 0.3l1.7-0.4l1.2-1.2l0.3-1l0.6 0.1l1.7-0.4l1.2-1.2l0.3-1.1l0.4-0.1l1.2-1.3l0.3-1.1l0.4-0.1l1.2-1.2l0.3-1l0.7 0.2l1.6-0.4l1.2-1.2l0.3-1.2l0.4-0.1l1.2-1.2l0.3-1.1l0.4-0.1l1.2-1.3l0.3-1.1l0.4-0.1l1.2-1.2l0.3-1.1l0.4-0.1l1.2-1.2l0.3-1.2l0.4-0.1l1.2-1.2l0.3-1.1l0.4-0.1l1.2-1.3l0.3-1.1l0.4-0.1l1.2-1.2l0.3-1.1l0.4-0.1l1.2-1.3l0.3-1.1l0.4-0.1l1.2-1.2l0.3-1.1l0.4-0.1l1.2-1.3l0.3-1.1l0.4-0.1l1.2-1.2l0.5-1.7l-0.4-1.2l0.2-0.7l0.4-0.1l1.2-1.2l0.3-1.1l0.4-0.1l1.2-1.3l0.5-1.6l-0.4-1.2l0.4-1.3l-0.4-1.2l0.2-0.7l0.4-0.1l1.2-1.2l0.5-1.7l-0.4-1.2l0.4-1.2l-0.4-1.2l0.4-1.3l-0.4-1.2l0.4-1.2l-0.4-1.2l0.2-0.7l0.4-0.1l1.2-1.3l0.5-1.6l-0.4-1.2l0.4-1.3l-0.4-1.2l0.2-0.7l0.4-0.1l1.2-1.2l0.5-1.7l-0.4-1.2l0.2-0.7l0.4-0.1l1.2-1.2l0.5-1.7l-0.4-1.2l0.4-1.2l-0.4-1.2l0.4-1.3l-0.4-1.2l0.4-1.2l-0.5-1.7l-1.2-1.2l-1.6-0.4l-0.7 0.2l-0.3-1l-1.2-1.2l-1.6-0.5l-0.7 0.2l-0.3-1l-1.2-1.2l-0.4-0.1l-0.3-1.1l-1.2-1.2l-1.6-0.5l-0.7 0.2l-0.3-1l-1.2-1.2l-1.6-0.4l-0.7 0.2l-0.3-1l-1.2-1.2l-0.4-0.1l-0.3-1.2l-1.2-1.2l-0.4-0.1l-0.3-1.1l-1.2-1.2l-1.6-0.5l-1 0.3l-0.9-0.3l-0.7 0.2l-0.3-1l-1.2-1.2l-1.6-0.4l-1 0.3l-0.9-0.3l-0.7 0.2l-0.3-1l-1.2-1.2l-1.6-0.5l-1 0.3l-1-0.3l-0.9 0.3l-1-0.3l-0.9 0.3l-1-0.3l-0.6 0.2l-0.3-1l-1.2-1.2l-1.7-0.4l-0.9 0.3l-1-0.3l-0.9 0.3l-1-0.3l-0.6 0.2l-0.3-1l-1.2-1.2l-1.7-0.5l-0.9 0.3l-1-0.3l-0.9 0.3l-1-0.3l-0.9 0.3l-1-0.3l-0.6 0.2l-0.3-1l-1.2-1.2l-1.7-0.4l-0.9 0.3l-1-0.3l-0.9 0.3l-1-0.3l-0.9 0.3l-1-0.3l-0.9 0.3l-1-0.3l-0.7 0.2l-0.2-1l-1.2-1.2l-1.7-0.5l-0.9 0.3l-1-0.3l-0.9 0.3l-1-0.3l-0.9 0.3l-1-0.3l-0.9 0.3l-1-0.3l-0.9 0.3l-1-0.3l-0.9 0.3l-1-0.3l-0.9 0.3l-1-0.3l-0.9 0.3l-0.7-0.2l-0.4-0.9l-0.9-0.9l-1.5-0.5l-1.7 0.2l-1.5-0.4l-0.9 0.3l-1-0.3l-0.9 0.3l-1-0.3l-0.9 0.3l-1-0.3l-1 0.3l-0.9-0.3l-1 0.3l-0.9-0.3l-1 0.3l-0.9-0.3l-1 0.3l-0.9-0.3l-1 0.3l-0.9-0.3l-1 0.3l-0.9-0.3l-1 0.3l-0.9-0.3l-1 0.3l-0.9-0.3l-1 0.3l-0.9-0.3l-1 0.3l-0.9-0.3l-1 0.3l-0.9-0.3l-0.6 0.2l-2-0.2l-0.3-0.8l-1.2-1.2l-1.6-0.4l-1 0.2l-0.9-0.2l-1 0.2l-0.9-0.2l-1 0.2l-0.9-0.2l-1 0.2l-0.9-0.2l-1 0.2l-0.9-0.2l-1 0.2l-0.9-0.2l-1 0.2l-0.9-0.2l-1 0.2l-0.9-0.2l-1 0.2l-0.9-0.2l-1 0.2l-0.9-0.2l-1 0.2l-0.9-0.2l-1 0.2l-0.9-0.2l-1 0.2l-0.9-0.2l-1 0.2l-0.9-0.2l-1 0.2l-0.9-0.2l-1 0.2l-0.9-0.2l-1 0.2l-0.9-0.2l-1 0.2l-0.9-0.2l-1 0.2l-1-0.2l-0.9 0.2l-1-0.2l-0.9 0.2l-1-0.2l-0.9 0.2l-1-0.2l-0.9 0.2l-1-0.2l-0.9 0.2l-1-0.2l-0.9 0.2l-1-0.2l-0.9 0.2l-1-0.2l-0.9 0.2l-1-0.2l-1.3 0.3l-1.1-0.3z" fill="#ff0000"/>
<path d="M868 888.5l0 29l12 0l0-29z" fill="#ff0000"/>
<circle cx="324.6" cy="921.4" r="3.5" fill="#000000"/>
<circle cx="334.5" cy="886.6" r="3" fill="#000000"/>
<circle cx="513.2" cy="894.7" r="3" fill="#000000"/>
<path d="M1123.6 649.2V1152.3M1199.6 649.2V1152.3M1275.7 649.2V1152.3M1351.7 649.2V1152.3M1427.7 649.2V1152.3M1503.7 649.2V1152.3M1579.7 649.2V1152.3M1655.8 649.2V1152.3M1731.8 649.2V1152.3M1047.6 775H1807.8M1047.6 900.8H1807.8M1047.6 1026.5H1807.8" stroke="#dcdcdc" stroke-width="2.2" fill="none"/>
<path d="M1047.6 649.2H1807.8V1152.3H1047.6ZM1123.6 649.2v8.2M1123.6 1152.3v-8.2M1199.6 649.2v8.2M1199.6 1152.3v-8.2M1275.7 649.2v8.2M1275.7 1152.3v-8.2M1351.7 649.2v8.2M1351.7 1152.3v-8.2M1427.7 649.2v8.2M1427.7 1152.3v-8.2M1503.7 649.2v8.2M1503.7 1152.3v-8.2M1579.7 649.2v8.2M1579.7 1152.3v-8.2M1655.8 649.2v8.2M1655.8 1152.3v-8.2M1731.8 649.2v8.2M1731.8 1152.3v-8.2M1047.6 775h8.2M1807.8 775h-8.2M1047.6 900.8h8.2M1807.8 900.8h-8.2M1047.6 1026.5h8.2M1807.8 1026.5h-8.2" stroke="#262626" stroke-width="2.2" fill="none"/>
<circle cx="1052.6" cy="883.4" r="3.3" fill="#000000"/>
<circle cx="1063" cy="888.9" r="3.3" fill="#000000"/>
<circle cx="1070.2" cy="886" r="3.3" fill="#000000"/>
<circle cx="1092.2" cy="887.6" r="3.3" fill="#000000"/>
<circle cx="1047.1" cy="915.7" r="3.3" fill="#000000"/>
<path d="M1492 885.5l-1.4 0.9l-0.7 1.4l-1.4-0.1l-0.9 0.2l-1-0.2l-0.9 0.2l-1-0.2l-0.9 0.2l-1-0.2l-0.9 0.2l-1-0.2l-0.9 0.2l-1-0.2l-0.9 0.2l-1-0.2l-0.9 0.2l-1-0.2l-0.9 0.2l-1-0.2l-0.9 0.2l-1-0.2l-0.9 0.2l-1-0.2l-0.9 0.2l-1-0.2l-0.9 0.2l-1-0.2l-0.9 0.2l-1-0.2l-0.9 0.2l-1-0.2l-0.9 0.2l-1-0.2l-1.6 0.4l-1.2 1.2l-0.3 0.8l-1.8 0.2l-0.8-0.2l-0.9 0.3l-1-0.3l-0.9 0.3l-1-0.3l-0.9 0.3l-1-0.3l-0.9 0.3l-1-0.3l-0.9 0.3l-1-0.3l-0.9 0.3l-1-0.3l-0.9 0.3l-1-0.3l-0.9 0.3l-1-0.3l-0.9 0.3l-1-0.3l-0.9 0.3l-1-0.3l-1.6 0.4l-1.3 1.3l-0.2 0.8l-1.8 0.2l-0.8-0.2l-0.9 0.2l-1-0.2l-1 0.2l-0.9-0.2l-1 0.2l-0.9-0.2l-1 0.2l-0.9-0.2l-1 0.2l-0.9-0.2l-1 0.2l-0.9-0.2l-1 0.2l-0.9-0.2l-1 0.2l-0.9-0.2l-1.7 0.4l-1.2 1.2l-0.2 1l-0.7-0.2l-1 0.3l-0.9-0.3l-1 0.3l-0.9-0.3l-1 0.3l-0.9-0.3l-1 0.3l-0.9-0.3l-1.7 0.4l-1.2 1.2l-0.2 1l-0.7-0.1l-1 0.2l-0.9-0.2l-1 0.2l-0.9-0.2l-1.7 0.4l-1.2 1.2l-0.1-1l-7.5 2.4l-0.2 0.3l0.2 0.3l7.5 2.5l0.2-1.2l1.1 1.2l1.7 0.4l0.9-0.2l1 0.2l0.7-0.1l0.2 1l1.2 1.2l1.7 0.4l0.9-0.3l1 0.3l0.9-0.3l1 0.3l0.9-0.3l1 0.3l0.9-0.3l1 0.3l0.7-0.2l0.2 1l1.2 1.2l1.7 0.4l0.9-0.2l1 0.2l0.9-0.2l1 0.2l0.9-0.2l1 0.2l0.9-0.2l1 0.2l0.9-0.2l1 0.2l0.9-0.2l1 0.2l0.9-0.2l1 0.2l0.9-0.2l1 0.2l0.7-0.1l0.2 1l1.3 1.2l1.6 0.4l1-0.3l0.9 0.3l1-0.3l0.9 0.3l1-0.3l0.9 0.3l1-0.3l0.9 0.3l1-0.3l0.9 0.3l1-0.3l0.9 0.3l1-0.3l0.9 0.3l1-0.3l0.9 0.3l1-0.3l0.9 0.3l1-0.3l0.9 0.3l1-0.3l0.9 0.3l1-0.3l0.9 0.3l1-0.3l0.9 0.3l0.7-0.2l1.9 0.1l0.3 0.9l1.2 1.2l1.6 0.4l1-0.2l0.9 0.2l1-0.2l0.9 0.2l1-0.2l0.9 0.2l1-0.2l0.9 0.2l1-0.2l0.9 0.2l1-0.2l0.9 0.2l1-0.2l0.9 0.2l1-0.2l0.9 0.2l1-0.2l0.9 0.2l1-0.2l0.9 0.2l1-0.2l0.9 0.2l1-0.2l0.9 0.2l1-0.2l0.9 0.2l1-0.2l0.9 0.2l1-0.2l0.9 0.2l1-0.2l0.9 0.2l1-0.2l0.6 0.2l0.4 0.9l0.7 0.7l0.8 0.5l1 0.2l1.6-0.2l1.5 0.4l1-0.3l0.9 0.3l1-0.3l0.9 0.3l1-0.3l0.9 0.3l1-0.3l0.9 0.3l1-0.3l0.9 0.3l1-0.3l0.9 0.3l1-0.3l0.9 0.3l1-0.3l0.9 0.3l1-0.3l0.9 0.3l1-0.3l0.9 0.3l0.7-0.2l0.3 1l1.2 1.2l1.6 0.5l1-0.3l0.9 0.3l1-0.3l0.9 0.3l1-0.3l0.9 0.3l1-0.3l0.9 0.3l0.6-0.2l0.4 0.9l1.2 1.3l1.6 0.4l1-0.3l0.9 0.3l1-0.3l0.9 0.3l1-0.3l0.9 0.3l0.7-0.2l0.3 1l1.2 1.2l1.6 0.4l1-0.2l0.9 0.2l1-0.2l0.9 0.2l1-0.2l0.9 0.2l1-0.2l0.9 0.2l1-0.2l0.9 0.2l0.7-0.1l0.3 0.9l1.2 1.3l1.6 0.4l1-0.3l0.9 0.3l1-0.3l0.9 0.3l1-0.3l0.9 0.3l1-0.3l0.9 0.3l1-0.3l0.9 0.3l1-0.3l0.9 0.3l0.7-0.1l0.3 0.9l1.2 1.2l1.6 0.4l1-0.2l0.9 0.2l1-0.2l0.9 0.2l1-0.2l0.9 0.2l1-0.2l0.9 0.2l1-0.2l0.9 0.2l1-0.2l0.9 0.2l0.7-0.1l0.3 1l1.2 1.2l1.6 0.4l1-0.3l0.9 0.3l1-0.3l0.9 0.3l1-0.3l0.9 0.3l0.7-0.2l0.3 1l1.2 1.2l1.6 0.4l1-0.2l0.9 0.2l1-0.2l0.9 0.2l1-0.2l0.9 0.2l1-0.2l0.9 0.2l0.7-0.1l0.3 0.9l1.2 1.3l1.6 0.4l1-0.3l0.9 0.3l1-0.3l0.9 0.3l1-0.3l0.9 0.3l1-0.3l0.9 0.3l0.8-0.1l0.2 0.9l1.2 1.2l1.7 0.4l0.6-0.1l0.3 0.9l1.2 1.3l1.7 0.4l0.9-0.3l1 0.3l0.6-0.2l0.3 1l1.2 1.2l1.7 0.4l0.6-0.1l0.3 0.9l1.2 1.3l0.4 0.1l0.3 1.1l1.2 1.2l0.4 0.1l0.3 1.1l1.2 1.3l0.4 0.1l0.3 1.1l1.2 1.2l0.4 0.1l0.3 1.2l1.2 1.2l0.4 0.1l0.3 1.1l1.2 1.2l1.7 0.4l0.9-0.2l1 0.2l0.6-0.1l0.3 1l1.2 1.2l1.7 0.4l0.6-0.2l0.3 1l1.2 1.2l1.7 0.4l0.9-0.2l1 0.2l0.9-0.2l1 0.2l0.6-0.1l0.3 0.9l1.2 1.3l1.7 0.4l0.9-0.3l1 0.3l0.9-0.3l1 0.3l0.6-0.2l0.3 1l1.2 1.2l1.7 0.5l0.9-0.3l1 0.3l0.9-0.3l1 0.3l0.9-0.3l1 0.3l0.6-0.2l0.3 0.9l1.2 1.3l1.7 0.4l0.9-0.3l1 0.3l0.6-0.2l0.3 1l1.2 1.2l1.7 0.4l0.9-0.2l1 0.2l0.9-0.2l1 0.2l0.6-0.1l0.3 0.9l1.2 1.3l1.7 0.4l0.9-0.3l1 0.3l0.9-0.3l1 0.3l0.6-0.2l0.3 1l1.2 1.2l1.7 0.4l0.9-0.2l1 0.2l0.7-0.1l0.2 1l1.2 1.2l1.7 0.4l0.9-0.3l1 0.3l0.7-0.2l0.2 1l1.2 1.2l1.7 0.4l0.9-0.2l1 0.2l0.7-0.1l0.2 0.9l1.2 1.3l1.7 0.4l0.9-0.3l1 0.3l0.9-0.3l1 0.3l0.9-0.3l1 0.3l1.6-0.4l1.2-1.3l0.3-0.9l0.7 0.1l1.6-0.4l1.2-1.2l0.3-1l0.7 0.2l1.6-0.4l1.2-1.2l0.3-1l0.7 0.1l0.9-0.2l1 0.2l1.6-0.4l1.2-1.2l0.3-1l0.7 0.2l0.9-0.3l1 0.3l0.9-0.3l1 0.3l0.9-0.3l1 0.3l0.9-0.3l1 0.3l0.9-0.3l1 0.3l0.9-0.3l1 0.3l0.9-0.3l1 0.3l0.9-0.3l1 0.3l0.9-0.3l1 0.3l0.9-0.3l1 0.3l0.7-0.2l0.2 1l1.2 1.2l1.7 0.4l0.9-0.2l1 0.2l0.9-0.2l1 0.2l0.7-0.1l0.2 1l1.2 1.2l1.7 0.4l0.9-0.3l1 0.3l0.7-0.2l0.2 1l1.2 1.2l1.7 0.4l0.7-0.1l0.2 0.9l1.2 1.3l1.7 0.4l0.7-0.2l0.2 1l1.2 1.2l1.7 0.4l0.7-0.1l0.2 0.9l1.2 1.3l1.7 0.4l0.9-0.3l1 0.3l0.7-0.2l0.2 1l1.2 1.2l1.7 0.4l1.6-0.4l1.3-1.2l0.3-1.1l0.3-0.1l1.3-1.3l0.4-1.6l-0.3-1.2l0.3-1.3l-0.3-1.2l0.3-1.2l-0.3-1.2l0.3-1.3l-0.3-1.2l0.3-1.2l-0.3-1.2l0.3-1.3l-0.4-1.6l-1.3-1.2l-0.3-0.1l-0.3-1.2l-1.3-1.2l-0.3-0.1l-0.2-0.7l0.3-1.2l-0.4-1.7l-1.3-1.2l-0.3-0.1l-0.3-1.1l-1.3-1.2l-0.3-0.1l-0.2-0.7l0.3-1.3l-0.4-1.6l-1.3-1.2l-0.3-0.1l-0.2-0.7l0.3-1.3l-0.3-1.2l0.3-1.2l-0.3-1.2l0.3-1.2l-0.3-1.3l0.3-1.2l-0.3-1.2l0.3-1.2l-0.3-1.3l0.3-1.2l-0.3-1.2l0.3-1.2l-0.3-1.3l0.3-1.2l-0.3-1.2l0.3-1.3l-0.3-1.2l0.3-1.2l-0.3-1.2l0.3-1.3l-0.3-1.2l0.3-1.2l-0.3-1.2l0.3-1.3l-0.3-1.2l0.3-1.2l-0.3-1.2l0.3-1.2l-0.3-1.3l0.3-1.2l-0.3-1.2l0.3-1.2l-0.3-1.3l0.3-1.2l-0.3-1.2l0.3-1.3l-0.3-1.2l0.3-1.2l-0.3-1.2l0.3-1.3l-0.3-1.2l0.3-1.2l-0.3-1.2l0.3-1.2l-0.3-1.3l0.3-1.2l-0.3-1.2l0.3-1.2l-0.3-1.3l0.3-1.2l-0.3-1.2l0.3-1.2l-0.3-1.3l0.3-1.2l-0.3-1.2l0.3-1.3l-0.3-1.2l0.3-1.2l-0.3-1.2l0.3-1.3l-0.3-1.2l0.3-1.2l-0.3-1.2l0.3-1.3l-0.3-1.2l0.3-1.2l-0.3-1.2l0.3-1.2l-0.3-1.3l0.3-1.2l-0.3-1.2l0.3-1.2l-0.3-1.3l0.3-1.2l-0.3-1.2l0.3-1.3l-0.3-1.2l0.3-1.2l-0.3-1.2l0.3-1.3l-0.3-1.2l0.3-1.2l-0.3-1.2l0.3-1.2l-0.3-1.3l0.3-1.2l-0.3-1.2l0.3-1.2l-0.3-1.3l0.3-1.2l-0.3-1.2l0.2-0.7l0.3-0.1l1.3-1.3l0.3-1.1l0.3-0.1l1.3-1.2l0.4-1.7l-0.3-1.2l0.2-0.7l0.3-0.1l1.3-1.2l0.3-1.1l0.3-0.1l1.3-1.2l0.4-1.7l-0.3-1.2l0.2-0.7l0.3-0.1l1.3-1.3l0.4-1.6l-0.3-1.2l0.3-1.2l-0.3-1.3l0.3-1.2l-0.3-1.2l0.3-1.2l-0.3-1.3l0.3-1.2l-0.3-1.2l0.3-1.3l-0.4-1.6l-1.3-1.2l-1.6-0.5l-1 0.3l-0.9-0.3l-1.7 0.5l-1.2 1.2l-0.2 1l-0.7-0.2l-1.7 0.4l-1.2 1.3l-0.2 0.9l-0.7-0.1l-1.7 0.4l-1.2 1.2l-0.2 1l-0.7-0.2l-1 0.3l-0.9-0.3l-1.7 0.4l-1.2 1.2l-0.2 1l-0.7-0.1l-1.7 0.4l-1.2 1.2l-0.2 1l-0.7-0.2l-1.7 0.4l-1.2 1.2l-0.2 1l-0.7-0.1l-1.7 0.4l-1.2 1.2l-0.2 1l-0.7-0.2l-1 0.3l-0.9-0.3l-1 0.3l-0.9-0.3l-1 0.3l-0.9-0.3l-1 0.3l-0.9-0.3l-1 0.3l-0.9-0.3l-1.7 0.4l-1.2 1.3l-0.3 0.9l-0.6-0.1l-1 0.2l-0.9-0.2l-0.7 0.1l-0.3-0.9l-1.2-1.3l-1.6-0.4l-1 0.3l-0.9-0.3l-1 0.3l-0.9-0.3l-0.7 0.2l-0.3-1l-1.2-1.2l-1.6-0.4l-1 0.2l-0.9-0.2l-0.7 0.1l-0.3-1l-1.2-1.2l-1.6-0.4l-1 0.3l-0.9-0.3l-0.7 0.2l-0.3-1l-1.2-1.2l-1.6-0.4l-1 0.2l-0.9-0.2l-1 0.2l-0.9-0.2l-1 0.2l-0.9-0.2l-1 0.2l-0.9-0.2l-1 0.2l-0.9-0.2l-1 0.2l-0.9-0.2l-1 0.2l-0.9-0.2l-1.7 0.4l-1.2 1.2l-0.2 1l-0.7-0.2l-1 0.3l-0.9-0.3l-1 0.3l-0.9-0.3l-1.7 0.4l-1.2 1.2l-0.2 1l-0.7-0.1l-1 0.2l-0.9-0.2l-1.7 0.4l-1.2 1.2l-0.3 1l-0.6-0.2l-1 0.3l-0.9-0.3l-1.7 0.4l-1.2 1.3l-0.3 0.9l-0.6-0.1l-1 0.2l-0.9-0.2l-1.7 0.4l-1.2 1.2l-0.3 1l-0.6-0.2l-1 0.3l-0.9-0.3l-1 0.3l-0.9-0.3l-1.7 0.4l-1.2 1.3l-0.3 0.9l-0.6-0.1l-1 0.2l-0.9-0.2l-1.7 0.4l-1.2 1.2l-0.2 0.9l-0.7-0.1l-1 0.3l-0.9-0.3l-1 0.3l-0.9-0.3l-1 0.3l-0.9-0.3l-1 0.3l-0.9-0.3l-1.7 0.4l-1.2 1.3l-0.3 0.9l-0.6-0.1l-1 0.2l-0.9-0.2l-1 0.2l-0.9-0.2l-1 0.2l-0.9-0.2l-1.7 0.4l-1.2 1.2l-0.3 1l-0.6-0.2l-1.7 0.4l-1.2 1.3l-0.3 0.9l-0.6-0.1l-1 0.2l-0.9-0.2l-1.7 0.4l-1.2 1.2l-0.3 1.1l-0.4 0.1l-1.2 1.2l-0.4 1.7l0.3 1.2l-0.3 1.3l0.3 1.2l-0.2 0.5l-0.6-0.1l-1.7 0.4l-1.2 1.2l-0.3 1l-0.6-0.2l-1 0.3l-0.9-0.3l-1.7 0.4l-1.2 1.3l-0.3 0.9l-0.6-0.2l-1.7 0.5l-1.2 1.2l-0.3 1l-0.6-0.2l-1.7 0.4l-1.2 1.3l-0.3 0.9l-0.6-0.1l-1 0.2l-0.9-0.2l-1.7 0.4l-1.2 1.2l-0.3 1l-0.7-0.2l-0.9 0.3l-1-0.3l-0.9 0.3l-1-0.3l-0.9 0.3l-1-0.3l-0.9 0.3l-1-0.3l-1.6 0.4l-1.2 1.2l-0.3 1l-0.7-0.1l-0.9 0.2l-1-0.2l-0.9 0.2l-1-0.2l-0.9 0.2l-1-0.2l-0.9 0.2l-1-0.2l-1.6 0.4l-1.2 1.2l-0.3 1l-0.7-0.2l-0.9 0.3l-1-0.3l-0.9 0.3l-1-0.3l-1.6 0.4l-1.2 1.2l-0.2 0.9l-1.8 0.2l-0.9-0.2l-0.9 0.2l-1-0.2l-0.9 0.2l-1-0.2l-0.9 0.2l-1-0.2l-0.9 0.2l-1-0.2l-0.9 0.2l-1-0.2l-0.9 0.2l-1-0.2l-0.9 0.2l-1-0.2l-0.9 0.2l-1-0.2l-0.9 0.2l-1-0.2l-0.9 0.2l-1-0.2l-1.6 0.4l-1.2 1.2l-0.3 1l-0.7-0.2l-0.9 0.3l-1-0.3l-0.9 0.3l-1-0.3l-0.9 0.3l-1-0.3l-0.9 0.3l-1-0.3l-0.9 0.3l-1-0.3l-0.9 0.3l-1-0.3l-1.6 0.4l-1.2 1.3l-0.3 0.8l-0.7 0l-0.9 0.2l-1-0.2l-0.9 0.2l-1-0.2l-0.9 0.2l-1-0.2l-1.6 0.4l-1.2 1.2l-0.3 1l-0.7-0.2l-0.9 0.3l-1-0.3l-0.9 0.3l-1-0.3l-1.6 0.4l-1.2 1.3l-0.3 0.9l-0.7-0.1l-0.9 0.2l-1-0.2l-0.9 0.2l-1-0.2l-1.6 0.4l-1.2 1.2l-0.3 1l-0.7-0.2l-0.9 0.3l-1-0.3l-0.9 0.3l-1-0.3l-0.9 0.3l-1-0.3l-0.9 0.3l-1-0.3l-0.9 0.3l-1-0.3l-0.9 0.3l-1-0.3l-0.9 0.3l-1-0.3l-0.9 0.3l-1-0.3l-0.9 0.3l-1-0.3l-0.9 0.3l-1-0.3l-0.9 0.3l-1-0.3l-0.9 0.3l-1-0.3l-1.3 0.4l-1.2-0.3z" fill="#000000"/>
<path d="M1381.3 901.8l0.4 1.6l3.9-2.3l0.2-0.4l-4.1-2.5l-0.3 0.8l-0.1 0.8l-0.2-0.7l-1.2-1.2l-1.6-0.4l-0.7 0.1l-0.3-1l-1.2-1.2l-1.6-0.4l-1 0.3l-0.9-0.3l-1 0.3l-0.9-0.3l-1 0.3l-0.9-0.3l-1 0.3l-0.9-0.3l-1 0.3l-0.9-0.3l-1 0.3l-0.9-0.3l-1 0.3l-0.9-0.3l-1 0.3l-0.9-0.3l-1 0.3l-0.9-0.3l-1 0.3l-0.9-0.3l-1 0.3l-0.9-0.3l-1 0.3l-0.9-0.3l-1 0.3l-0.9-0.3l-1 0.3l-0.9-0.3l-0.7 0.2l-0.3-1l-1.2-1.2l-1.6-0.4l-1 0.2l-0.9-0.2l-1 0.2l-0.9-0.2l-1 0.2l-0.9-0.2l-1 0.2l-0.9-0.2l-1 0.2l-0.9-0.2l-1 0.2l-0.9-0.2l-1 0.2l-0.9-0.2l-1 0.2l-0.9-0.2l-1 0.2l-0.9-0.2l-1 0.2l-0.9-0.2l-1 0.2l-0.9-0.2l-1 0.2l-0.9-0.2l-1 0.2l-0.9-0.2l-1 0.2l-0.9-0.2l-1 0.2l-0.9-0.2l-1 0.2l-0.9-0.2l-1 0.2l-0.9-0.2l-1 0.2l-0.9-0.2l-1 0.2l-0.9-0.2l-1 0.2l-0.9-0.2l-1 0.2l-0.9-0.2l-1 0.2l-0.9-0.2l-1 0.2l-0.9-0.2l-1 0.2l-0.9-0.2l-1 0.2l-0.9-0.2l-1 0.2l-0.9-0.2l-1 0.2l-0.9-0.2l-1 0.2l-0.9-0.2l-1 0.2l-0.9-0.2l-1 0.2l-0.9-0.2l-1 0.2l-0.9-0.2l-1 0.2l-0.9-0.2l-1 0.2l-0.9-0.2l-1 0.2l-0.9-0.2l-1 0.2l-0.9-0.2l-1 0.2l-0.9-0.2l-1 0.2l-0.9-0.2l-1 0.2l-0.9-0.2l-1 0.2l-0.9-0.2l-1 0.2l-0.9-0.2l-1 0.2l-0.9-0.2l-1 0.2l-0.9-0.2l-1 0.2l-0.9-0.2l-1 0.2l-0.9-0.2l-1 0.2l-0.9-0.2l-1 0.2l-0.9-0.2l-1 0.2l-0.9-0.2l-1 0.2l-0.9-0.2l-1 0.2l-0.9-0.2l-1 0.2l-0.9-0.2l-1 0.2l-0.9-0.2l-1 0.2l-0.9-0.2l-1 0.2l-0.9-0.2l-1 0.2l-0.9-0.2l-0.7 0.1l-0.3-0.9l-1.2-1.3l-1.7-0.4l-0.9 0.3l-1-0.3l-0.9 0.3l-1-0.3l-0.9 0.3l-1-0.3l-0.9 0.3l-1-0.3l-0.9 0.3l-1-0.3l-0.9 0.3l-1-0.3l-0.9 0.3l-1-0.3l-0.9 0.3l-1-0.3l-0.9 0.3l-1-0.3l-0.9 0.3l-1-0.3l-0.9 0.3l-1-0.3l-0.9 0.3l-1-0.3l-0.9 0.3l-1-0.3l-0.9 0.3l-1-0.3l-0.9 0.3l-1-0.3l-0.9 0.3l-1-0.3l-0.9 0.3l-1-0.3l-0.9 0.3l-1-0.3l-0.9 0.3l-1-0.3l-0.9 0.3l-1-0.3l-0.9 0.3l-1-0.3l-0.9 0.3l-1-0.3l-0.9 0.3l-1-0.3l-0.9 0.3l-1-0.3l-0.9 0.3l-1-0.3l-0.9 0.3l-1-0.3l-0.9 0.3l-1-0.3l-0.9 0.3l-1-0.3l-0.9 0.3l-1-0.3l-0.9 0.3l-1-0.3l-0.9 0.3l-1-0.3l-0.9 0.3l-1-0.3l-0.9 0.3l-1-0.3l-0.9 0.3l-1-0.3l-0.9 0.3l-1-0.3l-0.9 0.3l-1-0.3l-0.9 0.3l-1-0.3l-0.9 0.3l-1-0.3l-0.9 0.3l-1-0.3l-0.9 0.3l-1-0.3l-0.9 0.3l-1-0.3l-0.9 0.3l-1-0.3l-0.9 0.3l-1-0.3l-0.9 0.3l-1-0.3l-0.9 0.3l-1-0.3l-0.9 0.3l-1-0.3l-0.9 0.3l-1-0.3l-0.9 0.3l-1-0.3l-0.9 0.3l-1-0.3l-0.9 0.3l-1-0.3l-0.9 0.3l-1-0.3l-0.9 0.3l-1-0.3l-0.9 0.3l-1-0.3l-0.9 0.3l-1-0.3l-0.9 0.3l-1-0.3l-0.9 0.3l-1-0.3l-0.9 0.3l-1-0.3l-0.9 0.3l-1-0.3l-0.9 0.3l-1-0.3l-0.9 0.3l-1-0.3l-0.9 0.3l-1-0.3l-0.9 0.3l-1-0.3l-0.9 0.3l-1-0.3l-0.9 0.3l-1-0.3l-0.9 0.3l-1-0.3l-0.9 0.3l-1-0.3l-0.9 0.3l-1-0.3l-0.9 0.3l-1-0.3l-0.9 0.3l-1-0.3l-0.9 0.3l-1-0.3l-0.9 0.3l-1-0.3l-0.9 0.3l-1-0.3l-0.9 0.3l-1-0.3l-0.9 0.3l-1-0.3l-0.9 0.3l-1-0.3l-0.9 0.3l-1-0.3l-0.9 0.3l-1-0.3l-0.9 0.3l-1-0.3l-0.9 0.3l-1-0.3l-0.9 0.3l-1-0.3l-0.9 0.3l-1-0.3l-0.9 0.3l-1-0.3l-0.9 0.3l-1-0.3l-0.9 0.3l-1-0.3l-0.9 0.3l-1-0.3l-0.9 0.3l-1-0.3l-0.9 0.3l-1-0.3l-0.9 0.3l-1-0.3l-0.9 0.3l-1-0.3l-0.9 0.3l-1-0.3l-0.9 0.3l-1-0.3l-0.9 0.3l-1-0.3l-0.9 0.3l-1-0.3l-0.9 0.3l-1-0.3l-0.9 0.3l-1-0.3l-0.9 0.3l-1-0.3l-0.9 0.3l-1-0.3l-0.9 0.3l-1-0.3l-0.9 0.3l-1-0.3l-0.9 0.3l-1-0.3l-1.7 0.4l-1.2 1.3l-0.4 1.6l0.3 1.2l-0.3 1.3l0.3 1.2l-0.3 1.2l0.3 1.2l-0.3 1.3l0.3 1.2l-0.3 1.2l0.3 1.2l-0.3 1.2l0.3 1.3l-0.3 1.2l0.3 1.2l-0.3 1.2l0.4 1.7l1.2 1.2l1.7 0.4l1-0.2l0.9 0.2l1-0.2l0.9 0.2l1-0.2l0.9 0.2l1-0.2l0.9 0.2l1-0.2l0.9 0.2l1-0.2l0.9 0.2l1-0.2l0.9 0.2l1-0.2l0.9 0.2l1-0.2l0.9 0.2l1-0.2l0.9 0.2l1-0.2l0.9 0.2l1-0.2l0.9 0.2l1-0.2l0.9 0.2l1-0.2l0.9 0.2l1-0.2l0.9 0.2l1-0.2l0.9 0.2l1-0.2l0.9 0.2l1-0.2l0.9 0.2l1-0.2l0.9 0.2l1-0.2l0.9 0.2l1-0.2l0.9 0.2l1-0.2l0.9 0.2l1-0.2l0.9 0.2l1-0.2l0.9 0.2l1-0.2l0.9 0.2l1-0.2l0.9 0.2l1-0.2l0.9 0.2l1-0.2l0.9 0.2l1-0.2l0.9 0.2l1-0.2l0.9 0.2l1-0.2l0.9 0.2l1-0.2l0.9 0.2l1-0.2l0.9 0.2l1-0.2l0.9 0.2l1-0.2l0.9 0.2l1-0.2l0.9 0.2l1-0.2l0.9 0.2l1-0.2l0.9 0.2l1-0.2l0.9 0.2l1-0.2l0.9 0.2l1-0.2l0.9 0.2l1-0.2l0.9 0.2l1-0.2l0.9 0.2l1-0.2l0.9 0.2l1-0.2l0.9 0.2l1-0.2l0.9 0.2l1-0.2l0.9 0.2l1-0.2l0.9 0.2l1-0.2l0.9 0.2l1-0.2l0.9 0.2l1-0.2l0.9 0.2l1-0.2l0.9 0.2l1-0.2l0.9 0.2l1-0.2l0.9 0.2l1-0.2l0.9 0.2l1-0.2l0.9 0.2l1-0.2l0.9 0.2l1-0.2l0.9 0.2l1-0.2l0.9 0.2l1-0.2l0.9 0.2l1-0.2l0.9 0.2l1-0.2l0.9 0.2l1-0.2l0.9 0.2l1-0.2l0.9 0.2l1-0.2l0.9 0.2l1-0.2l0.9 0.2l1-0.2l0.9 0.2l1-0.2l0.9 0.2l1-0.2l0.9 0.2l1-0.2l0.9 0.2l1-0.2l0.9 0.2l1-0.2l0.9 0.2l1-0.2l0.9 0.2l1-0.2l0.9 0.2l1-0.2l0.9 0.2l1-0.2l0.9 0.2l1-0.2l0.9 0.2l1-0.2l0.9 0.2l1-0.2l0.9 0.2l1-0.2l0.9 0.2l1-0.2l0.9 0.2l1-0.2l0.9 0.2l1-0.2l0.9 0.2l1-0.2l0.9 0.2l1-0.2l0.9 0.2l1-0.2l0.9 0.2l1-0.2l0.9 0.2l1-0.2l0.9 0.2l1-0.2l0.9 0.2l1-0.2l0.9 0.2l1-0.2l0.9 0.2l1-0.2l0.9 0.2l1-0.2l0.9 0.2l1-0.2l0.9 0.2l1-0.2l0.9 0.2l1-0.2l0.9 0.2l1-0.2l0.9 0.2l1-0.2l0.9 0.2l1-0.2l0.9 0.2l1-0.2l0.9 0.2l1.7-0.4l1.2-1.2l0.3-1l0.7 0.2l0.9-0.3l1 0.3l0.9-0.3l1 0.3l0.9-0.3l1 0.3l0.9-0.3l1 0.3l0.9-0.3l1 0.3l0.9-0.3l1 0.3l0.9-0.3l1 0.3l0.9-0.3l1 0.3l0.9-0.3l1 0.3l0.9-0.3l1 0.3l0.9-0.3l1 0.3l0.9-0.3l1 0.3l0.9-0.3l1 0.3l0.9-0.3l1 0.3l0.9-0.3l1 0.3l0.9-0.3l1 0.3l0.9-0.3l1 0.3l0.9-0.3l1 0.3l0.9-0.3l1 0.3l0.9-0.3l1 0.3l0.9-0.3l1 0.3l0.9-0.3l1 0.3l0.9-0.3l1 0.3l0.9-0.3l1 0.3l0.9-0.3l1 0.3l0.9-0.3l1 0.3l0.9-0.3l1 0.3l0.9-0.3l1 0.3l0.9-0.3l1 0.3l0.9-0.3l1 0.3l0.9-0.3l1 0.3l0.9-0.3l1 0.3l0.9-0.3l1 0.3l0.9-0.3l1 0.3l0.9-0.3l1 0.3l0.9-0.3l1 0.3l0.9-0.3l1 0.3l0.9-0.3l1 0.3l0.9-0.3l1 0.3l0.9-0.3l1 0.3l0.9-0.3l1 0.3l0.9-0.3l1 0.3l0.9-0.3l1 0.3l0.9-0.3l1 0.3l0.9-0.3l1 0.3l0.9-0.3l1 0.3l0.9-0.3l1 0.3l0.9-0.3l1 0.3l0.9-0.3l1 0.3l0.9-0.3l1 0.3l0.9-0.3l1 0.3l0.9-0.3l1 0.3l0.9-0.3l1 0.3l1.6-0.4l1.2-1.2l0.4-1l0.6 0.1l0.9-0.2l1 0.2l0.9-0.2l1 0.2l0.9-0.2l1 0.2l0.9-0.2l1 0.2l0.9-0.2l1 0.2l0.9-0.2l1 0.2l0.9-0.2l1 0.2l1.6-0.4l1.2-1.2l0.3-0.9l0.7 0.1l0.9-0.3l1 0.3l0.9-0.3l1 0.3l0.9-0.3l1 0.3l0.9-0.3l1 0.3l0.9-0.3l1 0.3l0.9-0.3l1 0.3l1.6-0.4l1.2-1.2l0.3-1l0.7 0.1l1.6-0.4l1.2-1.2z" fill="#ff0000"/>
<path d="M1643.7 866.1l-1 0.8l-0.7 1.3l-0.5 0.1l-0.9-0.2l-1 0.2l-0.9-0.2l-1 0.2l-0.9-0.2l-1 0.2l-0.9-0.2l-1 0.2l-0.9-0.2l-1 0.2l-0.9-0.2l-1 0.2l-0.9-0.2l-1 0.2l-0.9-0.2l-1 0.2l-0.9-0.2l-1 0.2l-0.9-0.2l-1.5 0.3l-1.6-0.2l-1.7 0.5l-0.9 0.9l-0.4 1l-0.6 0.2l-1-0.3l-0.9 0.3l-1-0.3l-0.9 0.3l-1-0.3l-0.9 0.3l-1-0.3l-0.9 0.3l-1-0.3l-0.9 0.3l-1-0.3l-0.9 0.3l-1-0.3l-0.9 0.3l-1-0.3l-1.6 0.4l-1.2 1.2l-0.4 1l-0.6-0.1l-0.9 0.2l-1-0.2l-0.9 0.2l-1-0.2l-0.9 0.2l-1-0.2l-0.9 0.2l-1-0.2l-0.9 0.2l-1-0.2l-0.9 0.2l-1-0.2l-0.9 0.2l-1-0.2l-0.9 0.2l-1-0.2l-0.9 0.2l-1-0.2l-0.9 0.2l-1-0.2l-1.6 0.4l-1.2 1.2l-0.2 0.9l-0.8-0.1l-1 0.2l-0.9-0.2l-0.9 0.3l-1-0.3l-0.9 0.3l-1-0.3l-0.9 0.3l-1-0.3l-0.9 0.3l-1-0.3l-0.9 0.3l-1-0.3l-0.9 0.3l-1-0.3l-0.9 0.3l-1-0.3l-0.9 0.3l-1-0.3l-1.6 0.4l-1.2 1.3l-0.3 0.9l-0.1 0l-0.6-0.1l-0.9 0.2l-1-0.2l-0.9 0.2l-1-0.2l-0.9 0.2l-1-0.2l-0.9 0.2l-1-0.2l-0.9 0.2l-1-0.2l-0.9 0.2l-1-0.2l-0.9 0.2l-1-0.2l-0.9 0.2l-1-0.2l-0.9 0.2l-1-0.2l-0.9 0.2l-1-0.2l-1.6 0.4l-1.2 1.2l-0.3 0.8l-1.8 0.2l-0.8-0.2l-0.9 0.3l-1-0.3l-0.9 0.3l-1-0.3l-1.6 0.4l-1.2 1.3l-0.3 1.1l-0.4 0.1l-1.2 1.2l-0.3 1.1l-0.4 0.1l-1.2 1.3l-0.5 1.6l0.4 1.2l-0.4 1.3l0.4 1.2l-0.4 1.2l0.4 1.2l-0.2 0.6l-0.7-0.2l-1.6 0.4l-1.2 1.2l-0.3 1l-0.7-0.1l-0.9 0.2l-1-0.2l-0.9 0.2l-1-0.2l-0.9 0.2l-1-0.2l-0.9 0.2l-1-0.2l-0.9 0.2l-1-0.2l-0.9 0.2l-1-0.2l-0.9 0.2l-1-0.2l-0.9 0.2l-1-0.2l-0.9 0.2l-1-0.2l-0.9 0.2l-1-0.2l-0.9 0.2l-1-0.2l-0.9 0.2l-1-0.2l-0.9 0.2l-1-0.2l-0.9 0.2l-1-0.2l-0.9 0.2l-1-0.2l-0.9 0.2l-1-0.2l-1.6 0.4l-1.2 1.2l-0.5 1.7l0.5 1.6l1.2 1.2l1.6 0.4l1-0.2l0.9 0.2l1-0.2l0.9 0.2l1-0.2l0.9 0.2l1-0.2l0.9 0.2l1-0.2l0.9 0.2l1-0.2l0.9 0.2l1-0.2l0.9 0.2l1-0.2l0.9 0.2l1-0.2l0.9 0.2l1-0.2l0.9 0.2l1-0.2l0.9 0.2l1-0.2l0.9 0.2l1-0.2l0.9 0.2l1-0.2l0.9 0.2l1-0.2l0.9 0.2l1-0.2l0.9 0.2l0.7-0.1l0.3 1l1.2 1.2l1.6 0.4l0.7-0.2l0.2 0.6l-0.4 1.2l0.4 1.2l-0.4 1.2l0.4 1.3l-0.4 1.2l0.5 1.6l1.2 1.3l0.4 0.1l0.3 1.1l1.2 1.2l0.4 0.1l0.3 1.1l1.2 1.3l1.6 0.4l1-0.3l0.9 0.3l1-0.3l0.6 0.2l0.4 0.9l0.6 0.7l1.4 0.7l1 0.1l1.1-0.3l1.5 0.4l1-0.2l0.9 0.2l1-0.2l0.9 0.2l1-0.2l0.9 0.2l1-0.2l0.9 0.2l1-0.2l0.9 0.2l1-0.2l0.9 0.2l1-0.2l0.9 0.2l0.6-0.1l0.4 0.9l1.2 1.3l1.6 0.4l1-0.3l0.9 0.3l1-0.3l0.9 0.3l1-0.3l0.9 0.3l1-0.3l0.9 0.3l1-0.3l0.9 0.3l1-0.3l0.9 0.3l1-0.3l0.9 0.3l1-0.3l0.9 0.3l0.7-0.1l0.3 0.9l1.2 1.2l1.6 0.4l1-0.2l0.9 0.2l1-0.2l0.9 0.2l1-0.2l0.9 0.2l1-0.2l0.9 0.2l1-0.2l0.9 0.2l1-0.2l0.9 0.2l1-0.2l0.9 0.2l0.8 0l0.2 0.9l1.2 1.2l1.6 0.4l1-0.3l0.9 0.3l1-0.3l0.9 0.3l1-0.3l0.9 0.3l1-0.3l0.9 0.3l1-0.3l0.9 0.3l1-0.3l0.9 0.3l0.7-0.2l0.3 1l1.2 1.2l1.6 0.4l1-0.2l0.9 0.2l1-0.2l0.9 0.2l1-0.2l0.9 0.2l1-0.2l0.9 0.2l1-0.2l0.9 0.2l1-0.2l0.9 0.2l1-0.2l1 0.2l0.6-0.1l0.3 0.9l1.2 1.3l1.7 0.4l0.9-0.3l1 0.3l0.9-0.3l1 0.3l0.9-0.3l1 0.3l0.9-0.3l1 0.3l0.9-0.3l1 0.3l0.9-0.3l1 0.3l0.9-0.3l1 0.3l0.9-0.3l1 0.3l0.7-0.1l0.2 0.9l1.2 1.2l1.7 0.4l0.9-0.2l1 0.2l0.9-0.2l1 0.2l0.9-0.2l1 0.2l0.9-0.2l1 0.2l0.9-0.2l1 0.2l0.9-0.2l1 0.2l0.9-0.2l1 0.2l0.9-0.2l0.6 0.2l0.4 0.9l0.9 0.9l1.5 0.5l1.7-0.2l1.6 0.4l0.9-0.3l1 0.3l0.9-0.3l1 0.3l0.9-0.3l1 0.3l0.9-0.3l1 0.3l0.9-0.3l1 0.3l0.9-0.3l1 0.3l0.9-0.3l1 0.3l0.3-0.1l0.4 0.1l0.2 0.8l1.2 1.2l1.7 0.4l0.9-0.2l1 0.2l0.9-0.2l1 0.2l0.9-0.2l1 0.2l0.9-0.2l1 0.2l0.9-0.2l1 0.2l0.6-0.1l0.3 0.9l1.2 1.3l1.7 0.4l0.9-0.3l1 0.3l0.9-0.3l1 0.3l0.9-0.3l1 0.3l0.9-0.3l1 0.3l0.9-0.3l1 0.3l0.9-0.3l1 0.3l0.9-0.3l1 0.3l1.6-0.4l1.2-1.3l0.3-1.1l0.4-0.1l1.2-1.2l0.3-1.1l0.4-0.1l1.2-1.3l0.3-1.1l0.4-0.1l1.2-1.2l0.3-1.1l0.4-0.1l1.2-1.3l0.3-1.1l0.4-0.1l1.2-1.2l0.5-1.7l-0.4-1.2l0.2-0.7l0.4-0.1l1.2-1.2l0.3-1.1l0.4-0.1l1.2-1.3l0.3-1.1l0.4-0.1l1.2-1.2l0.3-1.1l0.4-0.1l1.2-1.3l0.5-1.6l-0.4-1.2l0.2-0.7l0.4-0.1l1.2-1.3l0.3-1.1l0.4-0.1l1.2-1.2l0.3-1.1l0.4-0.1l1.2-1.2l0.3-1.2l0.4-0.1l1.2-1.2l0.5-1.7l-0.3-1.2l0.1-0.7l0.4-0.1l1.2-1.2l0.5-1.6l-0.5-1.7l-1.2-1.2l-0.4-0.1l-0.1-0.7l0.3-1.2l-0.5-1.7l-1.2-1.2l-0.4-0.1l-0.3-1.1l-1.2-1.3l-0.4-0.1l-0.3-1.1l-1.2-1.2l-0.4-0.1l-0.3-1.1l-1.2-1.3l-0.4-0.1l-0.2-0.7l0.4-1.2l-0.5-1.6l-1.2-1.3l-0.4-0.1l-0.3-1.1l-1.2-1.2l-0.4-0.1l-0.3-1.1l-1.2-1.3l-0.4-0.1l-0.3-1.1l-1.2-1.2l-0.4-0.1l-0.2-0.7l0.4-1.2l-0.5-1.7l-1.2-1.2l-0.4-0.1l-0.3-1.2l-1.2-1.2l-0.4-0.1l-0.3-1.1l-1.2-1.2l-0.4-0.1l-0.3-1.1l-1.2-1.3l-0.4-0.1l-0.3-1.1l-1.2-1.2l-0.4-0.1l-0.3-1.1l-1.2-1.3l-1.6-0.4l-1 0.3l-0.9-0.3l-1 0.3l-0.9-0.3l-1 0.3l-0.9-0.3l-1.7 0.4l-1.2 1.3l-0.2 0.9l-0.7-0.2l-1 0.3l-0.9-0.3l-1 0.3l-0.9-0.3l-1 0.3l-0.9-0.3l-1.7 0.5l-1.2 1.2l-0.3 1l-0.6-0.2l-1 0.3l-0.9-0.3l-1 0.3l-0.9-0.3l-1 0.3l-0.9-0.3l-1.7 0.4l-1.2 1.3l-0.2 0.9l-0.7-0.1l-1 0.2l-0.9-0.2l-1 0.2l-0.9-0.2l-1 0.2l-0.9-0.2l-1 0.2l-0.9-0.2l-1 0.2l-0.9-0.2l-1.7 0.4l-1.2 1.2l-0.3 1l-0.6-0.2l-1 0.3l-0.9-0.3l-1 0.3l-0.9-0.3l-1 0.3l-0.9-0.3l-1 0.3l-0.9-0.3l-1 0.3l-0.9-0.3l-1 0.3l-0.9-0.3l-1 0.3l-0.9-0.3l-1 0.3l-0.9-0.3l-1.4 0.4l-1-0.3l-0.9 0zM1738.4 904.9l1.2 1.2l0.4 0.1l0.3 1.1l1.2 1.2l0.4 0.1l0.3 1.2l1.2 1.2l0.4 0.1l0.2 0.7l-0.3 1.2l0.4 1.6l1.2 1.3l0.4 0.1l0.3 1.1l1.2 1.2l0.4 0.1l0.3 1.1l1.2 1.3l0.4 0.1l0.3 1.1l1.2 1.2l0.4 0.1l0.3 1.1l1.2 1.3l0.4 0.1l0.2 0.7l-0.3 1.2l0.4 1.7l1.2 1.2l0.4 0.1l0.3 1.1l1.2 1.2l0.4 0.1l0.3 1.1l1.2 1.3l0.4 0.1l0.3 1.1l1.2 1.2l0.4 0.1l0.3 1.1l1.2 1.3l0.4 0.1l0.2 0.7l-0.3 1.2l0.4 1.6l1.2 1.3l0.4 0.1l0.3 1.1l1.2 1.2l0.4 0.1l0.3 1.1l1.2 1.3l0.4 0.1l0.3 1.1l1.2 1.2l0.4 0.1l0.2 0.7l-0.3 1.2l0.4 1.7l1.2 1.2l0.4 0.1l0.3 1.2l1.2 1.2l0.4 0.1l0.3 1.1l1.2 1.2l0.4 0.1l0.3 1.1l1.2 1.3l0.4 0.1l0.3 1.1l1.2 1.2l0.4 0.1l0.3 1.1l1.2 1.3l0.4 0.1l0.3 1.1l1.2 1.2l0.4 0.1l0.2 0.7l-0.3 1.2l0.4 1.7l1.2 1.2l0.4 0.1l0.3 1.2l1.2 1.2l1.7 0.4l0.9-0.3l0.5 0.3l-1.2 0.1l-1 0.5l2.2 2.6l0.4 0l2.6-2.2l-0.9-0.6l-1.2-0.3l0.5-0.4l1 0.3l1.6-0.4l1.3-1.2l0.4-1.7l-0.3-1.2l0.3-1.3l-0.3-1.2l0.3-1.2l-0.3-1.2l0.3-1.2l-0.3-1.3l0.3-1.2l-0.4-1.7l-1.3-1.2l-0.3-0.1l-0.3-1.1l-1.3-1.2l-0.3-0.1l-0.3-1.1l-1.3-1.3l-0.3-0.1l-0.2-0.7l0.3-1.2l-0.3-1.2l0.3-1.3l-0.3-1.2l0.3-1.2l-0.3-1.2l0.3-1.2l-0.4-1.7l-1.3-1.2l-0.3-0.1l-0.2-0.7l0.3-1.2l-0.3-1.3l0.3-1.2l-0.4-1.6l-1.3-1.3l-0.3-0.1l-0.2-0.7l0.3-1.2l-0.3-1.2l0.3-1.3l-0.3-1.2l0.3-1.2l-0.3-1.2l0.3-1.3l-0.3-1.2l0.3-1.2l-0.3-1.2l0.3-1.3l-0.3-1.2l0.3-1.2l-0.3-1.2l0.3-1.2l-0.3-1.3l0.3-1.2l-0.3-1.2l0.3-1.2l-0.3-1.3l0.3-1.2l-0.3-1.2l0.3-1.3l-0.3-1.2l0.3-1.2l-0.3-1.2l0.3-1.3l-0.3-1.2l0.3-1.2l-0.3-1.2l0.3-1.2l-0.3-1.3l0.3-1.2l-0.3-1.2l0.3-1.2l-0.3-1.3l0.3-1.2l-0.3-1.2l0.3-1.2l-0.3-1.3l0.3-1.2l-0.3-1.2l0.3-1.3l-0.3-1.2l0.3-1.2l-0.3-1.2l0.3-1.3l-0.3-1.2l0.3-1.2l-0.3-1.2l0.3-1.3l-0.3-1.2l0.3-1.2l-0.3-1.2l0.3-1.2l-0.3-1.3l0.3-1.2l-0.3-1.2l0.3-1.2l-0.3-1.3l0.3-1.2l-0.3-1.2l0.2-0.7l0.3-0.1l1.3-1.2l0.4-1.7l-0.3-1.2l0.2-0.7l0.3-0.1l1.3-1.2l0.4-1.7l-0.3-1.2l0.3-1.2l-0.3-1.3l0.3-1.2l-0.3-1.2l0.3-1.2l-0.3-1.3l0.3-1.2l-0.3-1.2l0.3-1.2l-0.3-1.3l0.1-0.5l0.7 0.1l1.6-0.4l1.3-1.2l0.3-1.1l0.3-0.1l1.3-1.3l0.4-1.6l-0.3-1.2l0.3-1.3l-0.3-1.2l0.3-1.2l-0.3-1.2l0.3-1.3l-0.4-1.6l-1.3-1.2l-0.4-0.2l-0.2-1.1l-1.3-1.2l-1.6-0.4l-1.7 0.4l-1.2 1.2l-0.2 1l-0.7-0.1l-1.7 0.4l-1.2 1.2l-0.3 1.1l-0.4 0.1l-1.2 1.3l-0.3 1.1l-0.4 0.1l-1.2 1.2l-0.3 1.1l-0.4 0.1l-1.2 1.3l-0.3 1.1l-0.4 0.1l-1.2 1.2l-0.3 1.1l-0.4 0.1l-1.2 1.3l-0.4 1.6l0.3 1.2l-0.2 0.7l-0.4 0.1l-1.2 1.3l-0.3 1.1l-0.4 0.1l-1.2 1.2l-0.3 1.1l-0.4 0.1l-1.2 1.2l-0.3 1.2l-0.4 0.1l-1.2 1.2l-0.4 1.7l0.3 1.2l-0.2 0.7l-0.4 0.1l-1.2 1.2l-0.3 1.1l-0.4 0.1l-1.2 1.3l-0.3 1.1l-0.4 0.1l-1.2 1.2l-0.4 1.6l0.3 1.3l-0.2 0.7l-0.4 0.1l-1.2 1.2l-0.3 1.1l-0.4 0.1l-1.2 1.2l-0.3 1.2l-0.4 0.1l-1.2 1.2l-0.3 1.1l-0.4 0.1l-1.2 1.2l-0.4 1.7l0.3 1.2l-0.2 0.7l-0.4 0.1l-1.2 1.3l-0.3 1.1l-0.4 0.1l-1.2 1.2l-0.3 1.1l-0.4 0.1l-1.2 1.3l-0.3 1.1l-0.4 0.1l-1.2 1.2l-0.3 1.1l-0.4 0.1l-1.2 1.3l-0.4 1.6l0.3 1.2l-0.2 0.7l-0.4 0.1l-1.2 1.3l-0.3 1.1l-0.4 0.1l-1.2 1.2l-0.3 1.1l-0.4 0.1l-1.2 1.2l-0.3 1.2l-0.4 0.1l-1.2 1.2l-0.4 1.7l0.4 1.6l1.2 1.2l0.4 0.1z" fill="#ff0000"/>
<path d="M1655.7 804.5l1.6-1.4l0.7-1.4l0-1l-0.2-0.9l-1.1-1.6l-1.5-0.7l-1.5 0l-1.7-0.5l-0.7 0.2l-0.3-1l-1.2-1.2l-0.4-0.1l-0.3-1.1l-1.2-1.3l-1.6-0.4l-1 0.3l-0.9-0.3l-1 0.3l-0.9-0.3l-1 0.3l-0.9-0.3l-1.7 0.4l-1.2 1.3l-0.3 0.9l-0.6-0.1l-1 0.2l-0.9-0.2l-1 0.2l-0.9-0.2l-1.7 0.4l-1.2 1.2l-0.3 1l-0.6-0.2l-1 0.3l-0.9-0.3l-1 0.3l-0.9-0.3l-1.7 0.4l-1.2 1.2l-0.3 1l-0.6-0.1l-1 0.2l-0.9-0.2l-1 0.2l-0.9-0.2l-1.7 0.4l-1.2 1.2l-0.3 1l-0.7-0.2l-0.9 0.3l-1-0.3l-1.6 0.4l-1.2 1.3l-0.3 0.9l-0.7-0.1l-0.9 0.2l-1-0.2l-1.6 0.4l-1.2 1.2l-0.3 1l-0.7-0.2l-0.9 0.3l-1-0.3l-1.6 0.5l-1.6-0.1l-3.3 1.2l-1.3 0.9l-1.4 0.4l-1.5-0.1l-3.8 1.1l-1.1 0.7l-0.7 1.1l-0.4 1.2l0 0.9l0.4 1.2l0.9 1l1.2 0.5l1.2 0l4-0.6l1.5-0.9l1.5-0.4l1.5 0.2l3.3-0.8l1.2-0.6l1-1.1l0.9 0.3l1-0.3l0.9 0.3l1-0.3l0.9 0.3l1-0.3l0.9 0.3l1-0.3l0.9 0.3l1.7-0.4l1.2-1.2l0.3-1l0.6 0.1l1-0.2l0.9 0.2l1-0.2l1 0.2l0.9-0.2l1 0.2l0.9-0.2l1 0.2l1.6-0.4l1.2-1.2l0.3-1l0.7 0.2l0.9-0.3l1 0.3l0.9-0.3l1 0.3l0.9-0.3l1 0.3l0.9-0.3l1 0.3l0.9-0.3l1 0.3l0.9-0.3l1 0.3l0.9-0.3l1 0.3l0.9-0.3l1 0.3l0.9-0.3l1 0.3l0.9-0.3l1 0.3l1.6-0.4l1.2-1.2l0.3-1l0.7 0.1l0.9-0.2l1 0.2l1.6-0.4l1-1l1.5 0.4z" fill="#ff0000"/>
<path d="M1591.6 991.8l5.5 2.4l1 0.1l0.8-0.1l0.8 0.3l1.1 1.2l2 0.9l1 0.2l0.8-0.2l1.7 0.5l1-0.2l0.9 0.2l0.7-0.1l0.3 0.9l1.2 1.3l1.6 0.4l1-0.3l0.9 0.3l1-0.3l0.9 0.3l0.7-0.2l0.3 1l1.2 1.2l1.7 0.4l0.9-0.2l1 0.2l0.6-0.1l0.3 1l1.2 1.2l1.7 0.4l0.9-0.3l1 0.3l0.9-0.3l1 0.3l0.6-0.2l0.3 1l1.2 1.2l1.7 0.4l0.9-0.2l1 0.2l0.6-0.1l0.3 1l1.2 1.2l1.7 0.4l0.9-0.3l1 0.3l0.9-0.3l1 0.3l0.9-0.3l1 0.3l1-0.2l0.9 0.2l0.9-0.3l1 0.3l1.6-0.4l1.2-1.2l0.3-1.2l0.4-0.1l1.2-1.2l0.5-1.7l-0.4-1.2l0.4-1.2l-0.4-1.2l0.4-1.2l-0.5-1.7l-1.2-1.2l-0.4-0.1l-0.3-1.2l-1.2-1.2l-1.6-0.4l-1 0.3l-0.9-0.3l-1 0.3l-0.9-0.3l-0.7 0.2l-0.3-1l-1.2-1.2l-1.6-0.4l-1 0.2l-0.9-0.2l-1 0.2l-0.9-0.2l-1 0.2l-0.9-0.2l-1 0.2l-0.9-0.2l-1 0.2l-0.9-0.2l-1.7 0.4l-0.2 0.2l-0.3-0.2l-1.6-0.4l-1 0.2l-0.9-0.2l-1 0.2l-0.9-0.2l-1 0.2l-0.9-0.2l-0.7 0.1l-0.3-0.9l-1.2-1.3l-1.6-0.4l-1 0.3l-1-0.3l-0.9 0.3l-1-0.3l-0.9 0.3l-1-0.3l-0.9 0.3l-1-0.3l-0.9 0.3l-1-0.3l-0.9 0.3l-1-0.3l-1.4 0.4l-1.1-0.3l-1.7 0.3l-1.1-0.3l-0.7-0.6l-0.8-0.4l-9.4-3.3l-3-0.2l-0.9 0.2l-0.9 0.5l-0.8 1l-0.4 1.2l0.1 1.3l0.6 1.1l1.3 1z" fill="#ff0000"/>
<path d="M1788.3 865l0 71l1 2l3.7 0l1-2l0-71l-1-2l-3.7 0z" fill="#ff0000"/>
<circle cx="1079.9" cy="882.7" r="3.3" fill="#ff0000"/>
<circle cx="1054.2" cy="914.6" r="3.3" fill="#ff0000"/>
<circle cx="1066.9" cy="914.6" r="3.3" fill="#ff0000"/>
<circle cx="1082.7" cy="920.1" r="3.3" fill="#ff0000"/>
<circle cx="1095.3" cy="913.1" r="3.3" fill="#ff0000"/>
<circle cx="1792.5" cy="858.3" r="3.5" fill="#ff0000"/>
<circle cx="1792.5" cy="943.2" r="3.5" fill="#ff0000"/>
<ellipse cx="1796.3" cy="900.8" rx="6.3" ry="16.8" fill="#0000ff"/>
<ellipse cx="1795.8" cy="900.5" rx="7.6" ry="14" fill="#00ff00"/>
<ellipse cx="1789.5" cy="876.3" rx="3.3" ry="3.3" fill="#00ff00"/>
<text class="s" font-size="39.5" transform="translate(129.5 532.1) scale(0.94 1)" text-anchor="end">0</text>
<text class="s" font-size="39.5" transform="translate(130.4 406.27) scale(0.94 1)" text-anchor="end">45</text>
<text class="s" font-size="39.5" transform="translate(130.4 280.45) scale(0.94 1)" text-anchor="end">90</text>
<text class="s" font-size="39.5" transform="translate(129.1 153.72) scale(0.94 1)" text-anchor="end">135</text><rect x="69.44" y="150.22" width="7.22" height="4.2" fill="#fff"/><rect x="79.9" y="150.22" width="6.8" height="4.2" fill="#fff"/>
<text class="s" font-size="39.5" transform="translate(129.1 27.9) scale(0.94 1)" text-anchor="end">180</text><rect x="69.44" y="24.4" width="7.22" height="4.2" fill="#fff"/><rect x="79.9" y="24.4" width="6.8" height="4.2" fill="#fff"/>
<text class="s" font-size="39.5" transform="translate(150 566.6) scale(0.94 1)" text-anchor="middle">0</text>
<text class="s" font-size="39.5" transform="translate(291.9 566.6) scale(0.94 1)" text-anchor="middle">0.2</text>
<text class="s" font-size="39.5" transform="translate(443.4 566.6) scale(0.94 1)" text-anchor="middle">0.4</text>
<text class="s" font-size="39.5" transform="translate(595.9 566.6) scale(0.94 1)" text-anchor="middle">0.6</text>
<text class="s" font-size="39.5" transform="translate(747.75 566.6) scale(0.94 1)" text-anchor="middle">0.8</text>
<text class="s" font-size="39.5" transform="translate(912.4 566.6) scale(0.94 1)" text-anchor="middle">1</text><rect x="904.33" y="563.1" width="7.13" height="4.2" fill="#fff"/><rect x="914.7" y="563.1" width="6.8" height="4.2" fill="#fff"/>
<g transform="translate(44.7 333.5) rotate(-90)">
<text class="l i" font-size="40" transform="translate(-3 0) scale(1.25 1)">i</text>
<text class="l" font-size="31" x="11.96" y="6.3">0</text>
<text class="l" font-size="40" x="45.3 58.1 81.7 99.7 121.1" y="-1.5 0 0 0 -1.5">(deg)</text>
</g>
<text class="l i" font-size="39" x="506.13" y="605.2">e</text>
<text class="l" font-size="31" x="524.46" y="611.4">0</text>
<text class="r i" font-size="38.5" transform="translate(379.06 74) scale(1 1.04)">κ</text>
<text class="r" font-size="24" x="398.94" y="84">Ob</text>
<text class="r" font-size="39" transform="translate(438.22 78) scale(1.17 1)">=</text>
<text class="r" font-size="38.5" transform="translate(470.46 74) scale(1 1.04)">0</text>
<text class="r" font-size="38.5" transform="translate(490.16 74) scale(1 1.04)">,</text>
<text class="r i" font-size="38.5" transform="translate(515.03 74) scale(1 1.04)">ε</text>
<text class="r" font-size="24" x="530.64" y="84">Oct</text>
<text class="r" font-size="39" transform="translate(576.22 78) scale(1.17 1)">=</text>
<text class="r" font-size="38.5" transform="translate(608.36 74) scale(1 1.04)">0.03</text>
<circle cx="268.2" cy="418" r="7" fill="#ff0000"/>
<text class="r i" font-size="33" x="299.51" y="426.2">ω</text>
<text class="r" font-size="18.6" x="321.56" y="435.2">0</text>
<text class="r" font-size="26.4" transform="translate(340.1 426.5) scale(1.36 1)">=</text>
<text class="r" font-size="33" x="365.78" y="426.2">0</text>
<text class="r" font-size="33" x="381.38" y="426.2">,</text>
<text class="r" font-size="33" transform="translate(401.08 426.2) scale(1.1 1)">Ω</text>
<text class="r" font-size="18.6" x="428.66" y="435.2">0</text>
<text class="r" font-size="26.4" transform="translate(446.9 426.5) scale(1.36 1)">=</text>
<text class="r i" font-size="33" x="473.57" y="426.2">π</text>
<circle cx="270.1" cy="467.9" r="7" fill="#000"/>
<text class="r i" font-size="33" x="300.21" y="476.5">ω</text>
<text class="r" font-size="18.6" x="322.26" y="485.5">0</text>
<text class="r" font-size="26.4" transform="translate(340.8 476.8) scale(1.36 1)">=</text>
<text class="r" font-size="33" x="366.48" y="476.5">0</text>
<text class="r" font-size="33" x="382.08" y="476.5">,</text>
<text class="r" font-size="33" transform="translate(401.79 476.5) scale(1.1 1)">Ω</text>
<text class="r" font-size="18.6" x="429.36" y="485.5">0</text>
<text class="r" font-size="26.4" transform="translate(447.6 476.8) scale(1.36 1)">=</text>
<text class="r" font-size="33" x="475.58" y="476.5">0</text>
<text class="s" font-size="39.5" transform="translate(1033.7 530.8) scale(0.94 1)" text-anchor="end">0</text>
<text class="s" font-size="39.5" transform="translate(1034.6 405.15) scale(0.94 1)" text-anchor="end">45</text>
<text class="s" font-size="39.5" transform="translate(1034.6 279.5) scale(0.94 1)" text-anchor="end">90</text>
<text class="s" font-size="39.5" transform="translate(1033.3 152.95) scale(0.94 1)" text-anchor="end">135</text><rect x="973.64" y="149.45" width="7.22" height="4.2" fill="#fff"/><rect x="984.1" y="149.45" width="6.8" height="4.2" fill="#fff"/>
<text class="s" font-size="39.5" transform="translate(1033.3 27.3) scale(0.94 1)" text-anchor="end">180</text><rect x="973.64" y="23.8" width="7.22" height="4.2" fill="#fff"/><rect x="984.1" y="23.8" width="6.8" height="4.2" fill="#fff"/>
<text class="s" font-size="39.5" transform="translate(1054.4 566.6) scale(0.94 1)" text-anchor="middle">0</text>
<text class="s" font-size="39.5" transform="translate(1196.3 566.6) scale(0.94 1)" text-anchor="middle">0.2</text>
<text class="s" font-size="39.5" transform="translate(1347.8 566.6) scale(0.94 1)" text-anchor="middle">0.4</text>
<text class="s" font-size="39.5" transform="translate(1500.3 566.6) scale(0.94 1)" text-anchor="middle">0.6</text>
<text class="s" font-size="39.5" transform="translate(1652.1 566.6) scale(0.94 1)" text-anchor="middle">0.8</text>
<text class="s" font-size="39.5" transform="translate(1816.2 566.6) scale(0.94 1)" text-anchor="middle">1</text><rect x="1808.13" y="563.1" width="7.13" height="4.2" fill="#fff"/><rect x="1818.5" y="563.1" width="6.8" height="4.2" fill="#fff"/>
<g transform="translate(948.8 333.5) rotate(-90)">
<text class="l i" font-size="40" transform="translate(-3 0) scale(1.25 1)">i</text>
<text class="l" font-size="31" x="11.96" y="6.3">0</text>
<text class="l" font-size="40" x="45.3 58.1 81.7 99.7 121.1" y="-1.5 0 0 0 -1.5">(deg)</text>
</g>
<text class="l i" font-size="39" x="1410.53" y="605.2">e</text>
<text class="l" font-size="31" x="1428.86" y="611.4">0</text>
<text class="r i" font-size="38.5" transform="translate(1254.86 75) scale(1 1.04)">κ</text>
<text class="r" font-size="24" x="1274.54" y="84.8">Ob</text>
<text class="r" font-size="39" transform="translate(1314.52 79) scale(1.17 1)">=</text>
<text class="r" font-size="38.5" transform="translate(1344.13 75) scale(1 1.04)">10</text>
<text class="r" font-size="23" x="1382.65" y="57.3">−4</text>
<text class="r" font-size="38.5" transform="translate(1411.96 75) scale(1 1.04)">,</text>
<text class="r i" font-size="38.5" transform="translate(1435.83 75) scale(1 1.04)">ε</text>
<text class="r" font-size="24" x="1451.44" y="84.8">Oct</text>
<text class="r" font-size="39" transform="translate(1496.92 79) scale(1.17 1)">=</text>
<text class="r" font-size="38.5" transform="translate(1528.46 75) scale(1 1.04)">0.03</text>
<circle cx="1165.8" cy="418" r="7" fill="#ff0000"/>
<text class="r i" font-size="33" x="1197.31" y="426.2">ω</text>
<text class="r" font-size="18.6" x="1219.36" y="435.2">0</text>
<text class="r" font-size="26.4" transform="translate(1237.9 426.5) scale(1.36 1)">=</text>
<text class="r" font-size="33" x="1263.58" y="426.2">0</text>
<text class="r" font-size="33" x="1279.18" y="426.2">,</text>
<text class="r" font-size="33" transform="translate(1298.88 426.2) scale(1.1 1)">Ω</text>
<text class="r" font-size="18.6" x="1326.46" y="435.2">0</text>
<text class="r" font-size="26.4" transform="translate(1344.7 426.5) scale(1.36 1)">=</text>
<text class="r i" font-size="33" x="1371.37" y="426.2">π</text>
<circle cx="1167.7" cy="467.9" r="7" fill="#000"/>
<text class="r i" font-size="33" x="1198.41" y="476.5">ω</text>
<text class="r" font-size="18.6" x="1220.46" y="485.5">0</text>
<text class="r" font-size="26.4" transform="translate(1239 476.8) scale(1.36 1)">=</text>
<text class="r" font-size="33" x="1264.68" y="476.5">0</text>
<text class="r" font-size="33" x="1280.28" y="476.5">,</text>
<text class="r" font-size="33" transform="translate(1299.99 476.5) scale(1.1 1)">Ω</text>
<text class="r" font-size="18.6" x="1327.56" y="485.5">0</text>
<text class="r" font-size="26.4" transform="translate(1345.8 476.8) scale(1.36 1)">=</text>
<text class="r" font-size="33" x="1373.08" y="476.5">0</text>
<text class="s" font-size="39.5" transform="translate(117 1168) scale(0.94 1)" text-anchor="end">0</text>
<text class="s" font-size="39.5" transform="translate(117.9 1042) scale(0.94 1)" text-anchor="end">45</text>
<text class="s" font-size="39.5" transform="translate(117.9 916) scale(0.94 1)" text-anchor="end">90</text>
<text class="s" font-size="39.5" transform="translate(116.6 789.1) scale(0.94 1)" text-anchor="end">135</text><rect x="56.94" y="785.6" width="7.22" height="4.2" fill="#fff"/><rect x="67.4" y="785.6" width="6.8" height="4.2" fill="#fff"/>
<text class="s" font-size="39.5" transform="translate(116.6 663.1) scale(0.94 1)" text-anchor="end">180</text><rect x="56.94" y="659.6" width="7.22" height="4.2" fill="#fff"/><rect x="67.4" y="659.6" width="6.8" height="4.2" fill="#fff"/>
<text class="s" font-size="39.5" transform="translate(137.4 1202.4) scale(0.94 1)" text-anchor="middle">0</text>
<text class="s" font-size="39.5" transform="translate(279.3 1202.4) scale(0.94 1)" text-anchor="middle">0.2</text>
<text class="s" font-size="39.5" transform="translate(430.8 1202.4) scale(0.94 1)" text-anchor="middle">0.4</text>
<text class="s" font-size="39.5" transform="translate(583.3 1202.4) scale(0.94 1)" text-anchor="middle">0.6</text>
<text class="s" font-size="39.5" transform="translate(735.1 1202.4) scale(0.94 1)" text-anchor="middle">0.8</text>
<text class="s" font-size="39.5" transform="translate(899.8 1202.4) scale(0.94 1)" text-anchor="middle">1</text><rect x="891.73" y="1198.9" width="7.13" height="4.2" fill="#fff"/><rect x="902.1" y="1198.9" width="6.8" height="4.2" fill="#fff"/>
<g transform="translate(32.1 969.3) rotate(-90)">
<text class="l i" font-size="40" transform="translate(-3 0) scale(1.25 1)">i</text>
<text class="l" font-size="31" x="11.96" y="6.3">0</text>
<text class="l" font-size="40" x="45.3 58.1 81.7 99.7 121.1" y="-1.5 0 0 0 -1.5">(deg)</text>
</g>
<text class="l i" font-size="39" x="493.53" y="1241">e</text>
<text class="l" font-size="31" x="511.86" y="1247.2">0</text>
<text class="r i" font-size="38.5" transform="translate(344.86 712.6) scale(1 1.04)">κ</text>
<text class="r" font-size="24" x="364.14" y="722">Ob</text>
<text class="r" font-size="39" transform="translate(403.92 716.6) scale(1.17 1)">=</text>
<text class="r" font-size="38.5" transform="translate(433.04 712.6) scale(1 1.04)">10</text>
<text class="r" font-size="23" x="472.25" y="695">−3</text>
<text class="r" font-size="38.5" transform="translate(500.46 712.6) scale(1 1.04)">,</text>
<text class="r i" font-size="38.5" transform="translate(524.33 712.6) scale(1 1.04)">ε</text>
<text class="r" font-size="24" x="540.34" y="722">Oct</text>
<text class="r" font-size="39" transform="translate(584.72 716.6) scale(1.17 1)">=</text>
<text class="r" font-size="38.5" transform="translate(616.96 712.6) scale(1 1.04)">0.03</text>
<circle cx="258" cy="1045.5" r="7" fill="#ff0000"/>
<text class="r i" font-size="33" x="288.51" y="1053.5">ω</text>
<text class="r" font-size="18.6" x="310.56" y="1062.5">0</text>
<text class="r" font-size="26.4" transform="translate(329.1 1053.8) scale(1.36 1)">=</text>
<text class="r" font-size="33" x="354.78" y="1053.5">0</text>
<text class="r" font-size="33" x="370.38" y="1053.5">,</text>
<text class="r" font-size="33" transform="translate(390.08 1053.5) scale(1.1 1)">Ω</text>
<text class="r" font-size="18.6" x="417.66" y="1062.5">0</text>
<text class="r" font-size="26.4" transform="translate(435.9 1053.8) scale(1.36 1)">=</text>
<text class="r i" font-size="33" x="462.57" y="1053.5">π</text>
<circle cx="259.5" cy="1095.1" r="7" fill="#000"/>
<text class="r i" font-size="33" x="290.01" y="1103.1">ω</text>
<text class="r" font-size="18.6" x="312.06" y="1112.1">0</text>
<text class="r" font-size="26.4" transform="translate(330.6 1103.4) scale(1.36 1)">=</text>
<text class="r" font-size="33" x="356.28" y="1103.1">0</text>
<text class="r" font-size="33" x="371.88" y="1103.1">,</text>
<text class="r" font-size="33" transform="translate(391.58 1103.1) scale(1.1 1)">Ω</text>
<text class="r" font-size="18.6" x="419.16" y="1112.1">0</text>
<text class="r" font-size="26.4" transform="translate(437.4 1103.4) scale(1.36 1)">=</text>
<text class="r" font-size="33" x="464.28" y="1103.1">0</text>
<text class="s" font-size="39.5" transform="translate(1033.6 1167.2) scale(0.94 1)" text-anchor="end">0</text>
<text class="s" font-size="39.5" transform="translate(1034.5 1041.43) scale(0.94 1)" text-anchor="end">45</text>
<text class="s" font-size="39.5" transform="translate(1034.5 915.65) scale(0.94 1)" text-anchor="end">90</text>
<text class="s" font-size="39.5" transform="translate(1033.2 788.98) scale(0.94 1)" text-anchor="end">135</text><rect x="973.54" y="785.48" width="7.22" height="4.2" fill="#fff"/><rect x="984" y="785.48" width="6.8" height="4.2" fill="#fff"/>
<text class="s" font-size="39.5" transform="translate(1033.2 663.2) scale(0.94 1)" text-anchor="end">180</text><rect x="973.54" y="659.7" width="7.22" height="4.2" fill="#fff"/><rect x="984" y="659.7" width="6.8" height="4.2" fill="#fff"/>
<text class="s" font-size="39.5" transform="translate(1054.3 1201.6) scale(0.94 1)" text-anchor="middle">0</text>
<text class="s" font-size="39.5" transform="translate(1196.2 1201.6) scale(0.94 1)" text-anchor="middle">0.2</text>
<text class="s" font-size="39.5" transform="translate(1347.7 1201.6) scale(0.94 1)" text-anchor="middle">0.4</text>
<text class="s" font-size="39.5" transform="translate(1500.2 1201.6) scale(0.94 1)" text-anchor="middle">0.6</text>
<text class="s" font-size="39.5" transform="translate(1652 1201.6) scale(0.94 1)" text-anchor="middle">0.8</text>
<text class="s" font-size="39.5" transform="translate(1816 1201.6) scale(0.94 1)" text-anchor="middle">1</text><rect x="1807.93" y="1198.1" width="7.13" height="4.2" fill="#fff"/><rect x="1818.3" y="1198.1" width="6.8" height="4.2" fill="#fff"/>
<g transform="translate(948.7 968.5) rotate(-90)">
<text class="l i" font-size="40" transform="translate(-3 0) scale(1.25 1)">i</text>
<text class="l" font-size="31" x="11.96" y="6.3">0</text>
<text class="l" font-size="40" x="45.3 58.1 81.7 99.7 121.1" y="-1.5 0 0 0 -1.5">(deg)</text>
</g>
<text class="l i" font-size="39" x="1410.43" y="1240.2">e</text>
<text class="l" font-size="31" x="1428.76" y="1246.4">0</text>
<text class="r i" font-size="38.5" transform="translate(1258.56 703.4) scale(1 1.04)">κ</text>
<text class="r" font-size="24" x="1278.54" y="714.2">Ob</text>
<text class="r" font-size="39" transform="translate(1318.22 707.4) scale(1.17 1)">=</text>
<text class="r" font-size="38.5" transform="translate(1349.96 703.4) scale(1 1.04)">0.03</text>
<text class="r" font-size="38.5" transform="translate(1416.86 703.4) scale(1 1.04)">,</text>
<text class="r i" font-size="38.5" transform="translate(1442.43 703.4) scale(1 1.04)">ε</text>
<text class="r" font-size="24" x="1458.04" y="714.2">Oct</text>
<text class="r" font-size="39" transform="translate(1503.52 707.4) scale(1.17 1)">=</text>
<text class="r" font-size="38.5" transform="translate(1535.76 703.4) scale(1 1.04)">0.03</text>
<circle cx="1133.3" cy="975" r="7" fill="#ff0000"/>
<text class="r i" font-size="33" x="1161.51" y="983.7">ω</text>
<text class="r" font-size="18.6" x="1183.56" y="992.7">0</text>
<text class="r" font-size="26.4" transform="translate(1202.1 984) scale(1.36 1)">=</text>
<text class="r" font-size="33" x="1227.78" y="983.7">0</text>
<text class="r" font-size="33" x="1243.38" y="983.7">,</text>
<text class="r" font-size="33" transform="translate(1263.09 983.7) scale(1.1 1)">Ω</text>
<text class="r" font-size="18.6" x="1290.66" y="992.7">0</text>
<text class="r" font-size="26.4" transform="translate(1308.9 984) scale(1.36 1)">=</text>
<text class="r i" font-size="33" x="1335.57" y="983.7">π</text>
<circle cx="1133.3" cy="1020.6" r="7" fill="#000"/>
<text class="r i" font-size="33" x="1161.51" y="1028.8">ω</text>
<text class="r" font-size="18.6" x="1183.56" y="1037.8">0</text>
<text class="r" font-size="26.4" transform="translate(1202.1 1029.1) scale(1.36 1)">=</text>
<text class="r" font-size="33" x="1227.78" y="1028.8">0</text>
<text class="r" font-size="33" x="1243.38" y="1028.8">,</text>
<text class="r" font-size="33" transform="translate(1263.09 1028.8) scale(1.1 1)">Ω</text>
<text class="r" font-size="18.6" x="1290.66" y="1037.8">0</text>
<text class="r" font-size="26.4" transform="translate(1308.9 1029.1) scale(1.36 1)">=</text>
<text class="r" font-size="33" x="1335.38" y="1028.8">0</text>
<circle cx="1133.3" cy="1066" r="7" fill="#0000ff"/>
<text class="r i" font-size="33" x="1161.51" y="1074">ω</text>
<text class="r" font-size="18.6" x="1183.56" y="1083">0</text>
<text class="r" font-size="26.4" transform="translate(1202.1 1074.3) scale(1.36 1)">=</text>
<text class="r" font-size="33" x="1227.78" y="1074">0</text>
<text class="r" font-size="33" x="1243.38" y="1074">,</text>
<text class="r" font-size="33" transform="translate(1263.09 1074) scale(1.1 1)">Ω</text>
<text class="r" font-size="18.6" x="1290.66" y="1083">0</text>
<text class="r" font-size="26.4" transform="translate(1308.9 1074.3) scale(1.36 1)">=</text>
<text class="r i" font-size="33" x="1335.57" y="1074">π</text>
<text class="r" style="stroke:none" font-size="50" transform="translate(1353.5 1082.4) scale(.8 1)">/</text>
<text class="r" font-size="33" x="1365.78" y="1074">2</text>
<circle cx="1133.3" cy="1111.5" r="7" fill="#00ff00"/>
<text class="r i" font-size="33" x="1161.51" y="1119.6">ω</text>
<text class="r" font-size="18.6" x="1183.56" y="1128.6">0</text>
<text class="r" font-size="26.4" transform="translate(1202.1 1119.9) scale(1.36 1)">=</text>
<text class="r" font-size="33" x="1227.78" y="1119.6">0</text>
<text class="r" font-size="33" x="1243.38" y="1119.6">,</text>
<text class="r" font-size="33" transform="translate(1263.09 1119.6) scale(1.1 1)">Ω</text>
<text class="r" font-size="18.6" x="1290.66" y="1128.6">0</text>
<text class="r" font-size="26.4" transform="translate(1308.9 1119.9) scale(1.36 1)">=</text>
<text class="r" font-size="33" x="1335.08" y="1119.6">0</text>
<text class="r" font-size="33" x="1360.88" y="1119.6">or</text>
<text class="r i" font-size="33" x="1396.57" y="1119.6">π</text>
</svg></body></html>
